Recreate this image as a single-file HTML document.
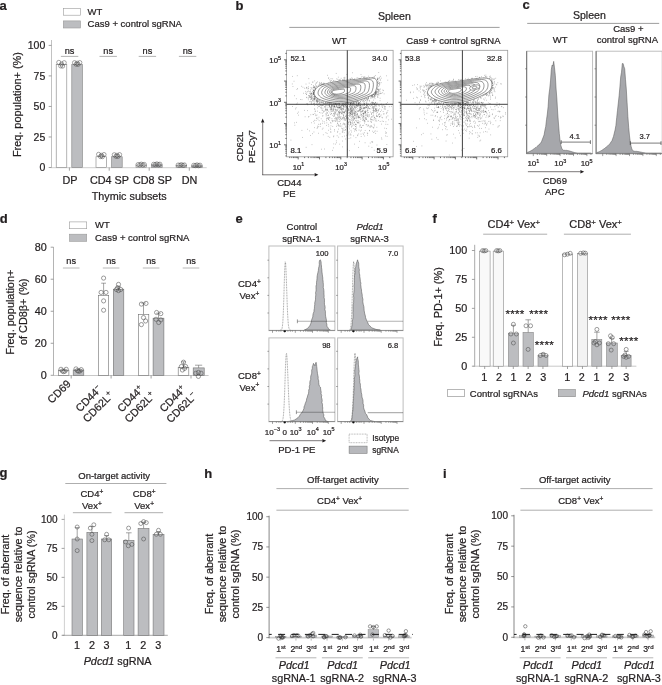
<!DOCTYPE html>
<html lang="en">
<head>
<meta charset="utf-8">
<title>Figure</title>
<style>
html,body{margin:0;padding:0;background:#fff;}
body{width:662px;height:685px;overflow:hidden;}
svg{display:block;}
svg text{font-family:"Liberation Sans",Arial,Helvetica,sans-serif;fill:#231f20;stroke:#231f20;stroke-width:0.22px;}
</style>
</head>
<body>
<svg width="662" height="685" viewBox="0 0 662 685">
<rect width="662" height="685" fill="#fff"/>
<text x="-0.5" y="9.6" font-size="13" font-weight="bold" fill="#111">a</text>
<rect x="63.3" y="8.3" width="17.2" height="6.9" fill="white" stroke="#999" stroke-width="0.6"/>
<rect x="63.3" y="20.9" width="17.2" height="7.1" fill="#bcbdc0" stroke="#999" stroke-width="0.6"/>
<text x="87.6" y="14.8" font-size="9.5">WT</text>
<text x="87.6" y="27.2" font-size="9.5">Cas9 + control sgRNA</text>
<line x1="51.5" y1="40" x2="51.5" y2="168" stroke="#c2c2c2" stroke-width="1"/>
<line x1="50.5" y1="167.7" x2="206.7" y2="167.7" stroke="#cfcfcf" stroke-width="1"/>
<line x1="48.7" y1="167.5" x2="51.5" y2="167.5" stroke="#8a8a8a" stroke-width="0.8"/>
<text x="45.3" y="171.4" font-size="10.5" text-anchor="end">0</text>
<line x1="48.7" y1="136.97" x2="51.5" y2="136.97" stroke="#8a8a8a" stroke-width="0.8"/>
<text x="45.3" y="140.88" font-size="10.5" text-anchor="end">25</text>
<line x1="48.7" y1="106.45" x2="51.5" y2="106.45" stroke="#8a8a8a" stroke-width="0.8"/>
<text x="45.3" y="110.35" font-size="10.5" text-anchor="end">50</text>
<line x1="48.7" y1="75.92" x2="51.5" y2="75.92" stroke="#8a8a8a" stroke-width="0.8"/>
<text x="45.3" y="79.83" font-size="10.5" text-anchor="end">75</text>
<line x1="48.7" y1="45.4" x2="51.5" y2="45.4" stroke="#8a8a8a" stroke-width="0.8"/>
<text x="45.3" y="49.3" font-size="10.5" text-anchor="end">100</text>
<text x="20.8" y="104.6" font-size="10.9" text-anchor="middle" transform="rotate(-90 20.8 104.6)">Freq. population+ (%)</text>
<line x1="69.4" y1="167.5" x2="69.4" y2="170.7" stroke="#8a8a8a" stroke-width="0.8"/>
<rect x="56.2" y="64.69" width="10.6" height="102.81" fill="white" stroke="#808080" stroke-width="0.6"/>
<circle cx="58.8" cy="62.41" r="2.1" fill="none" stroke="#4d4d4d" stroke-width="0.5"/>
<circle cx="64.2" cy="62.73" r="2.1" fill="none" stroke="#4d4d4d" stroke-width="0.5"/>
<circle cx="61.6" cy="64.01" r="2.1" fill="none" stroke="#4d4d4d" stroke-width="0.5"/>
<circle cx="60.7" cy="65.93" r="2.1" fill="none" stroke="#4d4d4d" stroke-width="0.5"/>
<circle cx="62.6" cy="66.09" r="2.1" fill="none" stroke="#4d4d4d" stroke-width="0.5"/>
<rect x="71.8" y="64.69" width="10.6" height="102.81" fill="#bcbdc0" stroke="#808080" stroke-width="0.6"/>
<circle cx="74.5" cy="62.69" r="2.1" fill="none" stroke="#4d4d4d" stroke-width="0.5"/>
<circle cx="79.8" cy="62.59" r="2.1" fill="none" stroke="#4d4d4d" stroke-width="0.5"/>
<circle cx="77.2" cy="63.19" r="2.1" fill="none" stroke="#4d4d4d" stroke-width="0.5"/>
<circle cx="76.2" cy="64.29" r="2.1" fill="none" stroke="#4d4d4d" stroke-width="0.5"/>
<circle cx="78.1" cy="64.39" r="2.1" fill="none" stroke="#4d4d4d" stroke-width="0.5"/>
<text x="69.9" y="184.4" font-size="10.8" text-anchor="middle">DP</text>
<text x="69.6" y="53.6" font-size="9.2" text-anchor="middle">ns</text>
<line x1="60.9" y1="56.4" x2="78.3" y2="56.4" stroke="#aaa" stroke-width="0.9"/>
<line x1="109.2" y1="167.5" x2="109.2" y2="170.7" stroke="#8a8a8a" stroke-width="0.8"/>
<rect x="96" y="156.76" width="10.6" height="10.74" fill="white" stroke="#808080" stroke-width="0.6"/>
<circle cx="98.6" cy="154.36" r="2.1" fill="none" stroke="#4d4d4d" stroke-width="0.5"/>
<circle cx="104" cy="154.56" r="2.1" fill="none" stroke="#4d4d4d" stroke-width="0.5"/>
<circle cx="101.4" cy="155.36" r="2.1" fill="none" stroke="#4d4d4d" stroke-width="0.5"/>
<circle cx="100.5" cy="156.56" r="2.1" fill="none" stroke="#4d4d4d" stroke-width="0.5"/>
<circle cx="102.4" cy="156.66" r="2.1" fill="none" stroke="#4d4d4d" stroke-width="0.5"/>
<rect x="111.6" y="156.76" width="10.6" height="10.74" fill="#bcbdc0" stroke="#808080" stroke-width="0.6"/>
<circle cx="114.3" cy="154.76" r="2.1" fill="none" stroke="#4d4d4d" stroke-width="0.5"/>
<circle cx="119.6" cy="154.66" r="2.1" fill="none" stroke="#4d4d4d" stroke-width="0.5"/>
<circle cx="117" cy="155.26" r="2.1" fill="none" stroke="#4d4d4d" stroke-width="0.5"/>
<circle cx="116" cy="156.36" r="2.1" fill="none" stroke="#4d4d4d" stroke-width="0.5"/>
<circle cx="117.9" cy="156.46" r="2.1" fill="none" stroke="#4d4d4d" stroke-width="0.5"/>
<text x="109.4" y="184.4" font-size="10.8" text-anchor="middle">CD4 SP</text>
<text x="108.2" y="53.6" font-size="9.2" text-anchor="middle">ns</text>
<line x1="99.5" y1="56.4" x2="116.9" y2="56.4" stroke="#aaa" stroke-width="0.9"/>
<line x1="149.2" y1="167.5" x2="149.2" y2="170.7" stroke="#8a8a8a" stroke-width="0.8"/>
<rect x="136" y="165.06" width="10.6" height="2.44" fill="white" stroke="#808080" stroke-width="0.6"/>
<circle cx="138.1" cy="164.56" r="2.1" fill="none" stroke="#4d4d4d" stroke-width="0.5"/>
<circle cx="144.3" cy="164.46" r="2.1" fill="none" stroke="#4d4d4d" stroke-width="0.5"/>
<circle cx="141.3" cy="164.16" r="2.1" fill="none" stroke="#4d4d4d" stroke-width="0.5"/>
<circle cx="139.8" cy="164.86" r="2.1" fill="none" stroke="#4d4d4d" stroke-width="0.5"/>
<circle cx="142.9" cy="164.96" r="2.1" fill="none" stroke="#4d4d4d" stroke-width="0.5"/>
<rect x="151.6" y="164.81" width="10.6" height="2.69" fill="#bcbdc0" stroke="#808080" stroke-width="0.6"/>
<circle cx="153.7" cy="164.31" r="2.1" fill="none" stroke="#4d4d4d" stroke-width="0.5"/>
<circle cx="159.9" cy="164.21" r="2.1" fill="none" stroke="#4d4d4d" stroke-width="0.5"/>
<circle cx="156.9" cy="163.91" r="2.1" fill="none" stroke="#4d4d4d" stroke-width="0.5"/>
<circle cx="155.4" cy="164.61" r="2.1" fill="none" stroke="#4d4d4d" stroke-width="0.5"/>
<circle cx="158.5" cy="164.71" r="2.1" fill="none" stroke="#4d4d4d" stroke-width="0.5"/>
<text x="152.4" y="184.4" font-size="10.8" text-anchor="middle">CD8 SP</text>
<text x="147.4" y="53.6" font-size="9.2" text-anchor="middle">ns</text>
<line x1="138.7" y1="56.4" x2="156.1" y2="56.4" stroke="#aaa" stroke-width="0.9"/>
<line x1="189.3" y1="167.5" x2="189.3" y2="170.7" stroke="#8a8a8a" stroke-width="0.8"/>
<rect x="176.1" y="165.55" width="10.6" height="1.95" fill="white" stroke="#808080" stroke-width="0.6"/>
<circle cx="178.2" cy="165.05" r="2.1" fill="none" stroke="#4d4d4d" stroke-width="0.5"/>
<circle cx="184.4" cy="164.95" r="2.1" fill="none" stroke="#4d4d4d" stroke-width="0.5"/>
<circle cx="181.4" cy="164.65" r="2.1" fill="none" stroke="#4d4d4d" stroke-width="0.5"/>
<circle cx="179.9" cy="165.35" r="2.1" fill="none" stroke="#4d4d4d" stroke-width="0.5"/>
<circle cx="183" cy="165.45" r="2.1" fill="none" stroke="#4d4d4d" stroke-width="0.5"/>
<rect x="191.7" y="165.79" width="10.6" height="1.71" fill="#bcbdc0" stroke="#808080" stroke-width="0.6"/>
<circle cx="193.8" cy="165.29" r="2.1" fill="none" stroke="#4d4d4d" stroke-width="0.5"/>
<circle cx="200" cy="165.19" r="2.1" fill="none" stroke="#4d4d4d" stroke-width="0.5"/>
<circle cx="197" cy="164.89" r="2.1" fill="none" stroke="#4d4d4d" stroke-width="0.5"/>
<circle cx="195.5" cy="165.59" r="2.1" fill="none" stroke="#4d4d4d" stroke-width="0.5"/>
<circle cx="198.6" cy="165.69" r="2.1" fill="none" stroke="#4d4d4d" stroke-width="0.5"/>
<text x="189.5" y="184.4" font-size="10.8" text-anchor="middle">DN</text>
<text x="187.6" y="53.6" font-size="9.2" text-anchor="middle">ns</text>
<line x1="178.9" y1="56.4" x2="196.3" y2="56.4" stroke="#aaa" stroke-width="0.9"/>
<text x="129.2" y="200" font-size="10.8" text-anchor="middle">Thymic subsets</text>
<text x="235.6" y="9.8" font-size="13" font-weight="bold" fill="#111">b</text>
<text x="394.4" y="19.5" font-size="10.6" text-anchor="middle">Spleen</text>
<line x1="289.3" y1="27.4" x2="499.6" y2="27.4" stroke="#929292" stroke-width="0.9"/>
<text x="339.3" y="43.7" font-size="9.5" text-anchor="middle">WT</text>
<text x="453.4" y="43.7" font-size="9.5" text-anchor="middle">Cas9 + control sgRNA</text>
<path d="M312.66,114.38h.6M327.17,103.25h.6M320.81,102.97h.6M313.88,98.78h.6M355.01,120.62h.6M354.64,114.99h.6M356.3,112.26h.6M312.14,93.17h.6M373.36,127.86h.6M300.99,86.27h.6M354.37,113.61h.6M377.24,89.6h.6M372.39,103.42h.6M346.8,110.83h.6M383.31,104.59h.6M337.94,112h.6M290.65,140.15h.6M348.98,150.64h.6M377.21,79.5h.6M373.45,78.55h.6M363.77,113.09h.6M346.78,111.99h.6M350.08,110.72h.6M325.16,109.65h.6M330.77,103.4h.6M314.08,127.61h.6M334.44,102.83h.6M313.76,98.75h.6M351.71,107.79h.6M351.79,106.78h.6M321.68,102.06h.6M355.31,126.56h.6M354.89,105.29h.6M379.77,98.25h.6M349.77,114.91h.6M298.01,115.17h.6M376.24,116.21h.6M362.78,133.31h.6M322.6,105.51h.6M328.51,111.27h.6M315.75,96.99h.6M352.35,101.76h.6M355.83,107.45h.6M376.4,105.96h.6M355.3,124.58h.6M320.44,123.8h.6M313.33,91.12h.6M328.3,130.27h.6M352.76,117.05h.6M352.77,105.58h.6M375.02,91.98h.6M349.73,112.24h.6M336.56,114.32h.6M344.81,107.87h.6M348.4,115.6h.6M327.39,110.43h.6M363.43,125.38h.6M311.62,98.75h.6M332.75,104.06h.6M372.62,78.1h.6M326.04,118.24h.6M388.43,119.84h.6M365.68,113.91h.6M366.94,109.86h.6M375.73,120.1h.6M325.59,107.06h.6M329.99,81.04h.6M334.38,131.06h.6M347.29,107.21h.6M321.68,110.01h.6M384.89,106.99h.6M314.85,87.86h.6M317.38,99.84h.6M326.88,112.85h.6M329.78,109.19h.6M341.48,105.58h.6M363.64,108.45h.6M387.63,110.51h.6M348.33,109.84h.6M348.63,119.14h.6M353.14,103.25h.6M311.72,98.2h.6M323.44,103.55h.6M307.94,99.76h.6M346.81,110.92h.6M360.44,105.75h.6M363.78,103.66h.6M378.45,86.6h.6M317.51,100.55h.6M350.32,103.72h.6M354.3,112.22h.6M343.18,106.37h.6M339.88,111.95h.6M374.67,92.92h.6M373.35,108.86h.6M359.69,121.72h.6M371.54,112.99h.6M375.05,93.51h.6M354.4,107.44h.6M315.66,85.49h.6M329.83,81.31h.6M347.69,103.15h.6M369.07,77.84h.6M350.49,117.05h.6M350.06,109.39h.6M374.84,130.83h.6M377.64,92.3h.6M350.54,107.76h.6M334.45,107.04h.6M331.07,109.88h.6M377.9,91.88h.6M353.44,135.85h.6M304.05,88.22h.6M327.69,107.39h.6M350.87,104.63h.6M316.03,86.42h.6M379.75,100.66h.6M332.7,109.38h.6M314.61,113.38h.6M348.21,118.36h.6M371.04,119.68h.6M355.84,101.92h.6M346.79,103.04h.6M331.7,120.35h.6M361.74,111.4h.6M332.72,106.09h.6M378.81,82.52h.6M349.99,103.74h.6M314.38,90.52h.6M355.91,115.2h.6M355.59,107.14h.6M350.73,134.95h.6M346.06,107.1h.6M358.54,105.16h.6M323.75,104.39h.6M313.06,92.79h.6M375.07,91.92h.6M333.55,81.21h.6M319.67,101.19h.6M362.78,109.03h.6M375.63,93.54h.6M339.3,112.92h.6M314.11,93.28h.6M360.23,101.24h.6M352.13,112.53h.6M320.57,105.63h.6M375.95,93.84h.6M374.81,111.15h.6M373.65,96.28h.6M337.42,115.93h.6M357.99,116.66h.6M370.22,121.25h.6M355,101.37h.6M348.2,110.26h.6M378.11,115.01h.6M329.17,102.46h.6M366.55,111.35h.6M375.74,110.11h.6M317.3,111.15h.6M313.94,123.09h.6M352.86,108.63h.6M341.3,108.3h.6M363.12,101.08h.6M378,78.77h.6M365.3,112.94h.6M376.58,127.3h.6M372.43,119.81h.6M345.68,102.78h.6M357.2,111.12h.6M357.5,108.42h.6M322.86,103.25h.6M361.58,111.93h.6M315.99,118.41h.6M346.36,104.29h.6M345.75,113.89h.6M378.05,89.84h.6M365.25,100.47h.6M370.87,119.58h.6M349.3,109.15h.6M373.82,124.29h.6M360.41,107.13h.6M380.2,111.54h.6M352.48,120.76h.6M324.36,111.24h.6M367.81,98.17h.6M359.76,115.61h.6M345.04,105.77h.6M359.81,109.84h.6M369.09,100.43h.6M338.29,125.59h.6M325.76,103.62h.6M366.49,98.44h.6M351.19,120.34h.6M373.96,103.75h.6M358.03,110.56h.6M343.18,109.2h.6M377.03,95.96h.6M310.86,95.06h.6M385.83,103.62h.6M376.52,121.15h.6M374.86,94.51h.6M355.94,104.01h.6M343.39,79.96h.6M364.03,103.29h.6M363.14,113.51h.6M362.09,117.88h.6M314.27,92.34h.6M333.94,112.02h.6M373.35,94.38h.6M292.19,106.48h.6M363.39,114.05h.6M314.99,114.98h.6M332.31,104.71h.6M349.09,106.69h.6M376.06,116.11h.6M351.94,114.66h.6M360.39,105.47h.6M386.3,75.82h.6M341.56,105.7h.6M343.41,105.81h.6M319.09,99.75h.6M330.12,107.81h.6M313.19,96.39h.6M378.66,89.13h.6M354.43,103.84h.6M344.13,119.89h.6M355.66,137.6h.6M366.12,105.09h.6M363.86,111.33h.6M355.22,117.07h.6M317.34,101.52h.6M344.33,112.42h.6M329.35,105.46h.6M314.2,95.63h.6M319.86,124.42h.6M361.8,119.01h.6M334.52,118.7h.6M329.91,104.11h.6M342.75,118.4h.6M366.55,124.69h.6M353.64,119.04h.6M314.13,96.87h.6M339.01,103.56h.6M333.44,108.55h.6M303.37,93.26h.6M352.54,110.43h.6M311.35,84.53h.6M324.94,102.52h.6M341.64,109.85h.6M338.28,118.71h.6M343.42,117.19h.6M338.45,137.18h.6M342.9,80.23h.6M363.39,113.55h.6M351.96,109.3h.6M368.04,116.88h.6M333.78,105.67h.6M328.08,119.48h.6M377.02,94.41h.6M325.79,115.92h.6M325.83,103.55h.6M335.92,104.31h.6M376.74,82.07h.6M353.5,108.93h.6M373.8,94.04h.6M373.22,107.62h.6M341.29,109.87h.6M344.12,113.05h.6M360.55,109.43h.6M323.54,105.29h.6M336.42,106.05h.6M324.47,123.15h.6M332.03,105.75h.6M319.72,100.88h.6M313.38,85.49h.6M350.57,123.59h.6M328.99,120.32h.6M357.46,101.66h.6M334.48,120.76h.6M349.92,133.91h.6M337.62,103.82h.6M337,132.31h.6M381.27,124.12h.6M349.27,116.28h.6M342.64,124.28h.6M356.21,104.01h.6M370.6,95.39h.6M317.28,126.2h.6M313.8,94.56h.6M346.66,105.72h.6M338.59,103.9h.6M323.05,102.41h.6M349.98,113.42h.6M324.71,103.74h.6M338.07,117.1h.6M319.37,112.49h.6M340.37,123.51h.6M333.24,136.74h.6M365.64,119.33h.6M335.39,107.74h.6M312.77,100.02h.6M348.78,131.92h.6M371.16,141.82h.6M343.51,105.64h.6M334.85,103.81h.6M367.05,99.69h.6M372,77.75h.6M367.96,125.06h.6M340.44,126.37h.6M350.09,113.76h.6M367.38,99.79h.6M315.16,97.03h.6M333.96,103.79h.6M308.83,95.66h.6M363.57,77.65h.6M310.91,93.11h.6M322.68,84.2h.6M316.86,98.13h.6M344.34,136.09h.6M371.76,102.86h.6M349.95,111.21h.6M316.2,99.4h.6M374.34,103.53h.6M359.67,125.11h.6M310.84,98.3h.6M328.12,115.36h.6M312.92,94.49h.6M342.07,146.89h.6M336.54,106.19h.6M375.69,92.71h.6M313.85,87.04h.6M332.97,147.87h.6M353.89,106.44h.6M378.32,93.73h.6M330.49,129.5h.6M372.78,97.39h.6M378.33,120.47h.6M325.55,108.52h.6M341.74,109.25h.6M331.78,110h.6M341.98,103.75h.6M344.98,102.93h.6M346,103.82h.6M364.76,142.74h.6M363.99,76.8h.6M358.52,102.51h.6M348.4,113h.6M329.76,107.42h.6M356.74,113.37h.6M372.82,110.53h.6M371.22,121.96h.6M379.15,116.76h.6M375.5,93.7h.6M322.2,123.26h.6M369.72,77.9h.6M327.85,136.4h.6M376.79,131.31h.6M355.02,111.91h.6M363.3,119.14h.6M379.9,79.45h.6M358.73,130.1h.6M377.23,88.69h.6M356.79,101.29h.6M333.01,110.63h.6M338.87,80.08h.6M328.54,117.81h.6M345.36,103.98h.6M347.85,117.63h.6M344.15,123.83h.6M352.38,117.22h.6M352.79,109.06h.6M339.62,105.18h.6M356.31,102.66h.6M333.52,143.86h.6M370.95,117.7h.6M320.33,85.27h.6M329.52,137.35h.6M332.28,150.35h.6M340.82,105.92h.6M316.91,102.76h.6M378.87,116.92h.6M341.92,105.74h.6M374.7,98.66h.6M342.97,103.78h.6M344.74,118.66h.6M310.18,96.55h.6M348.37,104.02h.6M363.6,120.15h.6M356.12,127.97h.6M368.36,98.29h.6M310.33,99.53h.6M368.53,146.2h.6M385.61,133.52h.6M373,113.95h.6M333.89,106.61h.6M329.3,104.51h.6M334.38,116.19h.6M359.59,126.11h.6M359.25,78.66h.6M380.85,82.65h.6M366.98,110.66h.6M377.25,79.83h.6M333.82,104.37h.6M350.04,103.04h.6M327.43,113.04h.6M380.9,78.18h.6M323.01,111.13h.6M337.97,107.01h.6M375.44,133.51h.6M310.99,99.26h.6M379.85,121.44h.6M381.43,93.33h.6M371.05,105.32h.6M329.25,105.32h.6M341.3,113.78h.6M343.54,116.86h.6M320.88,108.14h.6M367.81,99.88h.6M339.04,107.37h.6M304.79,116.75h.6M331.2,106.89h.6M331.67,103.33h.6M374.59,119.28h.6M385.63,121.75h.6M321.91,129.16h.6M342.47,129.99h.6M350.46,113.23h.6M311.45,98.87h.6M371.37,126.57h.6M333.84,113.83h.6M325.22,106.89h.6M354.02,113.41h.6M370.47,96.55h.6M385.57,124.3h.6M387.62,115.92h.6M312.77,94.1h.6M386.6,144.5h.6M326.02,110.76h.6M377.5,97.03h.6M366.36,77.99h.6M306.47,97.27h.6M314.57,109.34h.6M354.4,78.88h.6M355.69,103.15h.6M361.23,76.95h.6M374.09,95.24h.6M309.09,96.1h.6M369.11,108.6h.6M350.3,119.9h.6M313.08,93.27h.6M336.75,125.07h.6M379.41,113.97h.6M358.28,104.7h.6M371.03,102.3h.6M358.1,147.43h.6M380.42,76.38h.6M323.71,84.55h.6M354.17,114.85h.6M342.06,79.78h.6M373.79,118.01h.6M334.65,106.31h.6M378.97,78.3h.6M353.5,119.98h.6M363.21,107.35h.6M379.98,89.07h.6M371.3,114.47h.6M315.13,95.84h.6M352.63,105.1h.6M332.35,102.64h.6M308.11,86.84h.6M339.58,108.09h.6M323.95,103.46h.6M372.75,115.73h.6M313.29,114.55h.6M366.43,107.38h.6M328.08,115.14h.6M317.77,101.2h.6M365.47,117.73h.6M349.77,103.46h.6M306.18,87.5h.6M371.99,107.91h.6M342.79,129.21h.6M345.03,110.32h.6M335.64,110.51h.6M343.71,127.95h.6M366.94,126.12h.6M373.95,76.46h.6M343.31,115.37h.6M385.34,131.98h.6M386.47,112.79h.6M360.04,131.07h.6M376.51,109.5h.6M338.83,111.29h.6M359.64,107.94h.6M324.02,106.91h.6M364.77,108.64h.6M317.06,127.63h.6M344.27,112.47h.6M346.8,102.6h.6M331.33,105.93h.6M351.77,111.97h.6M352.65,115.2h.6M319.21,84.4h.6M360.71,134.13h.6M358.25,105.25h.6M332.78,104.56h.6M366.91,133.06h.6M375,108.55h.6M359.64,102.78h.6M365.16,106.86h.6M357.93,103.59h.6M350.61,102.59h.6M323.8,121.61h.6M339.67,133.9h.6M356.04,105.82h.6M358.91,102.9h.6M341.92,104.66h.6M376.67,145h.6M349.75,104.92h.6M347.35,121.01h.6M360,109.2h.6M336.34,105.97h.6M338.4,108.84h.6M331.62,106.87h.6M334.51,106.26h.6M383.87,106.06h.6M337.3,123.27h.6M343.79,106.52h.6M368.53,103.97h.6M370.84,103.88h.6M350.23,122.26h.6M373.28,100.12h.6M363.97,105.52h.6M342.34,113.98h.6M350.66,124.21h.6M354.06,105.04h.6M322.7,115.69h.6M382.58,105.59h.6M329.45,106.24h.6M356.5,104.93h.6M333.11,107.79h.6M371.21,95.91h.6M357.94,122.06h.6M342.12,108.65h.6M309.02,97.39h.6M346.5,114.79h.6M355.89,118.41h.6M336.04,107.14h.6M316.25,101.55h.6M339.21,104.41h.6M326.91,105.62h.6M374.36,93.81h.6M379.05,108.82h.6M315.41,97.91h.6M328.94,103.21h.6M331.17,80.41h.6M378.27,90.11h.6M313.06,92.46h.6M314.87,96.6h.6M360.31,119.22h.6M374.87,120.95h.6M348.99,112.93h.6M342.33,110.97h.6M294.57,125.25h.6M360.27,112.12h.6M370.92,97.97h.6M312.21,97.71h.6M314.5,98.43h.6M338.23,129.14h.6M359.07,102.65h.6M291.92,83.94h.6M328.24,78.36h.6M376.49,110.57h.6M381.25,104.09h.6M340.8,108.87h.6M349.14,128.83h.6M352.08,107.27h.6M351.39,78.01h.6M369.89,143.05h.6M347.88,108.8h.6M318.62,85.12h.6M350.17,111.91h.6M335.95,140.85h.6M339.13,112.56h.6M334.76,114.18h.6M310.02,91.61h.6M336.03,117.85h.6M308.29,91.03h.6M308.18,88.43h.6M366.08,119.05h.6M353.8,125.46h.6M320.73,85.19h.6M345.98,106.49h.6M382.44,92.69h.6M383.02,113.95h.6M336.54,109.89h.6M353.36,103.17h.6M333.74,113.66h.6M364.03,112.82h.6M331.64,118.65h.6M366.39,105.31h.6M375.89,92.73h.6M335.41,117.37h.6M371.2,113.68h.6M387.12,102.48h.6M361.74,104.29h.6M342.71,105.32h.6M375.83,110.07h.6M375.1,94.97h.6M363.44,104.06h.6M333.53,113.46h.6M363.73,99.29h.6M376.25,92.47h.6M380.83,114.96h.6M334.68,109.03h.6M377.8,92.75h.6M325.63,132.61h.6M360.4,78.4h.6M334.91,118.51h.6M311.56,88.87h.6M374.5,131.82h.6M313.11,90.45h.6M375.9,93.92h.6M368.82,96.49h.6M366.78,104.17h.6M337.79,114.38h.6M328.19,102.79h.6M314.55,97.91h.6M346.67,117.79h.6M357.92,116h.6M333.21,103.77h.6M305.81,147.33h.6M372.31,102.15h.6M362.67,108.36h.6M377.49,85.67h.6M342.45,80.32h.6M356.28,117.65h.6M346.58,80.19h.6M379.32,114.1h.6M361.59,107.11h.6M345.02,116.43h.6M370.36,106.27h.6M372.95,106.65h.6M314.42,99.28h.6M369.31,116.11h.6M374.02,77.41h.6M339.5,103.16h.6M330.93,113.84h.6M322.35,120.97h.6M330.66,123.2h.6M351.47,103.04h.6M348.51,124.3h.6M339.57,80.19h.6M374.34,104.5h.6M320.42,107.66h.6M357.48,105.33h.6M382.82,111.51h.6M357.2,113.92h.6M357.81,120.52h.6M348.89,102.35h.6M378.44,114.27h.6M352.77,118.56h.6M342.44,118.18h.6M351.27,110.05h.6M352.97,124.29h.6M353.18,102.86h.6M346.49,109.74h.6M332.69,111.33h.6M342.77,119.77h.6M355.46,107.98h.6M305.72,84.07h.6M375.06,102.43h.6M363.83,77.77h.6M339.38,103.56h.6M350.49,124.03h.6M364.2,104.73h.6M337.03,114.08h.6M324.94,110.6h.6M327.21,102.96h.6M338.78,113.76h.6M353.34,103.1h.6M358.52,105.75h.6M313.45,98.07h.6M342.58,108.23h.6M364.56,116.89h.6M372.82,110.25h.6M345.3,111.32h.6M320.88,84.85h.6M361.38,114.35h.6M357.34,115.74h.6M381.65,117.3h.6M333.11,103.2h.6M373.73,111.77h.6M362.24,105.67h.6M310.35,135.47h.6M351.79,103.86h.6M331.21,113.43h.6M319.8,102.32h.6M377.34,82.02h.6M340.72,116.78h.6M377.05,82.87h.6M326.86,115.57h.6M312.08,91.52h.6M331.52,108.17h.6M379.88,80.54h.6M329.57,106.58h.6M317.97,106.54h.6M381.01,110.08h.6M318.8,120.66h.6M335.15,104.12h.6M363.57,102.24h.6M350.99,107.39h.6M347,102.96h.6M347.18,108.09h.6M360.48,105.28h.6M347.7,123.73h.6M376.91,91.31h.6M305.92,88.45h.6M337.38,103.28h.6M305.01,93.33h.6M347.13,107.87h.6M386.29,128.55h.6M351.12,127.06h.6M348.74,119.84h.6M339.86,120.79h.6M352.03,105.78h.6M369.86,126.04h.6M313.04,87.08h.6M359.29,109.96h.6M358.87,103.58h.6M358.44,117.58h.6M342.97,106.27h.6M381.14,137.88h.6M352.83,105.03h.6M348.65,110.92h.6M378.12,109.6h.6M339.29,119.52h.6M384.53,108.95h.6M335.87,73.45h.6M327.96,124.4h.6M350.58,103.37h.6M313.67,132.03h.6M370.9,122.23h.6M336.14,142.73h.6M305.51,91.44h.6M317.22,105.16h.6M323.24,101.73h.6M332.48,126.45h.6M346.13,115.22h.6M387.57,124.41h.6M371.66,147.42h.6M381.6,139.2h.6M364.86,118h.6M343.88,107.06h.6M328.5,77.79h.6M350.96,112.45h.6M360.02,101.48h.6M364.2,107.55h.6M372.4,112.54h.6M321.99,116.05h.6M327.08,103.27h.6M372.51,102.73h.6M345,129.6h.6M322.07,102.78h.6M366.78,98.46h.6M376.26,104.5h.6M364.85,118.43h.6M315.32,111.18h.6M355.94,105.61h.6M354.85,124.27h.6M349.77,113.05h.6M322.11,105.39h.6M347.11,107.08h.6M352.44,116.78h.6M375.26,102.72h.6M341.89,136.69h.6M353.79,111.83h.6M347.15,120.35h.6M372.45,96.5h.6M365.25,112.09h.6M307.35,129.29h.6M352.19,103.59h.6M315.95,82.52h.6M366.79,103.37h.6M379.52,82.5h.6M331.3,105.52h.6M360.76,108.4h.6M347.32,129.44h.6M319.12,106.14h.6M382.27,107.04h.6M364.82,107.63h.6M377.36,110.78h.6M370.62,108.75h.6M355.35,102.07h.6M364.44,136.01h.6M352,104.08h.6M346.73,108.02h.6M317.25,81.86h.6M310.51,93.76h.6M336.5,78.83h.6M315.78,120.41h.6M330.1,114.53h.6M379.49,90.09h.6M312.83,101.72h.6M365.01,110.69h.6M339.35,107.82h.6M348.38,108.9h.6M309.54,93.54h.6M295.95,98.73h.6M344.73,111.61h.6M325.43,109.44h.6M338.92,105.76h.6M345.75,102.77h.6M340.69,109.23h.6M352.79,103.87h.6M364.4,123.08h.6M338.56,125.98h.6M341.73,103.74h.6M329.42,105.07h.6M330.73,78.54h.6M371.43,96.11h.6M352.15,78.39h.6M309.12,91.72h.6M373.08,103.06h.6M343.49,114.42h.6M347.45,130.86h.6M371.88,107.42h.6M351.09,116.75h.6M350.46,105.56h.6M371.62,77.87h.6M343.89,104.74h.6M375.6,102.72h.6M372.45,142.12h.6M339.69,116.95h.6M363.68,107.48h.6M334.93,103.75h.6M348.47,122.31h.6M361.2,127.43h.6M312.95,98.88h.6M377.03,103.17h.6M302.36,137.44h.6M353.48,102.64h.6M351.38,108.68h.6M292.13,76.44h.6M351.03,105.8h.6M336.28,104.01h.6M335.49,112.67h.6M329.57,118.02h.6M328.92,103.32h.6M333.78,104.69h.6M292.66,86.53h.6M308.55,78.64h.6M367.09,116.28h.6M312.57,100.79h.6M351.71,104.1h.6M346.86,102.48h.6M354.04,115.06h.6M383.8,113.82h.6M355.11,115.6h.6M341,128.22h.6M318.66,117.23h.6M375.99,91.51h.6M343.48,104.46h.6M351.46,114.49h.6M321.68,105.29h.6M332.45,81.68h.6M312.97,90.83h.6M348.24,103.18h.6M359.28,117.44h.6M311.78,95.31h.6M317.89,101.45h.6M331.36,104.47h.6M343.52,109.52h.6M314.69,99.12h.6M363.31,114.91h.6M344.42,104.47h.6M355.49,128.52h.6M371.62,105.09h.6M342.43,112.55h.6M331.22,111.43h.6M349.98,103.89h.6M331.39,106.15h.6M336.53,119.31h.6M318.4,126.7h.6M377.27,116.17h.6M374.91,92.78h.6M315.36,84.32h.6M346.68,106.06h.6M372.77,108.53h.6M385.99,113.69h.6M331.63,108.76h.6M326.58,122.84h.6M351.03,118.64h.6M337.17,117.63h.6M363.17,113.14h.6M372.67,97.83h.6M359.3,106.01h.6M372.08,95.61h.6M379.2,116.61h.6M360.71,74.55h.6M369.05,108.65h.6M367.73,108.11h.6M378.53,94.67h.6M366.04,119.48h.6M376.7,91.77h.6M349.58,114.68h.6M343.75,111.11h.6M330.58,132.49h.6M379.65,91.46h.6M333.05,116.45h.6M311.19,101.62h.6M324.56,106.77h.6M351.31,103.32h.6M310.67,87.66h.6M355.85,107h.6M349.05,121.85h.6M364.26,120.63h.6M349.4,106.13h.6M375.82,91.95h.6M310.01,89.93h.6M335.78,81.56h.6M336.21,126.43h.6M355.55,129.76h.6M350.3,122.54h.6M386.08,132.7h.6M307.57,104.83h.6M372.29,104.9h.6M317.27,98.27h.6M355.88,105.3h.6M355.06,113.96h.6M367.93,121.27h.6M314.31,103.44h.6M318.06,86.39h.6M375.78,111.55h.6M351.18,126.11h.6M322.13,84.57h.6M379.07,84.47h.6M314.07,97.22h.6M352.71,108.24h.6M367.55,121.13h.6M336.49,105.3h.6M335.03,109.76h.6M306.25,94.41h.6M326.91,109.17h.6M314.25,120.34h.6M329.18,102.89h.6M374.65,106.93h.6M352.42,111.09h.6M339.79,106.12h.6M370.35,98.02h.6M330.55,131.5h.6M314.48,80.85h.6M339.85,112.31h.6M357.76,122.7h.6M297.38,113.34h.6M344.45,104.61h.6M315.84,100.57h.6M347.62,121.86h.6M327.8,118.26h.6M375.86,90.94h.6M332.46,78.82h.6M312.01,133.67h.6M363.12,100.4h.6M349.28,104.88h.6M337.08,120.85h.6M354.17,115.79h.6M333.12,80.62h.6M321.39,83.08h.6M357.07,106.04h.6M339.79,107.36h.6M353.96,110.33h.6M310.54,114.76h.6M328.9,102.65h.6M342.87,108.92h.6M373.89,103.89h.6M343.98,79.04h.6M314.42,87.69h.6M294.22,122.86h.6M336.81,135.78h.6M362.33,120.43h.6M364.03,107.84h.6M350.83,102.66h.6M314.01,92.14h.6M368.42,125.76h.6M334.51,112.14h.6M377.09,87.23h.6M352.06,72.75h.6M377.3,94.19h.6M331.36,105.14h.6M335.38,144.13h.6M356.31,101.94h.6M373.54,106.86h.6M372.41,95.23h.6M339.32,117.82h.6M366.33,106.72h.6M321.69,101.61h.6M359.71,78.7h.6M359.76,103.35h.6M332.47,115.36h.6M296.05,104.13h.6M320.68,112.9h.6M373.88,150.26h.6M364.95,77.26h.6M358.56,111.05h.6M337.36,119.2h.6M312.96,87.07h.6M348.71,138.52h.6M350.15,108.87h.6M366.57,101.97h.6M326.15,114.27h.6M388.92,106.67h.6M350.29,115.54h.6M357.88,104.18h.6M350.46,108.56h.6M382.55,90.05h.6M343.63,105.57h.6M334.47,105.51h.6M367.47,115.19h.6M371.24,95.38h.6M374.88,96.62h.6M339.37,107.76h.6M350.51,108.31h.6M351.48,114.32h.6M338.35,124.4h.6M313.09,93.69h.6M370.33,127.09h.6M314.47,89.82h.6M375.7,103.96h.6M375.32,109.54h.6M360.95,130.11h.6M314.6,95.01h.6M354.39,144.14h.6M364.02,104.65h.6M360.35,125.14h.6M364.03,101.22h.6M378.12,83.56h.6M317.19,102.68h.6M357.93,104.15h.6M347.2,149.23h.6M339.39,105.18h.6M360.84,136.53h.6M314.18,96.81h.6M376.41,115.18h.6M307.26,110.58h.6M360.81,108.66h.6M346.05,118.74h.6M381.49,105.91h.6M367.68,110.32h.6M383.19,121.47h.6M323.92,83.57h.6M335.27,113.27h.6M317.68,119.11h.6M377.16,78.65h.6M361.99,110.85h.6M375.13,91.6h.6M306.52,97.58h.6M387.54,80.2h.6M344.18,117.47h.6M330.68,125.79h.6M358.21,103.63h.6M367.98,107.38h.6M311.34,93.6h.6M335.34,120.14h.6M374.34,125.83h.6M373.6,96.51h.6M348.7,126.95h.6M338.61,112.38h.6M378.62,90.01h.6M297.43,103.05h.6M358.02,116.26h.6M383.78,108.8h.6M361.55,116.34h.6M335.7,104.52h.6M334.09,106.65h.6M295.83,107.76h.6M307.9,98.32h.6M345.99,116.82h.6M373.53,110.37h.6M340.02,106.68h.6M375.51,118.47h.6M367.06,112.35h.6M367.02,116.19h.6M345.29,105.08h.6M318.91,106.13h.6M349.74,107.51h.6M324.15,149.01h.6M351.48,113.18h.6M332.61,105.49h.6M354.78,108.4h.6M354.83,106.7h.6M313.06,87.79h.6M318.5,103.34h.6M308.98,96.08h.6M333.56,109.74h.6M344.92,116h.6M364.81,121.68h.6M340.31,80.14h.6M360.5,107.42h.6M310.28,94.51h.6M310.72,95.68h.6M375.2,105.54h.6M352.79,110.98h.6M344.19,103.34h.6M374.36,104.73h.6M362.71,76.59h.6M351.75,102.44h.6M313.98,100.01h.6M363.69,120.8h.6M374.45,117.62h.6M364.77,98.38h.6M338.29,107.62h.6M342.41,104.63h.6M321.45,107.91h.6M313.25,99.88h.6M319.98,83.65h.6M313.69,103.77h.6M316.7,117.93h.6M369.07,130.43h.6M332.24,120.75h.6M344.17,118.43h.6M385.96,116.84h.6M329.5,117.25h.6M370,112.05h.6M313.52,94.58h.6M366.86,100.8h.6M356.73,105.92h.6M353.34,109.85h.6M345.12,109.79h.6M329.41,106.39h.6M327.93,119.12h.6M342.27,128.45h.6M345.97,107.76h.6M373.46,104.32h.6M374.52,95.62h.6M346.14,104.41h.6M377.3,79.42h.6M327.01,75.31h.6M374.29,97.5h.6M368.08,106.45h.6M315.87,97.07h.6M326.06,120.58h.6M364.31,121.23h.6M358.12,103.23h.6M297.31,88.51h.6M348.87,110.29h.6M373.21,132.52h.6M368.5,108.19h.6M363.07,116.75h.6M352.94,117.24h.6M342.75,103.03h.6M373.57,127.68h.6M316.6,101.07h.6M314.27,101.95h.6M345.61,103.89h.6M366.06,103.55h.6M310.77,103.01h.6M365.72,114.4h.6M373.96,95.23h.6M328.48,126.18h.6M326.3,109.54h.6M347.6,123.91h.6M345.01,130.05h.6M346.95,126.27h.6M386.44,104.24h.6M373.02,112.54h.6M314.27,108.72h.6M336.1,102.97h.6M308.83,83.11h.6M380.11,93.6h.6M332.79,106.65h.6M330.62,109.18h.6M351.22,106.44h.6M312.82,89.43h.6M332.36,121.63h.6M306.62,87.33h.6M346.29,112.8h.6M337.67,115.59h.6M318.41,99.3h.6M377.24,78.78h.6M375.64,106h.6M356.11,121.75h.6M343.88,111.76h.6M316,88.48h.6M345.61,126.26h.6M329.53,79.78h.6M316.66,114.98h.6M374.11,117.31h.6M314.61,98.81h.6M377.61,77.8h.6M329.66,112.89h.6M357.05,114.26h.6M337.8,107.38h.6M330.84,82.18h.6M354.7,109.71h.6M333.79,115.12h.6M322.3,110.34h.6M314.38,105.5h.6M338.83,107.56h.6M336.48,111.22h.6M357.97,102.77h.6M359.34,117.06h.6M367.47,106.95h.6M372.21,95.88h.6M365.87,102.75h.6M339.5,116.89h.6M354.33,106.61h.6M343.85,132.65h.6M340.38,107.56h.6M362.62,116.95h.6M309.08,130.89h.6M350.05,124.63h.6M354.44,118.85h.6M321.61,102.07h.6M340.87,119.4h.6M330.06,110.96h.6M341.92,132.12h.6M356.16,102.96h.6M359.7,107.82h.6M356.5,109.85h.6M367.48,133.44h.6M318.06,133.25h.6M371,116.58h.6M352.15,113.73h.6M339.41,104.17h.6M364.6,113.12h.6M379.25,93.34h.6M354.46,129.17h.6M374.15,96.45h.6M330.5,103.4h.6M380.11,93.15h.6M370.33,119.36h.6M372.24,116.8h.6M374.05,105.09h.6M352.98,128.56h.6M369.43,114.8h.6M383.8,93.85h.6M376.91,116.44h.6M344.82,104.9h.6M375.13,92.44h.6M340.81,78.32h.6M334.45,106.77h.6M351.98,111.02h.6M312.98,92.17h.6M385.28,109.03h.6M325.12,103.96h.6M344.93,103.67h.6M372.35,106.57h.6M337.42,107.32h.6M330.04,102.52h.6M342.36,131.89h.6M385.3,135.92h.6M355.49,111.36h.6M323.99,84.02h.6M366.18,78.14h.6M329.96,102.22h.6M336.05,104.63h.6M374.44,95h.6M333.33,109.75h.6M356.87,102.93h.6M390.98,106.43h.6M340.3,108.87h.6M362.45,113.46h.6M341.4,107.53h.6M337.52,81.5h.6M372.3,141.91h.6M372.88,120.11h.6M354.15,102.19h.6M346.53,135.33h.6M381.86,121.1h.6M383.2,90.61h.6M367.32,105.92h.6M350.92,108.82h.6M297.98,112.09h.6M351.15,110.96h.6M365.33,115.5h.6M352.08,123.78h.6M365.64,98.8h.6M360.76,111.31h.6M363.15,108.54h.6M358.15,101.56h.6M308.1,117h.6M346.22,106.79h.6M349.76,113.92h.6M345.04,127.04h.6M364.3,103.85h.6M361.36,108.62h.6M316.76,99.58h.6M366.44,107.72h.6M353.45,112.73h.6M337.37,104.16h.6M314.58,99.83h.6M319.66,102.78h.6M346.54,117.3h.6M343.29,112.23h.6M336.67,118.23h.6M337.8,121.46h.6M380.52,104.4h.6M342.12,104.93h.6M349.88,104.08h.6M296.91,75.68h.6M371.81,103.06h.6M315.43,89.31h.6M350.88,110.38h.6M313.46,90.62h.6M354.37,122.62h.6M328.54,82.88h.6M367.8,98.18h.6M313.47,121.4h.6M314.73,87.84h.6M349.25,119.75h.6M325.44,113.97h.6M354.24,122.02h.6M367.52,77.59h.6M370.41,103.35h.6M335.32,121.51h.6M362.47,100h.6M315.63,88.9h.6M370.88,125.52h.6M358.53,78.32h.6M344.94,120.37h.6M365.83,107.22h.6M329.71,107.06h.6M339.45,114.25h.6M333.44,120.87h.6M346.52,118.66h.6M358.14,117.35h.6M340.99,118.97h.6M322.79,84.8h.6M315.82,101.65h.6M337.57,79.35h.6M365,111.94h.6M339.69,79.94h.6M358.91,117.72h.6M367.54,108.58h.6M315.76,115.65h.6M337.38,110.42h.6M372.84,102.93h.6M347.4,128.71h.6M316.45,103.22h.6M309.03,101.71h.6M340.86,111.02h.6M352.56,114.24h.6M314.75,111.28h.6M356.68,105.33h.6M317.79,100.58h.6M341.3,113.45h.6M335.19,109.69h.6M362.04,111.42h.6M346.53,111.14h.6M359.83,106.67h.6M306.61,92.77h.6M349.79,134.94h.6M301.64,130.42h.6M371.81,97.49h.6M345.51,105.44h.6M357.86,117.94h.6M310,97.63h.6M343.22,112.72h.6M331.53,102.87h.6M346.56,74.48h.6M357.07,117.04h.6M330.89,102.75h.6M338.26,103.38h.6M367.05,135.22h.6M350.16,111.98h.6M337.36,109.02h.6M320.86,118.74h.6M322.67,108.2h.6M364.84,130.48h.6M308.65,116.49h.6M347.8,103.31h.6M378.92,85.66h.6M306.43,94.24h.6M339.64,107.21h.6M365.97,99.28h.6M359.2,108.06h.6M347.79,134.83h.6M378.51,72.53h.6M341.59,126.04h.6M319.16,83.76h.6M336.23,118.95h.6M317.12,101.55h.6M365.79,124.67h.6M377.61,89.33h.6M316.49,100.64h.6M302.63,87.24h.6M363.87,103.92h.6M353.28,116.54h.6M356.53,120.35h.6M314.09,96.56h.6M340.38,118.55h.6M350.51,113.79h.6M360.01,109.68h.6M319.01,82.41h.6M316.44,100.58h.6M354.3,117.9h.6M348.26,133.11h.6M344.75,120.09h.6M355.14,113.8h.6M307.45,91.44h.6M377.83,83.42h.6M384.13,107.09h.6M360.77,114.67h.6M386.78,136.43h.6M372.52,127h.6M364.35,132.71h.6M385.91,117.9h.6M363.6,77.65h.6M326.77,133.46h.6M357.04,105.99h.6M339.57,107.1h.6M379.05,77.32h.6M318.16,124.34h.6M384.48,128.19h.6M348.15,122.34h.6M327.12,109.87h.6M309.92,97.4h.6M311.74,96.48h.6M326.38,119.13h.6M337.66,105.63h.6M317.23,107.86h.6M312.12,82.17h.6M378.34,110.39h.6M351.91,119.39h.6M380.14,116.15h.6M360.59,103.13h.6M319.07,102.79h.6M352.63,104.29h.6M368.37,104.28h.6M338.07,111.72h.6M337.54,131.42h.6M328.2,103.99h.6M378.58,95h.6M373.16,111.34h.6M338.44,117.03h.6M350.19,79.1h.6M340.05,117.89h.6M359.66,111.05h.6M350.75,122.46h.6M329.75,104.08h.6M339.49,144.18h.6M337.19,107.31h.6M295.15,108.93h.6M309.87,93.13h.6M321.1,149.24h.6M375.76,95.01h.6M354.5,107.66h.6M376.86,89.1h.6M352.11,113.2h.6M363.13,116.36h.6M313.15,93.18h.6M351.36,111.66h.6M352.03,125.83h.6M340.66,109.23h.6M330.47,122.46h.6M294.11,95.74h.6M323.2,112.1h.6M359.52,105.28h.6M336.31,120.79h.6M347.02,121.65h.6M310.43,101.28h.6M352.6,107.03h.6M363.24,119.11h.6M379.42,105.93h.6M373.05,77.24h.6M339.37,110.21h.6M386.9,112.18h.6M379.61,83.96h.6M313.01,93.18h.6M375.45,109.64h.6M369.32,130.8h.6M313.75,92.64h.6M373.04,109.28h.6M342.65,118.26h.6M335.35,104.29h.6M344.63,78.12h.6M371.9,96.53h.6M335.09,111.86h.6M335.61,103.53h.6M341.05,112.26h.6M355.65,126.5h.6M374.95,75.47h.6M359.77,127.31h.6M373.51,115.86h.6M320.29,104.53h.6M360.88,99.77h.6M372.92,94.52h.6M350.22,104.32h.6M308.25,95.46h.6M358.78,123.13h.6M327.22,102.13h.6M356.2,116.34h.6M349.41,115.78h.6M338.84,112.05h.6M364.81,119.9h.6M364.34,99.06h.6M317.73,105.07h.6M360.73,111.73h.6M311.29,93.19h.6M330.42,109.16h.6M354.35,113.15h.6M334.25,129.55h.6M373.12,94.34h.6M364.07,108.65h.6M337.03,123.19h.6M350.5,105.92h.6M373.6,102.66h.6M361.18,127.33h.6M362.2,110.38h.6M326.09,125.44h.6M358.48,104.41h.6M315.78,98.38h.6M360.65,107.22h.6M361.06,100.2h.6M357.96,103.68h.6M310.99,122.76h.6M351.01,110.19h.6M360.49,113.91h.6M356.89,111.25h.6M311.32,103.04h.6M357.12,100.97h.6M342.02,111.55h.6M361.61,105.83h.6M375.52,111.17h.6M311.66,87.83h.6M313.88,87.44h.6M344.54,77.35h.6M314.85,89.28h.6M313.83,94.06h.6M365.9,117.99h.6M296.65,89.49h.6M307.65,88.87h.6M368.13,97.99h.6M337.93,77.2h.6M361.37,115.16h.6M366.11,105.43h.6M366.91,105.68h.6M339.92,124.98h.6M369.31,101.18h.6M340.86,106.17h.6M374.79,93.9h.6M328.19,105.51h.6M359.7,110.14h.6M325.51,102.66h.6M344.38,80.45h.6M371.22,96.45h.6M371.77,95.29h.6M322.93,134.77h.6M343.04,123.23h.6M313.44,103.67h.6M384.01,150.33h.6M354.57,104.3h.6M363.64,115.17h.6M375.93,110.75h.6M321.37,84.3h.6M300.06,99.5h.6M354.59,118.57h.6M315.81,83.53h.6M366.18,115.71h.6M342.33,141.06h.6M339,115.7h.6M348.92,125.28h.6M357.85,122.84h.6M351.48,111.38h.6M352.44,121.98h.6M314.5,98.95h.6M327.38,118.14h.6M306.59,103.55h.6M357.24,114.35h.6M354.39,103.25h.6M344.72,124.05h.6M343.09,108.22h.6M363.48,105.65h.6M338.84,113.65h.6M331.23,109.49h.6M357.51,135.65h.6M320.9,82.75h.6M339.38,125.99h.6M350.72,130.39h.6M333.56,135.96h.6M363.29,117.1h.6M329.94,128.13h.6M357.68,106.38h.6M339.05,121.58h.6M355.64,124.3h.6M350.54,137.89h.6M311.72,94.95h.6M311.42,97.32h.6M301.69,99.61h.6M354.76,111.45h.6M351.84,115.35h.6M374.13,110.54h.6M372.47,131.23h.6M384.79,106.47h.6M344.69,125.01h.6M363.15,134.62h.6M353.14,120.16h.6M355.09,112.3h.6M381.94,107.31h.6M328.28,102.65h.6M328.84,104.25h.6M317.71,86.21h.6M313.01,90.34h.6M311.39,104.24h.6M326.74,109.36h.6M323.3,83.62h.6M308.52,97.19h.6M319.14,100.85h.6M356.19,114.6h.6M378.16,81.2h.6M349.92,121.6h.6M321.08,105.94h.6M322.75,128.18h.6M353.75,105h.6M377.16,84.62h.6M336.72,103.28h.6M312.73,82.01h.6M374.87,94.22h.6M343.5,77.92h.6M377.87,105.17h.6M326.35,105.23h.6M355.47,129.71h.6M341.7,113.19h.6M369.44,105.41h.6M343.94,130.36h.6M347.25,113.27h.6M310.84,96.92h.6M293.72,81.26h.6M325.09,102.82h.6M378.72,105.8h.6M366.98,114.08h.6M342.62,117.41h.6M351.81,109.89h.6M358.46,133.95h.6M334.69,80.89h.6M343.23,115.56h.6M346.92,105.46h.6M348.16,104.64h.6M333.73,106.72h.6M346.38,108.65h.6M375.97,113.17h.6M343.81,104.53h.6M322.39,113.16h.6M358.93,109.8h.6M342.82,112.27h.6M316.76,128.31h.6M365.13,112.14h.6M352.67,122.8h.6M368.37,112.52h.6M334.83,103.23h.6M391.29,119.22h.6M368,97.42h.6M317.47,99.01h.6M355.99,124.84h.6M331.5,107.29h.6M364.88,112.16h.6M368.36,76.2h.6M340.58,112.7h.6M342.81,102.95h.6M377.35,112.53h.6M325.06,105.52h.6M344.99,106.76h.6M367.87,115.03h.6M311.17,96.76h.6M327.72,117.96h.6M364.63,111.49h.6M379.23,83.6h.6M296.19,122.38h.6M346.05,117.05h.6M326.43,112.94h.6M375.62,108.55h.6M350.3,109.64h.6M359.85,104.19h.6M382.4,117.79h.6M356.81,77.63h.6M319.2,103.28h.6M364.91,112.08h.6M350.14,79.84h.6M357.36,122.81h.6M353.87,118.21h.6M342.99,107.16h.6M320.58,105.42h.6M353.01,113.47h.6M304.03,110.41h.6M362.33,125.56h.6M374.1,106.71h.6M377.64,97.27h.6M373.89,108.18h.6M378.39,110.97h.6M347.8,109.12h.6M360.06,117.71h.6M338.07,103.39h.6M350.32,104.3h.6M338.37,105.34h.6M338.55,80.32h.6M357.2,135.01h.6M322.38,83.98h.6M331.3,108.25h.6M378.01,91.12h.6M363.21,110.6h.6M321.51,102.48h.6M351.14,132.04h.6M348.92,112.64h.6M319.87,126.56h.6M349.61,103.88h.6M337.59,107.23h.6M331.96,111.02h.6M316.96,97.68h.6M344.87,119.19h.6M345.94,115.72h.6M354.29,131.15h.6M314.92,88.48h.6M365.59,107.37h.6M323.55,83.03h.6M348.79,106.72h.6M354.44,101.79h.6M311.69,144.62h.6M311.3,93.78h.6M326.33,102.76h.6M356.34,130.65h.6M307.24,103.88h.6M342.79,130.82h.6M358.02,111.45h.6M367.42,105.09h.6M343.72,124.16h.6M375.78,103.57h.6M369.47,126.94h.6M349.72,78.64h.6M362.09,115.27h.6M370.36,118.25h.6M350.47,105.83h.6M313.18,94.25h.6M315.87,104.65h.6M343.6,103.03h.6M376.58,108.36h.6M312.01,100.23h.6M365.6,100.31h.6M359.46,110.07h.6M362.35,101.23h.6M333.92,115.08h.6M346.62,127.82h.6M345.35,139.01h.6M315.66,86.43h.6M359.01,141.34h.6M344.58,79.71h.6M336.64,109.87h.6M357.45,122.27h.6M314.24,86.56h.6M359.71,105.52h.6M354.92,104.63h.6" stroke="#333" stroke-width="0.6" fill="none" opacity="0.72"/>
<path d="M314.12,93.34C314.12,92.04 314.8,90.21 315.75,88.94C316.7,87.66 317.52,86.68 319.83,85.67C322.14,84.67 326.08,83.69 329.61,82.9C333.15,82.11 337.23,81.49 341.03,80.94C344.84,80.4 348.65,80.02 352.45,79.64C356.26,79.26 360.61,78.93 363.87,78.66C367.13,78.39 369.99,77.84 372.03,78.01C374.07,78.17 375.26,78.63 376.11,79.64C376.95,80.64 377.09,82.36 377.09,84.04C377.09,85.73 376.68,88.12 376.11,89.75C375.54,91.38 375.16,92.61 373.66,93.83C372.16,95.05 369.58,96.03 367.13,97.09C364.69,98.15 361.97,99.32 358.98,100.19C355.99,101.06 352.72,101.82 349.19,102.31C345.66,102.8 341.31,103.18 337.77,103.13C334.24,103.07 330.97,102.58 327.98,101.99C324.99,101.39 321.87,100.41 319.83,99.54C317.79,98.67 316.7,97.8 315.75,96.77C314.8,95.73 314.12,94.65 314.12,93.34Z" fill="white" stroke="#2e2e2e" stroke-width="0.5"/>
<path d="M317.98,92.99C317.98,91.84 318.58,90.24 319.42,89.11C320.26,87.99 320.97,87.13 323.01,86.24C325.04,85.36 328.51,84.49 331.62,83.8C334.73,83.11 338.32,82.56 341.67,82.08C345.02,81.6 348.37,81.26 351.72,80.93C355.07,80.59 358.9,80.31 361.77,80.07C364.64,79.83 367.15,79.35 368.95,79.49C370.74,79.64 371.79,80.04 372.53,80.93C373.28,81.81 373.4,83.32 373.4,84.8C373.4,86.29 373.04,88.39 372.53,89.83C372.03,91.26 371.7,92.34 370.38,93.42C369.07,94.49 366.79,95.36 364.64,96.29C362.49,97.22 360.09,98.25 357.46,99.02C354.83,99.78 351.96,100.45 348.85,100.88C345.74,101.31 341.91,101.65 338.8,101.6C335.69,101.55 332.82,101.12 330.19,100.6C327.55,100.07 324.8,99.21 323.01,98.44C321.21,97.68 320.26,96.91 319.42,96C318.58,95.09 317.98,94.14 317.98,92.99Z" fill="none" stroke="#2e2e2e" stroke-width="0.5"/>
<path d="M321.63,92.67C321.63,91.68 322.14,90.29 322.87,89.32C323.59,88.35 324.21,87.61 325.97,86.84C327.72,86.08 330.72,85.33 333.41,84.73C336.09,84.13 339.19,83.66 342.08,83.25C344.98,82.83 347.87,82.54 350.76,82.25C353.66,81.97 356.96,81.72 359.44,81.51C361.92,81.3 364.09,80.89 365.64,81.01C367.19,81.14 368.1,81.49 368.74,82.25C369.38,83.02 369.48,84.32 369.48,85.6C369.48,86.88 369.17,88.7 368.74,89.94C368.31,91.18 368.02,92.11 366.88,93.04C365.74,93.97 363.78,94.71 361.92,95.52C360.06,96.33 358,97.21 355.72,97.88C353.45,98.54 350.97,99.12 348.28,99.49C345.6,99.86 342.29,100.15 339.61,100.11C336.92,100.07 334.44,99.69 332.17,99.24C329.89,98.79 327.52,98.04 325.97,97.38C324.42,96.72 323.59,96.06 322.87,95.27C322.14,94.49 321.63,93.66 321.63,92.67Z" fill="none" stroke="#2e2e2e" stroke-width="0.5"/>
<path d="M324.91,92.41C324.91,91.57 325.34,90.41 325.95,89.59C326.56,88.77 327.08,88.14 328.56,87.5C330.04,86.86 332.56,86.23 334.82,85.72C337.09,85.22 339.7,84.82 342.13,84.47C344.57,84.12 347,83.88 349.44,83.64C351.88,83.39 354.66,83.18 356.75,83.01C358.84,82.84 360.66,82.49 361.97,82.59C363.27,82.7 364.04,82.99 364.58,83.64C365.12,84.28 365.21,85.38 365.21,86.46C365.21,87.53 364.95,89.07 364.58,90.11C364.21,91.15 363.97,91.94 363.01,92.72C362.06,93.5 360.4,94.13 358.84,94.81C357.27,95.49 355.53,96.23 353.62,96.79C351.7,97.35 349.61,97.84 347.35,98.15C345.09,98.46 342.31,98.71 340.04,98.67C337.78,98.64 335.69,98.32 333.78,97.94C331.87,97.56 329.87,96.93 328.56,96.37C327.26,95.82 326.56,95.26 325.95,94.6C325.34,93.94 324.91,93.24 324.91,92.41Z" fill="none" stroke="#2e2e2e" stroke-width="0.5"/>
<path d="M327.48,92.23C327.48,91.54 327.84,90.57 328.35,89.9C328.85,89.22 329.29,88.7 330.51,88.17C331.74,87.63 333.82,87.12 335.7,86.7C337.57,86.28 339.73,85.95 341.75,85.66C343.77,85.37 345.78,85.17 347.8,84.97C349.82,84.77 352.13,84.59 353.85,84.45C355.58,84.31 357.1,84.02 358.18,84.1C359.26,84.19 359.89,84.44 360.34,84.97C360.79,85.5 360.86,86.41 360.86,87.3C360.86,88.2 360.64,89.46 360.34,90.33C360.04,91.19 359.83,91.84 359.04,92.49C358.25,93.14 356.88,93.66 355.58,94.22C354.29,94.78 352.85,95.4 351.26,95.86C349.68,96.32 347.95,96.73 346.07,96.99C344.2,97.25 341.89,97.45 340.02,97.42C338.15,97.39 336.42,97.13 334.83,96.81C333.25,96.5 331.59,95.98 330.51,95.52C329.43,95.06 328.85,94.59 328.35,94.05C327.84,93.5 327.48,92.92 327.48,92.23Z" fill="none" stroke="#2e2e2e" stroke-width="0.5"/>
<path d="M329.57,92.13C329.57,91.58 329.85,90.82 330.25,90.28C330.65,89.75 330.99,89.34 331.97,88.91C332.94,88.49 334.59,88.08 336.08,87.75C337.56,87.42 339.27,87.15 340.87,86.93C342.47,86.7 344.07,86.54 345.67,86.38C347.27,86.22 349.09,86.08 350.46,85.97C351.84,85.85 353.03,85.62 353.89,85.69C354.75,85.76 355.25,85.96 355.6,86.38C355.96,86.8 356.01,87.52 356.01,88.23C356.01,88.94 355.84,89.94 355.6,90.63C355.36,91.31 355.2,91.82 354.58,92.34C353.95,92.85 352.86,93.26 351.84,93.71C350.81,94.15 349.67,94.65 348.41,95.01C347.15,95.38 345.78,95.7 344.3,95.9C342.81,96.11 340.99,96.27 339.5,96.24C338.02,96.22 336.65,96.02 335.39,95.76C334.14,95.51 332.82,95.1 331.97,94.74C331.11,94.37 330.65,94.01 330.25,93.57C329.85,93.14 329.57,92.68 329.57,92.13Z" fill="none" stroke="#2e2e2e" stroke-width="0.5"/>
<path d="M331.08,92.12C331.08,91.72 331.29,91.15 331.58,90.76C331.88,90.36 332.13,90.06 332.85,89.75C333.56,89.43 334.79,89.13 335.88,88.89C336.98,88.64 338.24,88.45 339.42,88.28C340.6,88.11 341.78,87.99 342.96,87.87C344.14,87.76 345.49,87.66 346.5,87.57C347.51,87.49 348.4,87.32 349.03,87.37C349.66,87.42 350.03,87.56 350.29,87.87C350.56,88.19 350.6,88.72 350.6,89.24C350.6,89.76 350.47,90.5 350.29,91.01C350.12,91.52 350,91.9 349.54,92.27C349.07,92.65 348.27,92.96 347.51,93.29C346.75,93.61 345.91,93.98 344.98,94.25C344.06,94.52 343.05,94.75 341.95,94.9C340.85,95.06 339.51,95.17 338.41,95.16C337.31,95.14 336.3,94.99 335.38,94.8C334.45,94.62 333.48,94.31 332.85,94.04C332.21,93.77 331.88,93.51 331.58,93.18C331.29,92.86 331.08,92.53 331.08,92.12Z" fill="none" stroke="#2e2e2e" stroke-width="0.5"/>
<path d="M331.94,92.21C331.94,91.95 332.07,91.59 332.26,91.33C332.45,91.08 332.62,90.88 333.08,90.68C333.54,90.48 334.33,90.28 335.04,90.12C335.74,89.97 336.56,89.84 337.32,89.73C338.08,89.62 338.84,89.55 339.61,89.47C340.37,89.4 341.24,89.33 341.89,89.28C342.54,89.22 343.11,89.11 343.52,89.15C343.93,89.18 344.17,89.27 344.34,89.47C344.51,89.67 344.53,90.02 344.53,90.35C344.53,90.69 344.45,91.17 344.34,91.49C344.22,91.82 344.15,92.07 343.85,92.31C343.55,92.55 343.03,92.75 342.54,92.96C342.05,93.17 341.51,93.41 340.91,93.58C340.31,93.76 339.66,93.91 338.95,94.01C338.25,94.1 337.38,94.18 336.67,94.17C335.96,94.16 335.31,94.06 334.71,93.94C334.11,93.82 333.49,93.63 333.08,93.45C332.67,93.28 332.45,93.1 332.26,92.9C332.07,92.69 331.94,92.47 331.94,92.21Z" fill="none" stroke="#2e2e2e" stroke-width="0.5"/>
<rect x="286.6" y="50.3" width="106.5" height="106.5" fill="none" stroke="#9a9a9a" stroke-width="0.8"/>
<line x1="347.3" y1="50.3" x2="347.3" y2="156.8" stroke="#2a2a2a" stroke-width="0.9"/>
<line x1="286.6" y1="104.3" x2="393.1" y2="104.3" stroke="#2a2a2a" stroke-width="0.9"/>
<line x1="298.2" y1="156.8" x2="298.2" y2="159.4" stroke="#222" stroke-width="0.65"/>
<line x1="304.61" y1="156.8" x2="304.61" y2="158.1" stroke="#222" stroke-width="0.65"/>
<line x1="308.36" y1="156.8" x2="308.36" y2="158.1" stroke="#222" stroke-width="0.65"/>
<line x1="311.02" y1="156.8" x2="311.02" y2="158.1" stroke="#222" stroke-width="0.65"/>
<line x1="313.09" y1="156.8" x2="313.09" y2="158.1" stroke="#222" stroke-width="0.65"/>
<line x1="314.77" y1="156.8" x2="314.77" y2="158.1" stroke="#222" stroke-width="0.65"/>
<line x1="316.2" y1="156.8" x2="316.2" y2="158.1" stroke="#222" stroke-width="0.65"/>
<line x1="317.44" y1="156.8" x2="317.44" y2="158.1" stroke="#222" stroke-width="0.65"/>
<line x1="318.53" y1="156.8" x2="318.53" y2="158.1" stroke="#222" stroke-width="0.65"/>
<line x1="319.5" y1="156.8" x2="319.5" y2="159.4" stroke="#222" stroke-width="0.65"/>
<line x1="325.91" y1="156.8" x2="325.91" y2="158.1" stroke="#222" stroke-width="0.65"/>
<line x1="329.66" y1="156.8" x2="329.66" y2="158.1" stroke="#222" stroke-width="0.65"/>
<line x1="332.32" y1="156.8" x2="332.32" y2="158.1" stroke="#222" stroke-width="0.65"/>
<line x1="334.39" y1="156.8" x2="334.39" y2="158.1" stroke="#222" stroke-width="0.65"/>
<line x1="336.07" y1="156.8" x2="336.07" y2="158.1" stroke="#222" stroke-width="0.65"/>
<line x1="337.5" y1="156.8" x2="337.5" y2="158.1" stroke="#222" stroke-width="0.65"/>
<line x1="338.74" y1="156.8" x2="338.74" y2="158.1" stroke="#222" stroke-width="0.65"/>
<line x1="339.83" y1="156.8" x2="339.83" y2="158.1" stroke="#222" stroke-width="0.65"/>
<line x1="340.8" y1="156.8" x2="340.8" y2="159.4" stroke="#222" stroke-width="0.65"/>
<line x1="347.21" y1="156.8" x2="347.21" y2="158.1" stroke="#222" stroke-width="0.65"/>
<line x1="350.96" y1="156.8" x2="350.96" y2="158.1" stroke="#222" stroke-width="0.65"/>
<line x1="353.62" y1="156.8" x2="353.62" y2="158.1" stroke="#222" stroke-width="0.65"/>
<line x1="355.69" y1="156.8" x2="355.69" y2="158.1" stroke="#222" stroke-width="0.65"/>
<line x1="357.37" y1="156.8" x2="357.37" y2="158.1" stroke="#222" stroke-width="0.65"/>
<line x1="358.8" y1="156.8" x2="358.8" y2="158.1" stroke="#222" stroke-width="0.65"/>
<line x1="360.04" y1="156.8" x2="360.04" y2="158.1" stroke="#222" stroke-width="0.65"/>
<line x1="361.13" y1="156.8" x2="361.13" y2="158.1" stroke="#222" stroke-width="0.65"/>
<line x1="362.1" y1="156.8" x2="362.1" y2="159.4" stroke="#222" stroke-width="0.65"/>
<line x1="368.51" y1="156.8" x2="368.51" y2="158.1" stroke="#222" stroke-width="0.65"/>
<line x1="372.26" y1="156.8" x2="372.26" y2="158.1" stroke="#222" stroke-width="0.65"/>
<line x1="374.92" y1="156.8" x2="374.92" y2="158.1" stroke="#222" stroke-width="0.65"/>
<line x1="376.99" y1="156.8" x2="376.99" y2="158.1" stroke="#222" stroke-width="0.65"/>
<line x1="378.67" y1="156.8" x2="378.67" y2="158.1" stroke="#222" stroke-width="0.65"/>
<line x1="380.1" y1="156.8" x2="380.1" y2="158.1" stroke="#222" stroke-width="0.65"/>
<line x1="381.34" y1="156.8" x2="381.34" y2="158.1" stroke="#222" stroke-width="0.65"/>
<line x1="382.43" y1="156.8" x2="382.43" y2="158.1" stroke="#222" stroke-width="0.65"/>
<line x1="383.4" y1="156.8" x2="383.4" y2="159.4" stroke="#222" stroke-width="0.65"/>
<line x1="389.81" y1="156.8" x2="389.81" y2="158.1" stroke="#222" stroke-width="0.65"/>
<line x1="289.72" y1="156.8" x2="289.72" y2="158.1" stroke="#222" stroke-width="0.65"/>
<line x1="291.79" y1="156.8" x2="291.79" y2="158.1" stroke="#222" stroke-width="0.65"/>
<line x1="293.47" y1="156.8" x2="293.47" y2="158.1" stroke="#222" stroke-width="0.65"/>
<line x1="294.9" y1="156.8" x2="294.9" y2="158.1" stroke="#222" stroke-width="0.65"/>
<line x1="296.14" y1="156.8" x2="296.14" y2="158.1" stroke="#222" stroke-width="0.65"/>
<line x1="297.23" y1="156.8" x2="297.23" y2="158.1" stroke="#222" stroke-width="0.65"/>
<line x1="286.6" y1="59.8" x2="284" y2="59.8" stroke="#222" stroke-width="0.65"/>
<line x1="286.6" y1="74.65" x2="285.3" y2="74.65" stroke="#222" stroke-width="0.65"/>
<line x1="286.6" y1="70.91" x2="285.3" y2="70.91" stroke="#222" stroke-width="0.65"/>
<line x1="286.6" y1="68.26" x2="285.3" y2="68.26" stroke="#222" stroke-width="0.65"/>
<line x1="286.6" y1="66.2" x2="285.3" y2="66.2" stroke="#222" stroke-width="0.65"/>
<line x1="286.6" y1="64.51" x2="285.3" y2="64.51" stroke="#222" stroke-width="0.65"/>
<line x1="286.6" y1="63.09" x2="285.3" y2="63.09" stroke="#222" stroke-width="0.65"/>
<line x1="286.6" y1="61.86" x2="285.3" y2="61.86" stroke="#222" stroke-width="0.65"/>
<line x1="286.6" y1="60.77" x2="285.3" y2="60.77" stroke="#222" stroke-width="0.65"/>
<line x1="286.6" y1="81.05" x2="284" y2="81.05" stroke="#222" stroke-width="0.65"/>
<line x1="286.6" y1="95.9" x2="285.3" y2="95.9" stroke="#222" stroke-width="0.65"/>
<line x1="286.6" y1="92.16" x2="285.3" y2="92.16" stroke="#222" stroke-width="0.65"/>
<line x1="286.6" y1="89.51" x2="285.3" y2="89.51" stroke="#222" stroke-width="0.65"/>
<line x1="286.6" y1="87.45" x2="285.3" y2="87.45" stroke="#222" stroke-width="0.65"/>
<line x1="286.6" y1="85.76" x2="285.3" y2="85.76" stroke="#222" stroke-width="0.65"/>
<line x1="286.6" y1="84.34" x2="285.3" y2="84.34" stroke="#222" stroke-width="0.65"/>
<line x1="286.6" y1="83.11" x2="285.3" y2="83.11" stroke="#222" stroke-width="0.65"/>
<line x1="286.6" y1="82.02" x2="285.3" y2="82.02" stroke="#222" stroke-width="0.65"/>
<line x1="286.6" y1="102.3" x2="284" y2="102.3" stroke="#222" stroke-width="0.65"/>
<line x1="286.6" y1="117.15" x2="285.3" y2="117.15" stroke="#222" stroke-width="0.65"/>
<line x1="286.6" y1="113.41" x2="285.3" y2="113.41" stroke="#222" stroke-width="0.65"/>
<line x1="286.6" y1="110.76" x2="285.3" y2="110.76" stroke="#222" stroke-width="0.65"/>
<line x1="286.6" y1="108.7" x2="285.3" y2="108.7" stroke="#222" stroke-width="0.65"/>
<line x1="286.6" y1="107.01" x2="285.3" y2="107.01" stroke="#222" stroke-width="0.65"/>
<line x1="286.6" y1="105.59" x2="285.3" y2="105.59" stroke="#222" stroke-width="0.65"/>
<line x1="286.6" y1="104.36" x2="285.3" y2="104.36" stroke="#222" stroke-width="0.65"/>
<line x1="286.6" y1="103.27" x2="285.3" y2="103.27" stroke="#222" stroke-width="0.65"/>
<line x1="286.6" y1="123.55" x2="284" y2="123.55" stroke="#222" stroke-width="0.65"/>
<line x1="286.6" y1="138.4" x2="285.3" y2="138.4" stroke="#222" stroke-width="0.65"/>
<line x1="286.6" y1="134.66" x2="285.3" y2="134.66" stroke="#222" stroke-width="0.65"/>
<line x1="286.6" y1="132.01" x2="285.3" y2="132.01" stroke="#222" stroke-width="0.65"/>
<line x1="286.6" y1="129.95" x2="285.3" y2="129.95" stroke="#222" stroke-width="0.65"/>
<line x1="286.6" y1="128.26" x2="285.3" y2="128.26" stroke="#222" stroke-width="0.65"/>
<line x1="286.6" y1="126.84" x2="285.3" y2="126.84" stroke="#222" stroke-width="0.65"/>
<line x1="286.6" y1="125.61" x2="285.3" y2="125.61" stroke="#222" stroke-width="0.65"/>
<line x1="286.6" y1="124.52" x2="285.3" y2="124.52" stroke="#222" stroke-width="0.65"/>
<line x1="286.6" y1="144.8" x2="284" y2="144.8" stroke="#222" stroke-width="0.65"/>
<line x1="286.6" y1="155.91" x2="285.3" y2="155.91" stroke="#222" stroke-width="0.65"/>
<line x1="286.6" y1="153.26" x2="285.3" y2="153.26" stroke="#222" stroke-width="0.65"/>
<line x1="286.6" y1="151.2" x2="285.3" y2="151.2" stroke="#222" stroke-width="0.65"/>
<line x1="286.6" y1="149.51" x2="285.3" y2="149.51" stroke="#222" stroke-width="0.65"/>
<line x1="286.6" y1="148.09" x2="285.3" y2="148.09" stroke="#222" stroke-width="0.65"/>
<line x1="286.6" y1="146.86" x2="285.3" y2="146.86" stroke="#222" stroke-width="0.65"/>
<line x1="286.6" y1="145.77" x2="285.3" y2="145.77" stroke="#222" stroke-width="0.65"/>
<line x1="286.6" y1="53.4" x2="285.3" y2="53.4" stroke="#222" stroke-width="0.65"/>
<text x="290.4" y="61" font-size="7.8">52.1</text>
<text x="387.3" y="61" font-size="7.8" text-anchor="end">34.0</text>
<text x="290.4" y="153.2" font-size="7.8">8.1</text>
<text x="387.3" y="153.2" font-size="7.8" text-anchor="end">5.9</text>
<text x="281" y="63" font-size="7.8" text-anchor="end">10<tspan dy="-3.43" font-size="5.3">5</tspan></text>
<text x="281" y="105.5" font-size="7.8" text-anchor="end">10<tspan dy="-3.43" font-size="5.3">3</tspan></text>
<text x="281" y="148" font-size="7.8" text-anchor="end">10<tspan dy="-3.43" font-size="5.3">1</tspan></text>
<text x="298.5" y="169.8" font-size="7.8" text-anchor="middle">10<tspan dy="-3.43" font-size="5.3">1</tspan></text>
<text x="341.1" y="169.8" font-size="7.8" text-anchor="middle">10<tspan dy="-3.43" font-size="5.3">3</tspan></text>
<text x="383.7" y="169.8" font-size="7.8" text-anchor="middle">10<tspan dy="-3.43" font-size="5.3">5</tspan></text>
<path d="M444.35,125.37h.6M470.09,100.85h.6M467.14,108.09h.6M484.67,111.29h.6M480.49,140.15h.6M437.93,102.48h.6M459.13,126.08h.6M484.8,106.52h.6M486.15,94.01h.6M466.02,108.83h.6M457.78,108.18h.6M476.96,100.68h.6M459.58,122.02h.6M450.47,106.97h.6M426.86,85.63h.6M497.91,126.15h.6M476.02,102.77h.6M465.12,105.71h.6M455.09,109.44h.6M492.59,83.71h.6M464.38,112.82h.6M503.09,107.65h.6M454.76,106.26h.6M469.12,105.48h.6M465.58,105.61h.6M480.98,102.42h.6M481.53,110.64h.6M491.64,82.94h.6M435.59,101.15h.6M482.33,103.07h.6M466.31,112.43h.6M464.4,115.42h.6M489.14,92.52h.6M460.57,106.98h.6M495.56,120.75h.6M421.5,86.22h.6M463.17,114.17h.6M476.98,101.31h.6M458.14,118.86h.6M459.39,111.45h.6M469.29,133.78h.6M448.66,114.44h.6M477.78,135.15h.6M450.91,115.82h.6M451.3,106.17h.6M466.09,112.7h.6M446.77,129.64h.6M473.68,111.36h.6M456.8,122.19h.6M461.13,110.78h.6M476.6,110.75h.6M435.31,100.61h.6M457.78,105.59h.6M448.99,111.48h.6M490.19,99.36h.6M436.29,83.03h.6M443.12,109.12h.6M469.76,117.66h.6M467.21,127.04h.6M423.76,90.36h.6M416.21,146.48h.6M466.51,111.83h.6M461.19,114.55h.6M442.28,106.98h.6M445.01,106.87h.6M431.32,102.17h.6M463.63,113.48h.6M470.51,126.38h.6M463.69,114.8h.6M429.17,83.35h.6M492.31,82.88h.6M458.14,123.79h.6M429.61,102.85h.6M461.22,150.17h.6M493.8,82.26h.6M451.38,116.45h.6M471.03,109.93h.6M451.38,108.9h.6M469.15,104.65h.6M459.34,103.45h.6M416.31,87.86h.6M449.86,102.92h.6M463.86,108.1h.6M462.83,130.09h.6M459.7,109.31h.6M496.31,105.5h.6M490.44,90.22h.6M465.96,125.54h.6M429.05,85.11h.6M481.74,103.59h.6M438.64,107.64h.6M486.45,108.08h.6M429.21,87.4h.6M450.79,119.29h.6M462.66,107.38h.6M484.19,75.35h.6M479.8,132.78h.6M465.62,124.61h.6M469.29,120.6h.6M491.01,90.45h.6M446.04,126.91h.6M436.92,103.35h.6M448.98,109.33h.6M424.74,97.61h.6M498.96,125.71h.6M430.74,115.25h.6M463.8,115.12h.6M437.71,104.06h.6M475.09,101.36h.6M427.64,105.21h.6M443.12,83.18h.6M474.25,115.49h.6M438.22,82.43h.6M489.13,93.18h.6M417.15,97.8h.6M500.11,83.79h.6M423.55,91.59h.6M437.64,83.1h.6M466.87,123.96h.6M435.81,99.78h.6M456.23,103.07h.6M449.89,111.69h.6M471.66,78.46h.6M493.83,78.8h.6M483.37,108.95h.6M472.64,104.08h.6M460.89,103.95h.6M426.09,86.71h.6M425.29,101.16h.6M453.36,105.36h.6M428.72,87.54h.6M467.25,126.57h.6M442.16,107.31h.6M467.5,113.73h.6M451.99,124.45h.6M498.64,111.03h.6M475.08,76.49h.6M469.86,110.42h.6M458.11,105.83h.6M491.85,78.86h.6M477.11,113.27h.6M431.26,85.01h.6M470.46,109.71h.6M458.42,120.31h.6M445.09,108.24h.6M474.59,127.53h.6M437.31,84.45h.6M419.16,118.84h.6M489.11,116.23h.6M471.28,126.25h.6M452.18,123.31h.6M457.7,122.28h.6M458.84,103.68h.6M438.35,101.02h.6M474.83,115.66h.6M450.78,113.08h.6M474.5,116.18h.6M448.95,155.06h.6M494.39,118.25h.6M465.24,120.46h.6M486.32,125.05h.6M455.42,116.73h.6M446.52,103.1h.6M473.45,115.92h.6M488.34,110.58h.6M425.66,85.17h.6M430.52,99.16h.6M466,118.8h.6M458.68,105.76h.6M456.65,125.98h.6M477.03,102.98h.6M462.03,120.84h.6M489.93,103.57h.6M463.64,109.99h.6M472.98,108.88h.6M491.64,82.26h.6M437.1,112.35h.6M447.06,113.48h.6M480.85,111.95h.6M453.64,107.84h.6M441.06,103.11h.6M471.81,78.15h.6M452.59,104.06h.6M443.13,103.27h.6M455.58,120.28h.6M476.46,115.21h.6M479.32,102.15h.6M444.67,123.92h.6M461.04,125.85h.6M483.56,95.51h.6M435.86,101.02h.6M479.62,140.98h.6M458.22,102.65h.6M455.74,120.55h.6M479.24,110.71h.6M467.91,113.34h.6M447.73,110.96h.6M482.05,104.99h.6M434.15,100.27h.6M487.27,94.45h.6M437.96,127.22h.6M478.25,109.19h.6M433.55,100.4h.6M485.27,76.43h.6M436.35,137.79h.6M467.34,105.32h.6M465.12,103.89h.6M467.18,121.3h.6M479.66,115.74h.6M490.09,77.54h.6M430.69,85.79h.6M472.08,130.71h.6M446.24,118.63h.6M486.17,108.69h.6M477.5,137.42h.6M452.6,121.75h.6M456.93,106.72h.6M433.04,85.94h.6M419.98,86.88h.6M434.02,108.19h.6M490.84,79.69h.6M480.83,108.03h.6M502.63,115.97h.6M442.89,108.81h.6M472.86,104.81h.6M445.67,109.17h.6M476.01,78.41h.6M453.59,117.81h.6M486.19,95.09h.6M480.16,106.16h.6M485.63,117.3h.6M422.86,133.38h.6M449.52,107.02h.6M428.22,90.5h.6M490.67,79.27h.6M483.98,78.05h.6M409.97,92.78h.6M445.84,114.14h.6M475.28,109.11h.6M455.85,109.45h.6M488.19,116.03h.6M430.49,83.25h.6M449.44,105.74h.6M470.94,110.3h.6M406.1,100.2h.6M486.45,115.69h.6M488.51,121.45h.6M445.08,122.25h.6M492.24,85.61h.6M442,123.96h.6M474.63,108.27h.6M447.97,106.22h.6M471.66,78.78h.6M431.16,87.07h.6M425.89,119.73h.6M430.88,86.3h.6M440.95,102.37h.6M467.87,115.45h.6M453.77,104.94h.6M448.28,110.33h.6M491.37,88.22h.6M442.04,129.69h.6M496.71,102.66h.6M484.85,122.97h.6M462.14,104.46h.6M419.28,108.01h.6M460.54,103.98h.6M497.91,107.28h.6M458.26,106.31h.6M486,77.06h.6M475.58,106.25h.6M460.03,104.83h.6M480.02,106.51h.6M462.45,118.91h.6M465.5,123.51h.6M437.49,112.28h.6M445.55,102.61h.6M436.63,104.89h.6M450.19,106.68h.6M493.25,87.67h.6M447.61,105.69h.6M455.24,103.58h.6M437.68,107.36h.6M465.92,109.22h.6M469.37,131.68h.6M430.51,85.19h.6M483.02,132.06h.6M458.86,107.22h.6M471.92,111.21h.6M453.89,119.05h.6M456.79,103.21h.6M429.68,85.3h.6M458.67,108.51h.6M494.47,83.81h.6M428.19,86.14h.6M413.1,141.32h.6M473.39,105.59h.6M476.43,107.85h.6M474.85,105.13h.6M466.53,111.71h.6M440.83,116.3h.6M481.54,117.83h.6M442.97,110.72h.6M420.95,96.36h.6M430.56,99.97h.6M477.7,106.77h.6M490.4,107.03h.6M486.85,113.95h.6M414.74,102.65h.6M426.64,89.17h.6M484.03,121.1h.6M468.83,138.17h.6M445.35,126.53h.6M497.57,82.73h.6M495.33,87.03h.6M482.36,96.16h.6M453.06,134.18h.6M478.29,110.71h.6M483.31,94.77h.6M430.11,98.91h.6M426.25,82.61h.6M505.2,112.64h.6M439.65,101.89h.6M473.24,105.13h.6M480.9,112.18h.6M468.92,119.26h.6M443.26,104.1h.6M429.86,87.11h.6M438.94,121.52h.6M461.7,108.21h.6M427.58,94.63h.6M413.23,98.35h.6M480.45,97.96h.6M466.71,120.22h.6M443.29,112.47h.6M475.09,109.85h.6M486.25,95.22h.6M453.8,113.15h.6M466.35,131.08h.6M446.03,135.09h.6M492.83,109.76h.6M461.87,108.53h.6M489.45,116.45h.6M490.71,88.59h.6M439.79,117.54h.6M490.12,123.64h.6M447.79,81.72h.6M433.77,102.01h.6M457.95,113.67h.6M483.76,114.57h.6M459.15,116.94h.6M500.09,116.89h.6M467.99,104.55h.6M464.46,129.12h.6M475.94,112.42h.6M437.74,139.48h.6M459.8,107.44h.6M445.49,106.35h.6M440.14,111.6h.6M478.69,117.38h.6M492.58,85.5h.6M464.82,103.24h.6M479.05,77.56h.6M467.81,108.62h.6M494.84,109.17h.6M460.39,102.97h.6M475.64,101.97h.6M474.78,108.5h.6M491.08,81.87h.6M467.27,105.83h.6M457.43,118.93h.6M428.16,84.88h.6M473.11,114.06h.6M491.3,81.21h.6M468.97,121.18h.6M446.48,107.92h.6M477.61,112.42h.6M485.62,75.08h.6M438.68,102.35h.6M464.69,108.24h.6M485.32,105.14h.6M420,89.18h.6M470.8,113.92h.6M459.28,133.05h.6M470.02,107.34h.6M462.42,102.85h.6M467.78,103.33h.6M458.25,124.68h.6M466.79,101.85h.6M448.62,115.85h.6M470.94,111.24h.6M455.58,116.08h.6M430.74,86.05h.6M448.95,105.69h.6M469.52,102.68h.6M457.73,102.61h.6M437.1,116.87h.6M431.29,109.67h.6M486.79,131.97h.6M480.89,102.6h.6M464.19,108.42h.6M455.02,105.15h.6M471.92,104.34h.6M448.16,108.9h.6M462.91,133.27h.6M490.4,96.11h.6M470.81,114.59h.6M469.15,116.84h.6M453.81,105.87h.6M460.39,116.4h.6M456.22,112.02h.6M475.39,116.77h.6M465.9,116.93h.6M467.77,107.94h.6M445.7,102.14h.6M422.82,90.06h.6M420.41,92.09h.6M466.56,129.18h.6M458.58,110.51h.6M435.44,84.19h.6M452.37,122.01h.6M488.68,129.07h.6M481.93,102.81h.6M472.43,101.36h.6M478.46,121.58h.6M456,103.52h.6M467.88,103.6h.6M467.04,117.32h.6M465.2,117.57h.6M495.49,78.29h.6M475.26,113.84h.6M454.94,103.99h.6M467,105.13h.6M496.89,105.72h.6M500.79,117.41h.6M477.92,109.81h.6M471.46,104.66h.6M457.19,116.46h.6M423.25,94.28h.6M491.18,90.2h.6M446.76,105.43h.6M491.73,92.24h.6M445.58,102.5h.6M453.38,107.45h.6M477.1,102.93h.6M477.67,105.51h.6M485.47,111.34h.6M454.95,112.1h.6M458.92,103.68h.6M467.9,102.48h.6M485.44,111.42h.6M427.34,95.1h.6M480.89,105.67h.6M476.83,104.3h.6M489.71,93.64h.6M495.73,115.55h.6M463.93,103.58h.6M425.93,89.53h.6M446.97,108.09h.6M465.22,103.55h.6M485.55,105.4h.6M483.92,104.82h.6M423.45,109.11h.6M444.97,82.02h.6M452.22,80.92h.6M476.3,104.13h.6M465.12,103.97h.6M474.15,125.77h.6M472.04,127.38h.6M448.17,116.58h.6M466.91,102.42h.6M468.72,126.71h.6M434.27,110.91h.6M490.91,89.43h.6M497.66,111.47h.6M466.75,103.87h.6M477,112.52h.6M471.67,117.79h.6M464.66,108.45h.6M468.3,118.39h.6M492.65,89.11h.6M483.13,99.06h.6M437.05,104.18h.6M452.46,105.05h.6M433.23,120.1h.6M466.85,120.43h.6M467.94,117.28h.6M501.42,106.43h.6M478.41,102.64h.6M470.06,105.42h.6M436.17,100.93h.6M428.05,88.56h.6M486.36,93.12h.6M505.22,114.12h.6M443.94,106.31h.6M457.54,123.72h.6M460.12,104.44h.6M437.69,107.46h.6M441.68,82.72h.6M501.32,83.97h.6M468.82,105.68h.6M477.7,118.41h.6M490.27,91.54h.6M466.38,113.55h.6M473.54,105.26h.6M473.23,115.72h.6M483.05,105.27h.6M447.92,108.35h.6M492.74,79.22h.6M463.83,112.05h.6M489.23,92.75h.6M438.4,106.62h.6M492.75,124.58h.6M479.16,121.36h.6M452.2,108.24h.6M445.57,108.5h.6M473.85,104.44h.6M484.15,106.2h.6M502.83,116.57h.6M458.56,109.26h.6M493.98,106.66h.6M448.95,119.46h.6M485.2,123.25h.6M434.83,116.39h.6M424.64,95.35h.6M440.33,106.24h.6M423.61,90.78h.6M412.49,85.45h.6M434.01,102.36h.6M479.26,108.96h.6M456.08,117.83h.6M448.81,81.25h.6M471.3,103.21h.6M432.07,101.25h.6M443.21,102.88h.6M459.59,108.96h.6M447.14,111.64h.6M477.35,97.56h.6M478.94,108.76h.6M480.49,109.09h.6M433.44,112.13h.6M500.27,118.04h.6M456.09,109.28h.6M481.32,98.01h.6M437.76,107.48h.6M478.04,98.81h.6M466.69,104.79h.6M473.77,101.17h.6M492.18,88.52h.6M475.31,122.2h.6M482.06,116.03h.6M478.88,110.45h.6M455.83,107.63h.6M462.07,108.81h.6M463.07,107.44h.6M450.95,107.51h.6M464.55,107.95h.6M446.14,82.31h.6M483.88,123.96h.6M473.05,100.95h.6M458.92,103.91h.6M432.31,84.29h.6M453.15,115.2h.6M472.96,103.28h.6M471.13,116.45h.6M441.59,119.62h.6M486.83,123.23h.6M462.11,104.9h.6M471.07,110.95h.6M444.11,102.46h.6M462.6,103h.6M431.47,86.34h.6M459.72,107.65h.6M463.76,108.17h.6M438.41,107.58h.6M479.66,108.3h.6M466.34,113.97h.6M462.21,107.76h.6M473.65,100.01h.6M432.24,110.66h.6M483.19,106.14h.6M479.14,103.47h.6M454.66,104.2h.6M495.09,97.09h.6M427.43,93.38h.6M461.39,79.59h.6M440.32,83.46h.6M477.65,114.1h.6M434.22,99.53h.6M427.02,123.31h.6M478.23,117.78h.6M466.83,105.51h.6M427.88,88.05h.6M488.8,95.49h.6M447.05,113.21h.6M424.58,95.13h.6M429.47,86.26h.6M435.69,103.07h.6M476.79,76.42h.6M475.43,132.83h.6M425.52,85.27h.6M474.24,115.58h.6M474.59,112.59h.6M469.56,108.45h.6M457.88,104.2h.6M437.62,82.13h.6M468.7,126.66h.6M474.74,123.54h.6M463.17,106.03h.6M455.46,80.95h.6M428.06,97.31h.6M477.76,119.68h.6M459.79,103.15h.6M461.67,129.29h.6M475.58,116.68h.6M450.15,116.19h.6M462.6,104.87h.6M464.55,108.92h.6M479.77,114.57h.6M433.57,84.39h.6M410.03,92.03h.6M469.96,113.72h.6M440.17,103.68h.6M476.14,118.48h.6M463.05,115.76h.6M437.34,112.1h.6M483.19,102.72h.6M459.37,114.42h.6M457.7,102.6h.6M432.6,83.5h.6M419.75,86h.6M477.02,107.07h.6M440.8,108.5h.6M480.48,113.86h.6M458.15,104.24h.6M494.85,105.97h.6M475.46,102.5h.6M492.03,113.91h.6M489.14,78.07h.6M446.44,120.1h.6M487.9,117.1h.6M463.11,105.28h.6M487.93,92h.6M478.21,103.25h.6M421.4,134.69h.6M458.99,106.07h.6M459.88,116.92h.6M490.42,89.63h.6M464.68,122.12h.6M454.87,137.93h.6M476.99,125.48h.6M439.68,119.05h.6M489.83,121.26h.6M435.56,99.52h.6M447.27,104.77h.6M493.74,79.63h.6M416.77,104.94h.6M490.45,134.87h.6M454.12,102.57h.6M491.48,109.43h.6M454.62,103.99h.6M479.65,114.03h.6M428.51,89.4h.6M486.44,93.63h.6M480.97,106.96h.6M491.19,81.17h.6M464.16,110.72h.6M483.19,112.1h.6M482.32,123.36h.6M486.44,112.87h.6M489.55,115.13h.6M487.67,93.85h.6M472.37,133.87h.6M485.01,131.56h.6M438.14,106.46h.6M472.08,107.17h.6M475.24,114.3h.6M460.15,107.58h.6M451.15,111.64h.6M470.21,121.42h.6M487.93,102.92h.6M492.23,83.49h.6M473.38,108.41h.6M426.81,93.21h.6M434.11,99.67h.6M458.24,121.92h.6M433.24,100.65h.6M454.89,102.76h.6M450.98,116.83h.6M477.12,103.2h.6M469.32,111.53h.6M451.07,107.71h.6M474.48,99.63h.6M453.07,126.5h.6M492.26,85.76h.6M477.95,126.29h.6M444.34,107.06h.6M472.2,102.59h.6M458.25,112.43h.6M452.36,118.98h.6M456.23,126.5h.6M428.5,95.99h.6M477.78,108.44h.6M431.04,98.87h.6M486.5,124.78h.6M450.01,116.75h.6M494.65,91.72h.6M430.6,99.59h.6M457.96,105.36h.6M484.93,107.6h.6M474.58,106.61h.6M454.41,102.98h.6M450.74,123.34h.6M476.89,112.73h.6M431.84,100.12h.6M469.73,108.09h.6M479.33,115.59h.6M476.59,107.89h.6M446.67,104.88h.6M483.26,110.82h.6M468.7,118.78h.6M484.33,114.57h.6M456.67,119.74h.6M479.98,97.6h.6M447.27,106.89h.6M485.08,94.1h.6M448.12,116.85h.6M464.2,105.55h.6M449.44,80.44h.6M485.11,94.52h.6M466.49,109.67h.6M428.06,107.89h.6M462.56,103.81h.6M449.62,107.76h.6M468.96,113.43h.6M473.32,102.66h.6M461.41,104.67h.6M499.34,105.16h.6M473.58,106.88h.6M468.95,100.52h.6M457.55,108.75h.6M473.42,111.04h.6M436.12,84.81h.6M469.07,113.74h.6M499.13,111.87h.6M435.98,105.82h.6M428.13,98.06h.6M451.89,105.59h.6M460.2,135.7h.6M501.64,106.73h.6M444.52,115.73h.6M497.64,127.17h.6M452.89,103.9h.6M413.25,92.1h.6M461.37,104.23h.6M458.69,124.45h.6M499.89,120.64h.6M484.78,107.84h.6M485.02,112.05h.6M432.38,84.13h.6M456.84,105.74h.6M477.54,110.53h.6M461.34,106.46h.6M474.44,108.43h.6M484.33,105.37h.6M498.33,116.42h.6M445.28,128.8h.6M434.33,104.73h.6M460.53,80.57h.6M481.92,105.18h.6M469.8,108.29h.6M467.23,107.49h.6M484.87,120.98h.6M458.59,102.67h.6M426.93,92.17h.6M480.24,107.27h.6M470.15,120.26h.6M433.9,101h.6M466.25,110.85h.6M484.45,99.96h.6M467.05,79.66h.6M470.48,132.3h.6M442.69,105.86h.6M444.58,82.4h.6M430.09,86.57h.6M465.43,130.53h.6M466.45,102.82h.6M435.92,99.4h.6M430.65,133.91h.6M463.65,148.53h.6M457.72,103.35h.6M479.42,77.35h.6M436.14,112.32h.6M420.28,100.02h.6M468.62,110.39h.6M480.59,118.5h.6M418.82,109.02h.6M444.03,122.54h.6M466.87,115.45h.6M490.44,97.88h.6M462.81,102.69h.6M435.96,107.37h.6M491.08,87.82h.6M493.69,117.86h.6M428.62,105.17h.6M414.12,84.82h.6M416.34,97.21h.6M431.14,86.55h.6M458.31,79.61h.6M436.63,103.4h.6M448.57,120.93h.6M432,100.49h.6M427.33,85.78h.6M492.32,94.05h.6M417.05,84.57h.6M475.06,111.58h.6M427.38,108.59h.6M477.26,117.14h.6M468,116.2h.6M431.62,83.06h.6M460.21,104.91h.6M423.74,87.35h.6M496.54,84.78h.6M491.96,114.61h.6M428.87,105.69h.6M426.62,113.31h.6M491.72,82.62h.6M486.33,112.04h.6M439.95,117.85h.6M424.42,93.24h.6M434.7,100.75h.6M453.39,109.76h.6M460.98,117.38h.6M445.35,102.32h.6M451.29,105.33h.6M471.54,108.12h.6M460.18,105.54h.6M463.55,104.01h.6M448.37,102.87h.6M458.52,124.23h.6M480.89,102.54h.6M463.59,122.16h.6M450.81,81.07h.6M462.73,107.44h.6M476.93,132.79h.6M424.15,118.64h.6M432.94,101.53h.6M439.24,103.07h.6M486.68,76.94h.6M448.12,104.51h.6M451.93,106.49h.6M436.72,83.77h.6M469.15,116.21h.6M435.1,115.56h.6M469.23,111.03h.6M457.69,112.93h.6M419.74,87.85h.6M469.46,109.98h.6M441.99,105.6h.6M462.15,130.58h.6M492.12,87.47h.6M475.02,114.76h.6M454.61,118.62h.6M467.87,78.33h.6M478.92,136.11h.6M463,102.32h.6M432.4,104.31h.6M422.38,90.02h.6M439.99,80.93h.6M452.63,111.96h.6M489.4,103.52h.6M446.81,117.4h.6M482.09,111.1h.6M438.44,103.96h.6M428.18,100.62h.6M451.99,143.06h.6M475.22,104.16h.6M458.67,122.78h.6M481.66,121.19h.6M491.22,92.72h.6M454.95,114.69h.6M460.14,103.75h.6M480.02,111.3h.6M468.47,108.56h.6M447.07,116.12h.6M474.05,126.75h.6M442.78,109.63h.6M463.31,101.87h.6M461.85,107.83h.6M489.11,112.7h.6M423.74,110.8h.6M479.19,109.02h.6M427.58,84.38h.6M474.96,117.85h.6M492.57,95.3h.6M425.04,84.09h.6M467.35,120.47h.6M432.17,101.85h.6M463.19,125.92h.6M467.81,102.39h.6M438.93,103.77h.6M484.96,111.5h.6M494,90.07h.6M446.01,110.33h.6M478.47,112.72h.6M454.02,124.84h.6M426.16,108.06h.6M452.46,112.4h.6M485.15,127.7h.6M466.46,104.22h.6M482.79,112.23h.6M453.96,120.63h.6M465.02,103.87h.6M437.5,83.31h.6M443.46,108h.6M489.49,78.57h.6M476.16,108.53h.6M461.06,110.86h.6M477.91,99.24h.6M435.24,99.76h.6M432.27,86.19h.6M438.49,120.39h.6M464.56,107.42h.6M494.95,116.62h.6M461.03,112.85h.6M479.83,121.55h.6M491.69,80.45h.6M482.53,105.92h.6M479.28,128.33h.6M451.81,102.98h.6M442.87,103.53h.6M454.55,103.33h.6M472.7,116.27h.6M429.58,83.86h.6M479.91,119.02h.6M474.02,121.04h.6M476.8,110.52h.6M446.14,104.7h.6M426.12,85.25h.6M452.91,117.25h.6M470.07,102.27h.6M428.29,94.04h.6M470.26,109.03h.6M466.57,102.34h.6M448.92,105.66h.6M471.2,105.36h.6M459.11,110.98h.6M474.02,111.2h.6M470.42,107.13h.6M469.96,123.45h.6M491.95,81.44h.6M460.68,111.22h.6M429.32,95.5h.6M438.99,124.66h.6M435.27,101.64h.6M423.79,112.83h.6M472.31,106.43h.6M466.52,116.2h.6M420.32,107.53h.6M453.03,79.2h.6M455.87,111.63h.6M499.67,111.5h.6M478.87,136.17h.6M463.54,118.53h.6M478.9,112.85h.6M469.21,124.91h.6M490.56,122.56h.6M452.57,123.97h.6M484.85,97.98h.6M416.39,127.89h.6M436.34,100.28h.6M469.91,105.2h.6M461.29,106.86h.6M452.28,102.93h.6M471.63,133.76h.6M417.16,88.72h.6M460.14,103.49h.6M427.9,98.17h.6M493.77,88.86h.6M430.4,104.48h.6M463.87,104.5h.6M477.39,99.96h.6M477.54,97.71h.6M453.65,108.36h.6M453.06,79.84h.6M491.3,78.05h.6M473.04,100.03h.6M431.55,99h.6M470.77,109.03h.6M490.38,92.22h.6M425.37,91.45h.6M477.7,114.05h.6M420.37,100.14h.6M486.72,95.57h.6M483.4,110.4h.6M468.87,104.79h.6M424.48,86.56h.6M456.65,120.06h.6M434.55,103.67h.6M463.17,103.33h.6M474.05,106.64h.6M476.36,98.06h.6M486.43,100.23h.6M446.92,102.79h.6M495.88,84.28h.6M476.79,113.81h.6M473.14,113.93h.6M478.71,103.34h.6M490.39,76.14h.6M416.8,89.56h.6M463.22,109.07h.6M429.41,96.26h.6M451.18,103.2h.6M479.16,125h.6M459.78,124.77h.6M463.9,103.49h.6M434.81,110.29h.6M467.38,108.48h.6M462.63,110.4h.6M465.07,103.27h.6M432.57,115.19h.6M462.66,104.08h.6M427.8,88.06h.6M492.34,95.4h.6M488.16,95.89h.6M453.72,107.67h.6M450.34,125.28h.6M467.93,110.11h.6M459.78,79.46h.6M481.32,128.47h.6M446.55,102.49h.6M432.11,85.88h.6M463.32,105.4h.6M468.76,106.5h.6M434.66,83.95h.6M475.96,107.42h.6M476.76,104.26h.6M473.66,102.1h.6M424.24,114.74h.6M458.28,103.45h.6M493.73,88.1h.6M460.67,119.52h.6M467.91,106.14h.6M464.31,106.76h.6M458.81,102.24h.6M483.82,112.14h.6M472.71,102.48h.6M456.73,120.58h.6M452.25,118.18h.6M465.24,111.89h.6M446.04,104.47h.6M459.86,115.03h.6M436.04,83.39h.6M460.16,107.56h.6M473.87,117.37h.6M477.83,108.35h.6M489.38,94.13h.6M483.33,77.95h.6M498.94,103.73h.6M450.09,104.12h.6M431.66,83.71h.6M444.09,118.63h.6M461.94,112.76h.6M438.96,120.32h.6M459.53,115.38h.6M468.16,118.14h.6M485.19,76.96h.6M451.59,109.17h.6M458.33,130.52h.6M465.43,78.77h.6M447.33,134.78h.6M452.18,105.81h.6M419.24,102h.6M455.49,113.74h.6M476.11,109.41h.6M445.73,141.02h.6M448.25,106.25h.6M470.15,104.54h.6M494.96,98.24h.6M427.54,95.11h.6M468.45,108.23h.6M428.8,99h.6M480.65,105.39h.6M475.75,106.04h.6M447.97,81.42h.6M489.26,91.41h.6M481.15,76.66h.6M492.09,87.9h.6M419.25,102.75h.6M457.1,125.96h.6M489.33,76.42h.6M484.47,94.86h.6M459.09,104.31h.6M424.5,92.43h.6M439.87,104.02h.6M437.58,128.6h.6M493.77,91.05h.6M433.41,120.3h.6M454.43,104.48h.6M460.54,104.66h.6M482.85,120.76h.6M476.02,112.25h.6M429.94,95.85h.6M423.56,85.76h.6M465.83,118.72h.6M466.87,102.74h.6M467.29,114.33h.6M490.35,90.96h.6M432.3,127.23h.6M418.69,90.87h.6M453.87,114.04h.6M466.4,102.96h.6M479.61,97.07h.6M455.64,118.63h.6M437.39,104.2h.6M473.01,121.75h.6M458.27,109.35h.6M424.02,96.75h.6M467.28,119.07h.6M467.84,102.22h.6M459.01,103.47h.6M437.73,84.38h.6M459.83,112.5h.6M493.08,84.91h.6M434.19,103.71h.6M469.1,112.04h.6M494.34,81.71h.6M453.87,123.16h.6M476.23,109.64h.6M492.45,87.28h.6M447.05,117.61h.6M425.71,101.95h.6M455.52,117.42h.6M449.47,119.76h.6M465.55,105.6h.6M459.76,118.58h.6M463.7,111.64h.6M451.93,117.84h.6M433.12,83.91h.6M431.02,103.1h.6M458.04,119.87h.6M458.46,106.09h.6M453.83,114.77h.6M445.79,108.07h.6M479.86,117.21h.6M475.23,103.01h.6M421.64,145.91h.6M453.52,80.84h.6M431.59,139.22h.6M456.43,110.94h.6" stroke="#333" stroke-width="0.6" fill="none" opacity="0.72"/>
<path d="M427.52,92.52C427.33,91.11 428.55,89.64 429.64,88.45C430.73,87.25 431.54,86.27 434.04,85.35C436.54,84.42 440.7,83.58 444.65,82.9C448.59,82.22 453.35,81.87 457.7,81.27C462.05,80.67 466.67,79.86 470.75,79.31C474.83,78.77 479.04,78.03 482.17,78.01C485.29,77.98 487.88,78.14 489.51,79.15C491.14,80.15 491.9,82.14 491.95,84.04C492.01,85.95 491.46,88.66 489.83,90.57C488.2,92.47 485.08,93.97 482.17,95.46C479.26,96.96 475.64,98.45 472.38,99.54C469.12,100.63 466.4,101.44 462.59,101.99C458.78,102.53 453.62,103.07 449.54,102.8C445.46,102.53 441.25,101.33 438.12,100.36C434.99,99.38 432.55,98.23 430.78,96.93C429.01,95.62 427.71,93.94 427.52,92.52Z" fill="white" stroke="#2e2e2e" stroke-width="0.5"/>
<path d="M431.34,92.22C431.17,90.97 432.25,89.68 433.2,88.63C434.16,87.58 434.88,86.71 437.08,85.9C439.28,85.09 442.94,84.35 446.41,83.75C449.88,83.15 454.07,82.84 457.89,82.31C461.72,81.79 465.79,81.07 469.38,80.59C472.97,80.11 476.68,79.46 479.43,79.44C482.18,79.42 484.45,79.56 485.89,80.45C487.32,81.33 487.99,83.08 488.04,84.75C488.09,86.43 487.61,88.82 486.17,90.49C484.74,92.17 481.99,93.48 479.43,94.8C476.87,96.12 473.69,97.43 470.81,98.39C467.94,99.35 465.55,100.06 462.2,100.54C458.85,101.02 454.31,101.5 450.72,101.26C447.13,101.02 443.42,99.97 440.67,99.11C437.92,98.25 435.76,97.24 434.21,96.09C432.65,94.94 431.5,93.46 431.34,92.22Z" fill="none" stroke="#2e2e2e" stroke-width="0.5"/>
<path d="M435.03,91.93C434.88,90.86 435.81,89.74 436.64,88.83C437.46,87.92 438.08,87.18 439.99,86.48C441.89,85.77 445.05,85.13 448.04,84.62C451.04,84.1 454.66,83.83 457.96,83.38C461.27,82.92 464.78,82.3 467.88,81.89C470.98,81.48 474.18,80.92 476.56,80.9C478.94,80.88 480.9,81 482.14,81.77C483.38,82.53 483.96,84.04 484,85.49C484.04,86.93 483.63,89 482.39,90.44C481.15,91.89 478.77,93.03 476.56,94.16C474.35,95.3 471.6,96.44 469.12,97.26C466.64,98.09 464.57,98.71 461.68,99.12C458.79,99.54 454.86,99.95 451.76,99.74C448.66,99.54 445.46,98.63 443.08,97.88C440.71,97.14 438.85,96.27 437.51,95.28C436.16,94.29 435.17,93.01 435.03,91.93Z" fill="none" stroke="#2e2e2e" stroke-width="0.5"/>
<path d="M438.5,91.69C438.38,90.78 439.16,89.84 439.86,89.08C440.56,88.31 441.08,87.68 442.68,87.09C444.28,86.5 446.94,85.96 449.47,85.53C451.99,85.09 455.03,84.86 457.82,84.48C460.6,84.1 463.56,83.58 466.17,83.23C468.78,82.88 471.48,82.41 473.48,82.39C475.48,82.38 477.13,82.48 478.18,83.12C479.22,83.77 479.71,85.04 479.74,86.26C479.78,87.47 479.43,89.21 478.39,90.43C477.34,91.65 475.34,92.61 473.48,93.56C471.62,94.52 469.3,95.48 467.21,96.17C465.13,96.87 463.39,97.39 460.95,97.74C458.51,98.09 455.21,98.44 452.6,98.26C449.99,98.09 447.29,97.32 445.29,96.7C443.29,96.07 441.72,95.34 440.59,94.5C439.46,93.67 438.63,92.59 438.5,91.69Z" fill="none" stroke="#2e2e2e" stroke-width="0.5"/>
<path d="M441.44,91.5C441.34,90.75 441.99,89.98 442.57,89.34C443.14,88.71 443.58,88.19 444.9,87.7C446.23,87.21 448.43,86.76 450.52,86.4C452.61,86.04 455.13,85.85 457.44,85.54C459.74,85.22 462.19,84.79 464.36,84.5C466.52,84.21 468.75,83.82 470.41,83.81C472.07,83.79 473.43,83.88 474.3,84.41C475.16,84.95 475.57,86 475.6,87.01C475.62,88.02 475.34,89.46 474.47,90.47C473.61,91.47 471.95,92.27 470.41,93.06C468.87,93.85 466.95,94.64 465.22,95.22C463.49,95.8 462.05,96.23 460.03,96.52C458.02,96.81 455.28,97.09 453.12,96.95C450.95,96.81 448.72,96.17 447.06,95.65C445.41,95.13 444.11,94.53 443.17,93.84C442.24,93.15 441.54,92.25 441.44,91.5Z" fill="none" stroke="#2e2e2e" stroke-width="0.5"/>
<path d="M444.1,91.37C444.02,90.78 444.53,90.16 444.99,89.66C445.44,89.16 445.79,88.75 446.84,88.36C447.89,87.97 449.64,87.62 451.29,87.33C452.95,87.05 454.95,86.9 456.77,86.65C458.6,86.39 460.54,86.05 462.25,85.82C463.97,85.6 465.74,85.29 467.05,85.28C468.36,85.26 469.45,85.33 470.13,85.76C470.82,86.18 471.14,87.01 471.16,87.81C471.18,88.61 470.95,89.75 470.27,90.55C469.58,91.35 468.27,91.98 467.05,92.61C465.83,93.23 464.31,93.86 462.94,94.32C461.57,94.78 460.43,95.12 458.83,95.35C457.23,95.58 455.06,95.8 453.35,95.69C451.63,95.58 449.86,95.07 448.55,94.66C447.24,94.25 446.21,93.77 445.47,93.22C444.72,92.68 444.18,91.97 444.1,91.37Z" fill="none" stroke="#2e2e2e" stroke-width="0.5"/>
<path d="M446.42,91.3C446.36,90.86 446.74,90.41 447.07,90.04C447.41,89.67 447.66,89.36 448.44,89.08C449.22,88.79 450.5,88.53 451.73,88.32C452.95,88.11 454.42,88 455.77,87.81C457.12,87.63 458.55,87.38 459.82,87.21C461.08,87.04 462.39,86.81 463.36,86.8C464.33,86.79 465.13,86.84 465.63,87.16C466.14,87.47 466.38,88.08 466.39,88.67C466.41,89.26 466.24,90.11 465.73,90.7C465.23,91.29 464.26,91.75 463.36,92.21C462.46,92.68 461.34,93.14 460.32,93.48C459.31,93.81 458.47,94.07 457.29,94.24C456.11,94.4 454.51,94.57 453.24,94.49C451.98,94.4 450.67,94.03 449.7,93.73C448.73,93.43 447.98,93.07 447.43,92.67C446.88,92.26 446.48,91.74 446.42,91.3Z" fill="none" stroke="#2e2e2e" stroke-width="0.5"/>
<path d="M448.36,91.3C448.32,91.02 448.57,90.72 448.78,90.48C449,90.25 449.17,90.05 449.67,89.86C450.17,89.68 451,89.51 451.79,89.38C452.57,89.24 453.53,89.17 454.4,89.05C455.27,88.93 456.19,88.77 457.01,88.66C457.82,88.55 458.67,88.4 459.29,88.4C459.92,88.39 460.43,88.42 460.76,88.62C461.09,88.83 461.24,89.22 461.25,89.6C461.26,89.98 461.15,90.53 460.82,90.91C460.5,91.29 459.87,91.59 459.29,91.89C458.71,92.19 457.99,92.49 457.33,92.7C456.68,92.92 456.14,93.08 455.38,93.19C454.61,93.3 453.58,93.41 452.77,93.36C451.95,93.3 451.11,93.06 450.48,92.87C449.86,92.67 449.37,92.44 449.01,92.18C448.66,91.92 448.4,91.58 448.36,91.3Z" fill="none" stroke="#2e2e2e" stroke-width="0.5"/>
<ellipse cx="474.61" cy="87.49" rx="5.2" ry="2.4" fill="white" stroke="#3c3c3c" stroke-width="0.45" transform="rotate(-12 474.61 87.49)"/>
<ellipse cx="474.61" cy="87.49" rx="2.6" ry="1.2" fill="white" stroke="#3c3c3c" stroke-width="0.45" transform="rotate(-12 474.61 87.49)"/>
<rect x="401.2" y="50.3" width="106.5" height="106.5" fill="none" stroke="#9a9a9a" stroke-width="0.8"/>
<line x1="462.4" y1="50.3" x2="462.4" y2="156.8" stroke="#2a2a2a" stroke-width="0.9"/>
<line x1="401.2" y1="104.3" x2="507.7" y2="104.3" stroke="#2a2a2a" stroke-width="0.9"/>
<line x1="412.8" y1="156.8" x2="412.8" y2="159.4" stroke="#222" stroke-width="0.65"/>
<line x1="419.21" y1="156.8" x2="419.21" y2="158.1" stroke="#222" stroke-width="0.65"/>
<line x1="422.96" y1="156.8" x2="422.96" y2="158.1" stroke="#222" stroke-width="0.65"/>
<line x1="425.62" y1="156.8" x2="425.62" y2="158.1" stroke="#222" stroke-width="0.65"/>
<line x1="427.69" y1="156.8" x2="427.69" y2="158.1" stroke="#222" stroke-width="0.65"/>
<line x1="429.37" y1="156.8" x2="429.37" y2="158.1" stroke="#222" stroke-width="0.65"/>
<line x1="430.8" y1="156.8" x2="430.8" y2="158.1" stroke="#222" stroke-width="0.65"/>
<line x1="432.04" y1="156.8" x2="432.04" y2="158.1" stroke="#222" stroke-width="0.65"/>
<line x1="433.13" y1="156.8" x2="433.13" y2="158.1" stroke="#222" stroke-width="0.65"/>
<line x1="434.1" y1="156.8" x2="434.1" y2="159.4" stroke="#222" stroke-width="0.65"/>
<line x1="440.51" y1="156.8" x2="440.51" y2="158.1" stroke="#222" stroke-width="0.65"/>
<line x1="444.26" y1="156.8" x2="444.26" y2="158.1" stroke="#222" stroke-width="0.65"/>
<line x1="446.92" y1="156.8" x2="446.92" y2="158.1" stroke="#222" stroke-width="0.65"/>
<line x1="448.99" y1="156.8" x2="448.99" y2="158.1" stroke="#222" stroke-width="0.65"/>
<line x1="450.67" y1="156.8" x2="450.67" y2="158.1" stroke="#222" stroke-width="0.65"/>
<line x1="452.1" y1="156.8" x2="452.1" y2="158.1" stroke="#222" stroke-width="0.65"/>
<line x1="453.34" y1="156.8" x2="453.34" y2="158.1" stroke="#222" stroke-width="0.65"/>
<line x1="454.43" y1="156.8" x2="454.43" y2="158.1" stroke="#222" stroke-width="0.65"/>
<line x1="455.4" y1="156.8" x2="455.4" y2="159.4" stroke="#222" stroke-width="0.65"/>
<line x1="461.81" y1="156.8" x2="461.81" y2="158.1" stroke="#222" stroke-width="0.65"/>
<line x1="465.56" y1="156.8" x2="465.56" y2="158.1" stroke="#222" stroke-width="0.65"/>
<line x1="468.22" y1="156.8" x2="468.22" y2="158.1" stroke="#222" stroke-width="0.65"/>
<line x1="470.29" y1="156.8" x2="470.29" y2="158.1" stroke="#222" stroke-width="0.65"/>
<line x1="471.97" y1="156.8" x2="471.97" y2="158.1" stroke="#222" stroke-width="0.65"/>
<line x1="473.4" y1="156.8" x2="473.4" y2="158.1" stroke="#222" stroke-width="0.65"/>
<line x1="474.64" y1="156.8" x2="474.64" y2="158.1" stroke="#222" stroke-width="0.65"/>
<line x1="475.73" y1="156.8" x2="475.73" y2="158.1" stroke="#222" stroke-width="0.65"/>
<line x1="476.7" y1="156.8" x2="476.7" y2="159.4" stroke="#222" stroke-width="0.65"/>
<line x1="483.11" y1="156.8" x2="483.11" y2="158.1" stroke="#222" stroke-width="0.65"/>
<line x1="486.86" y1="156.8" x2="486.86" y2="158.1" stroke="#222" stroke-width="0.65"/>
<line x1="489.52" y1="156.8" x2="489.52" y2="158.1" stroke="#222" stroke-width="0.65"/>
<line x1="491.59" y1="156.8" x2="491.59" y2="158.1" stroke="#222" stroke-width="0.65"/>
<line x1="493.27" y1="156.8" x2="493.27" y2="158.1" stroke="#222" stroke-width="0.65"/>
<line x1="494.7" y1="156.8" x2="494.7" y2="158.1" stroke="#222" stroke-width="0.65"/>
<line x1="495.94" y1="156.8" x2="495.94" y2="158.1" stroke="#222" stroke-width="0.65"/>
<line x1="497.03" y1="156.8" x2="497.03" y2="158.1" stroke="#222" stroke-width="0.65"/>
<line x1="498" y1="156.8" x2="498" y2="159.4" stroke="#222" stroke-width="0.65"/>
<line x1="504.41" y1="156.8" x2="504.41" y2="158.1" stroke="#222" stroke-width="0.65"/>
<line x1="404.32" y1="156.8" x2="404.32" y2="158.1" stroke="#222" stroke-width="0.65"/>
<line x1="406.39" y1="156.8" x2="406.39" y2="158.1" stroke="#222" stroke-width="0.65"/>
<line x1="408.07" y1="156.8" x2="408.07" y2="158.1" stroke="#222" stroke-width="0.65"/>
<line x1="409.5" y1="156.8" x2="409.5" y2="158.1" stroke="#222" stroke-width="0.65"/>
<line x1="410.74" y1="156.8" x2="410.74" y2="158.1" stroke="#222" stroke-width="0.65"/>
<line x1="411.83" y1="156.8" x2="411.83" y2="158.1" stroke="#222" stroke-width="0.65"/>
<line x1="401.2" y1="59.8" x2="398.6" y2="59.8" stroke="#222" stroke-width="0.65"/>
<line x1="401.2" y1="74.65" x2="399.9" y2="74.65" stroke="#222" stroke-width="0.65"/>
<line x1="401.2" y1="70.91" x2="399.9" y2="70.91" stroke="#222" stroke-width="0.65"/>
<line x1="401.2" y1="68.26" x2="399.9" y2="68.26" stroke="#222" stroke-width="0.65"/>
<line x1="401.2" y1="66.2" x2="399.9" y2="66.2" stroke="#222" stroke-width="0.65"/>
<line x1="401.2" y1="64.51" x2="399.9" y2="64.51" stroke="#222" stroke-width="0.65"/>
<line x1="401.2" y1="63.09" x2="399.9" y2="63.09" stroke="#222" stroke-width="0.65"/>
<line x1="401.2" y1="61.86" x2="399.9" y2="61.86" stroke="#222" stroke-width="0.65"/>
<line x1="401.2" y1="60.77" x2="399.9" y2="60.77" stroke="#222" stroke-width="0.65"/>
<line x1="401.2" y1="81.05" x2="398.6" y2="81.05" stroke="#222" stroke-width="0.65"/>
<line x1="401.2" y1="95.9" x2="399.9" y2="95.9" stroke="#222" stroke-width="0.65"/>
<line x1="401.2" y1="92.16" x2="399.9" y2="92.16" stroke="#222" stroke-width="0.65"/>
<line x1="401.2" y1="89.51" x2="399.9" y2="89.51" stroke="#222" stroke-width="0.65"/>
<line x1="401.2" y1="87.45" x2="399.9" y2="87.45" stroke="#222" stroke-width="0.65"/>
<line x1="401.2" y1="85.76" x2="399.9" y2="85.76" stroke="#222" stroke-width="0.65"/>
<line x1="401.2" y1="84.34" x2="399.9" y2="84.34" stroke="#222" stroke-width="0.65"/>
<line x1="401.2" y1="83.11" x2="399.9" y2="83.11" stroke="#222" stroke-width="0.65"/>
<line x1="401.2" y1="82.02" x2="399.9" y2="82.02" stroke="#222" stroke-width="0.65"/>
<line x1="401.2" y1="102.3" x2="398.6" y2="102.3" stroke="#222" stroke-width="0.65"/>
<line x1="401.2" y1="117.15" x2="399.9" y2="117.15" stroke="#222" stroke-width="0.65"/>
<line x1="401.2" y1="113.41" x2="399.9" y2="113.41" stroke="#222" stroke-width="0.65"/>
<line x1="401.2" y1="110.76" x2="399.9" y2="110.76" stroke="#222" stroke-width="0.65"/>
<line x1="401.2" y1="108.7" x2="399.9" y2="108.7" stroke="#222" stroke-width="0.65"/>
<line x1="401.2" y1="107.01" x2="399.9" y2="107.01" stroke="#222" stroke-width="0.65"/>
<line x1="401.2" y1="105.59" x2="399.9" y2="105.59" stroke="#222" stroke-width="0.65"/>
<line x1="401.2" y1="104.36" x2="399.9" y2="104.36" stroke="#222" stroke-width="0.65"/>
<line x1="401.2" y1="103.27" x2="399.9" y2="103.27" stroke="#222" stroke-width="0.65"/>
<line x1="401.2" y1="123.55" x2="398.6" y2="123.55" stroke="#222" stroke-width="0.65"/>
<line x1="401.2" y1="138.4" x2="399.9" y2="138.4" stroke="#222" stroke-width="0.65"/>
<line x1="401.2" y1="134.66" x2="399.9" y2="134.66" stroke="#222" stroke-width="0.65"/>
<line x1="401.2" y1="132.01" x2="399.9" y2="132.01" stroke="#222" stroke-width="0.65"/>
<line x1="401.2" y1="129.95" x2="399.9" y2="129.95" stroke="#222" stroke-width="0.65"/>
<line x1="401.2" y1="128.26" x2="399.9" y2="128.26" stroke="#222" stroke-width="0.65"/>
<line x1="401.2" y1="126.84" x2="399.9" y2="126.84" stroke="#222" stroke-width="0.65"/>
<line x1="401.2" y1="125.61" x2="399.9" y2="125.61" stroke="#222" stroke-width="0.65"/>
<line x1="401.2" y1="124.52" x2="399.9" y2="124.52" stroke="#222" stroke-width="0.65"/>
<line x1="401.2" y1="144.8" x2="398.6" y2="144.8" stroke="#222" stroke-width="0.65"/>
<line x1="401.2" y1="155.91" x2="399.9" y2="155.91" stroke="#222" stroke-width="0.65"/>
<line x1="401.2" y1="153.26" x2="399.9" y2="153.26" stroke="#222" stroke-width="0.65"/>
<line x1="401.2" y1="151.2" x2="399.9" y2="151.2" stroke="#222" stroke-width="0.65"/>
<line x1="401.2" y1="149.51" x2="399.9" y2="149.51" stroke="#222" stroke-width="0.65"/>
<line x1="401.2" y1="148.09" x2="399.9" y2="148.09" stroke="#222" stroke-width="0.65"/>
<line x1="401.2" y1="146.86" x2="399.9" y2="146.86" stroke="#222" stroke-width="0.65"/>
<line x1="401.2" y1="145.77" x2="399.9" y2="145.77" stroke="#222" stroke-width="0.65"/>
<line x1="401.2" y1="53.4" x2="399.9" y2="53.4" stroke="#222" stroke-width="0.65"/>
<text x="405" y="61" font-size="7.8">53.8</text>
<text x="501.9" y="61" font-size="7.8" text-anchor="end">32.8</text>
<text x="405" y="153.2" font-size="7.8">6.8</text>
<text x="501.9" y="153.2" font-size="7.8" text-anchor="end">6.6</text>
<line x1="262.7" y1="175.1" x2="262.7" y2="122.4" stroke="#231f20" stroke-width="0.6"/>
<polygon points="262.7,118.6 264.4,122.4 261,122.4" fill="#231f20"/>
<line x1="262.4" y1="174.8" x2="314.6" y2="174.8" stroke="#231f20" stroke-width="0.6"/>
<polygon points="318.4,174.8 314.6,176.5 314.6,173.1" fill="#231f20"/>
<text x="243.2" y="146.5" font-size="9.5" text-anchor="middle" transform="rotate(-90 243.2 146.5)">CD62L</text>
<text x="255" y="146.5" font-size="9.5" text-anchor="middle" transform="rotate(-90 255 146.5)">PE-Cy7</text>
<text x="289.3" y="186.4" font-size="9.5" text-anchor="middle">CD44</text>
<text x="289.3" y="197.4" font-size="9.5" text-anchor="middle">PE</text>
<text x="522.4" y="9" font-size="13" font-weight="bold" fill="#111">c</text>
<text x="589.4" y="19" font-size="10.6" text-anchor="middle">Spleen</text>
<line x1="527.2" y1="23.4" x2="659.2" y2="23.4" stroke="#929292" stroke-width="0.9"/>
<text x="560.2" y="43.4" font-size="9.5" text-anchor="middle">WT</text>
<text x="628.4" y="31.9" font-size="9.5" text-anchor="middle">Cas9 +</text>
<text x="627.4" y="43.4" font-size="9.5" text-anchor="middle">control sgRNA</text>
<path d="M527.3,153.4 L527.3,152.38 L528.1,152.1 L528.9,151.78 L529.7,151.4 L530.5,151.02 L531.3,150.53 L532.1,150.23 L532.9,149.61 L533.7,148.91 L534.5,148.41 L535.3,147.7 L536.1,147.4 L536.9,146.58 L537.7,146.01 L538.5,145.11 L539.3,144.29 L540.1,143.77 L540.9,142.59 L541.7,141.26 L542.5,139 L543.3,136.94 L544.1,134.84 L544.9,130.21 L545.7,126.63 L546.5,119.78 L547.3,114.07 L548.1,106.64 L548.9,94.83 L549.7,88.96 L550.5,80.92 L551.3,69.71 L552.1,65.01 L552.9,65.72 L553.7,61.37 L554.5,67.74 L555.3,75.25 L556.1,89.03 L556.9,99.05 L557.7,113 L558.5,123.99 L559.3,133.55 L560.1,140.99 L560.9,145.39 L561.7,148.15 L562.5,149.56 L563.3,150.19 L564.1,150.33 L564.9,150.28 L565.7,150.42 L566.5,150.34 L567.3,150.51 L568.1,150.66 L568.9,150.75 L569.7,151.04 L570.5,151.31 L571.3,151.55 L572.1,151.79 L572.9,152.11 L573.7,152.27 L574.5,152.55 L575.3,152.69 L576.1,152.85 L576.9,153.01 L577.7,153.09 L578.5,153.1 L579.3,153.1 L580.1,153.1 L580.9,153.1 L581.7,153.1 L582.5,153.1 L583.3,153.1 L584.1,153.1 L584.9,153.1 L585.7,153.1 L586.5,153.1 L587.3,153.1 L588.1,153.1 L588.9,153.1 L589.7,153.1 L590.5,153.1 L591.3,153.1 L591.3,153.4Z" fill="#a6a7ab" stroke="#555" stroke-width="0.5" stroke-linejoin="round"/>
<rect x="526.7" y="51.2" width="65.9" height="102.5" fill="none" stroke="#b8b8b8" stroke-width="0.9"/>
<line x1="526.7" y1="51.2" x2="526.7" y2="153.9" stroke="#555" stroke-width="0.8"/>
<line x1="526.7" y1="153.6" x2="592.6" y2="153.6" stroke="#666" stroke-width="0.6"/>
<line x1="533.3" y1="153.7" x2="533.3" y2="156.1" stroke="#444" stroke-width="0.5"/>
<line x1="537.33" y1="153.7" x2="537.33" y2="154.9" stroke="#444" stroke-width="0.5"/>
<line x1="539.69" y1="153.7" x2="539.69" y2="154.9" stroke="#444" stroke-width="0.5"/>
<line x1="541.37" y1="153.7" x2="541.37" y2="154.9" stroke="#444" stroke-width="0.5"/>
<line x1="542.67" y1="153.7" x2="542.67" y2="154.9" stroke="#444" stroke-width="0.5"/>
<line x1="543.73" y1="153.7" x2="543.73" y2="154.9" stroke="#444" stroke-width="0.5"/>
<line x1="544.62" y1="153.7" x2="544.62" y2="154.9" stroke="#444" stroke-width="0.5"/>
<line x1="545.4" y1="153.7" x2="545.4" y2="154.9" stroke="#444" stroke-width="0.5"/>
<line x1="546.09" y1="153.7" x2="546.09" y2="154.9" stroke="#444" stroke-width="0.5"/>
<line x1="546.7" y1="153.7" x2="546.7" y2="156.1" stroke="#444" stroke-width="0.5"/>
<line x1="550.73" y1="153.7" x2="550.73" y2="154.9" stroke="#444" stroke-width="0.5"/>
<line x1="553.09" y1="153.7" x2="553.09" y2="154.9" stroke="#444" stroke-width="0.5"/>
<line x1="554.77" y1="153.7" x2="554.77" y2="154.9" stroke="#444" stroke-width="0.5"/>
<line x1="556.07" y1="153.7" x2="556.07" y2="154.9" stroke="#444" stroke-width="0.5"/>
<line x1="557.13" y1="153.7" x2="557.13" y2="154.9" stroke="#444" stroke-width="0.5"/>
<line x1="558.02" y1="153.7" x2="558.02" y2="154.9" stroke="#444" stroke-width="0.5"/>
<line x1="558.8" y1="153.7" x2="558.8" y2="154.9" stroke="#444" stroke-width="0.5"/>
<line x1="559.49" y1="153.7" x2="559.49" y2="154.9" stroke="#444" stroke-width="0.5"/>
<line x1="560.1" y1="153.7" x2="560.1" y2="156.1" stroke="#444" stroke-width="0.5"/>
<line x1="564.13" y1="153.7" x2="564.13" y2="154.9" stroke="#444" stroke-width="0.5"/>
<line x1="566.49" y1="153.7" x2="566.49" y2="154.9" stroke="#444" stroke-width="0.5"/>
<line x1="568.17" y1="153.7" x2="568.17" y2="154.9" stroke="#444" stroke-width="0.5"/>
<line x1="569.47" y1="153.7" x2="569.47" y2="154.9" stroke="#444" stroke-width="0.5"/>
<line x1="570.53" y1="153.7" x2="570.53" y2="154.9" stroke="#444" stroke-width="0.5"/>
<line x1="571.42" y1="153.7" x2="571.42" y2="154.9" stroke="#444" stroke-width="0.5"/>
<line x1="572.2" y1="153.7" x2="572.2" y2="154.9" stroke="#444" stroke-width="0.5"/>
<line x1="572.89" y1="153.7" x2="572.89" y2="154.9" stroke="#444" stroke-width="0.5"/>
<line x1="573.5" y1="153.7" x2="573.5" y2="156.1" stroke="#444" stroke-width="0.5"/>
<line x1="577.53" y1="153.7" x2="577.53" y2="154.9" stroke="#444" stroke-width="0.5"/>
<line x1="579.89" y1="153.7" x2="579.89" y2="154.9" stroke="#444" stroke-width="0.5"/>
<line x1="581.57" y1="153.7" x2="581.57" y2="154.9" stroke="#444" stroke-width="0.5"/>
<line x1="582.87" y1="153.7" x2="582.87" y2="154.9" stroke="#444" stroke-width="0.5"/>
<line x1="583.93" y1="153.7" x2="583.93" y2="154.9" stroke="#444" stroke-width="0.5"/>
<line x1="584.82" y1="153.7" x2="584.82" y2="154.9" stroke="#444" stroke-width="0.5"/>
<line x1="585.6" y1="153.7" x2="585.6" y2="154.9" stroke="#444" stroke-width="0.5"/>
<line x1="586.29" y1="153.7" x2="586.29" y2="154.9" stroke="#444" stroke-width="0.5"/>
<line x1="586.9" y1="153.7" x2="586.9" y2="156.1" stroke="#444" stroke-width="0.5"/>
<line x1="590.93" y1="153.7" x2="590.93" y2="154.9" stroke="#444" stroke-width="0.5"/>
<line x1="526.7" y1="125.2" x2="525.1" y2="125.2" stroke="#444" stroke-width="0.5"/>
<line x1="526.7" y1="97" x2="525.1" y2="97" stroke="#444" stroke-width="0.5"/>
<line x1="526.7" y1="68.8" x2="525.1" y2="68.8" stroke="#444" stroke-width="0.5"/>
<path d="M596.7,153.4 L596.7,152.54 L597.5,152.3 L598.3,152.05 L599.1,151.76 L599.9,151.43 L600.7,150.92 L601.5,150.5 L602.3,149.93 L603.1,149.5 L603.9,148.82 L604.7,148.4 L605.5,147.58 L606.3,146.97 L607.1,146.44 L607.9,145.68 L608.7,144.84 L609.5,144.32 L610.3,143.14 L611.1,141.83 L611.9,140.9 L612.7,138.61 L613.5,136.38 L614.3,133.07 L615.1,129.87 L615.9,125.4 L616.7,117.66 L617.5,110.18 L618.3,103.02 L619.1,95.81 L619.9,86.94 L620.7,76.85 L621.5,72.16 L622.3,63.56 L623.1,63.56 L623.9,66.57 L624.7,68.75 L625.5,79.58 L626.3,88.98 L627.1,102.59 L627.9,116.59 L628.7,127.3 L629.5,135.94 L630.3,142.17 L631.1,146.3 L631.9,149.15 L632.7,150.37 L633.5,150.94 L634.3,151.23 L635.1,151.26 L635.9,151.38 L636.7,151.33 L637.5,151.47 L638.3,151.62 L639.1,151.69 L639.9,151.88 L640.7,152.06 L641.5,152.21 L642.3,152.41 L643.1,152.57 L643.9,152.69 L644.7,152.84 L645.5,152.98 L646.3,153.06 L647.1,153.1 L647.9,153.1 L648.7,153.1 L649.5,153.1 L650.3,153.1 L651.1,153.1 L651.9,153.1 L652.7,153.1 L653.5,153.1 L654.3,153.1 L655.1,153.1 L655.9,153.1 L656.7,153.1 L657.5,153.1 L658.3,153.1 L659.1,153.1 L659.9,153.1 L660.7,153.1 L661.5,153.1 L661.5,153.4Z" fill="#a6a7ab" stroke="#555" stroke-width="0.5" stroke-linejoin="round"/>
<rect x="596.1" y="51.2" width="66.1" height="102.5" fill="none" stroke="#b8b8b8" stroke-width="0.9"/>
<line x1="596.1" y1="51.2" x2="596.1" y2="153.9" stroke="#555" stroke-width="0.8"/>
<line x1="596.1" y1="153.6" x2="662.2" y2="153.6" stroke="#666" stroke-width="0.6"/>
<line x1="602.7" y1="153.7" x2="602.7" y2="156.1" stroke="#444" stroke-width="0.5"/>
<line x1="606.73" y1="153.7" x2="606.73" y2="154.9" stroke="#444" stroke-width="0.5"/>
<line x1="609.09" y1="153.7" x2="609.09" y2="154.9" stroke="#444" stroke-width="0.5"/>
<line x1="610.77" y1="153.7" x2="610.77" y2="154.9" stroke="#444" stroke-width="0.5"/>
<line x1="612.07" y1="153.7" x2="612.07" y2="154.9" stroke="#444" stroke-width="0.5"/>
<line x1="613.13" y1="153.7" x2="613.13" y2="154.9" stroke="#444" stroke-width="0.5"/>
<line x1="614.02" y1="153.7" x2="614.02" y2="154.9" stroke="#444" stroke-width="0.5"/>
<line x1="614.8" y1="153.7" x2="614.8" y2="154.9" stroke="#444" stroke-width="0.5"/>
<line x1="615.49" y1="153.7" x2="615.49" y2="154.9" stroke="#444" stroke-width="0.5"/>
<line x1="616.1" y1="153.7" x2="616.1" y2="156.1" stroke="#444" stroke-width="0.5"/>
<line x1="620.13" y1="153.7" x2="620.13" y2="154.9" stroke="#444" stroke-width="0.5"/>
<line x1="622.49" y1="153.7" x2="622.49" y2="154.9" stroke="#444" stroke-width="0.5"/>
<line x1="624.17" y1="153.7" x2="624.17" y2="154.9" stroke="#444" stroke-width="0.5"/>
<line x1="625.47" y1="153.7" x2="625.47" y2="154.9" stroke="#444" stroke-width="0.5"/>
<line x1="626.53" y1="153.7" x2="626.53" y2="154.9" stroke="#444" stroke-width="0.5"/>
<line x1="627.42" y1="153.7" x2="627.42" y2="154.9" stroke="#444" stroke-width="0.5"/>
<line x1="628.2" y1="153.7" x2="628.2" y2="154.9" stroke="#444" stroke-width="0.5"/>
<line x1="628.89" y1="153.7" x2="628.89" y2="154.9" stroke="#444" stroke-width="0.5"/>
<line x1="629.5" y1="153.7" x2="629.5" y2="156.1" stroke="#444" stroke-width="0.5"/>
<line x1="633.53" y1="153.7" x2="633.53" y2="154.9" stroke="#444" stroke-width="0.5"/>
<line x1="635.89" y1="153.7" x2="635.89" y2="154.9" stroke="#444" stroke-width="0.5"/>
<line x1="637.57" y1="153.7" x2="637.57" y2="154.9" stroke="#444" stroke-width="0.5"/>
<line x1="638.87" y1="153.7" x2="638.87" y2="154.9" stroke="#444" stroke-width="0.5"/>
<line x1="639.93" y1="153.7" x2="639.93" y2="154.9" stroke="#444" stroke-width="0.5"/>
<line x1="640.82" y1="153.7" x2="640.82" y2="154.9" stroke="#444" stroke-width="0.5"/>
<line x1="641.6" y1="153.7" x2="641.6" y2="154.9" stroke="#444" stroke-width="0.5"/>
<line x1="642.29" y1="153.7" x2="642.29" y2="154.9" stroke="#444" stroke-width="0.5"/>
<line x1="642.9" y1="153.7" x2="642.9" y2="156.1" stroke="#444" stroke-width="0.5"/>
<line x1="646.93" y1="153.7" x2="646.93" y2="154.9" stroke="#444" stroke-width="0.5"/>
<line x1="649.29" y1="153.7" x2="649.29" y2="154.9" stroke="#444" stroke-width="0.5"/>
<line x1="650.97" y1="153.7" x2="650.97" y2="154.9" stroke="#444" stroke-width="0.5"/>
<line x1="652.27" y1="153.7" x2="652.27" y2="154.9" stroke="#444" stroke-width="0.5"/>
<line x1="653.33" y1="153.7" x2="653.33" y2="154.9" stroke="#444" stroke-width="0.5"/>
<line x1="654.22" y1="153.7" x2="654.22" y2="154.9" stroke="#444" stroke-width="0.5"/>
<line x1="655" y1="153.7" x2="655" y2="154.9" stroke="#444" stroke-width="0.5"/>
<line x1="655.69" y1="153.7" x2="655.69" y2="154.9" stroke="#444" stroke-width="0.5"/>
<line x1="656.3" y1="153.7" x2="656.3" y2="156.1" stroke="#444" stroke-width="0.5"/>
<line x1="660.33" y1="153.7" x2="660.33" y2="154.9" stroke="#444" stroke-width="0.5"/>
<line x1="596.1" y1="125.2" x2="594.5" y2="125.2" stroke="#444" stroke-width="0.5"/>
<line x1="596.1" y1="97" x2="594.5" y2="97" stroke="#444" stroke-width="0.5"/>
<line x1="596.1" y1="68.8" x2="594.5" y2="68.8" stroke="#444" stroke-width="0.5"/>
<line x1="561.2" y1="142.1" x2="590.4" y2="142.1" stroke="#444" stroke-width="0.7"/>
<line x1="561.2" y1="140.2" x2="561.2" y2="144" stroke="#444" stroke-width="0.7"/>
<line x1="590.4" y1="140.2" x2="590.4" y2="144" stroke="#444" stroke-width="0.7"/>
<text x="574.8" y="139.3" font-size="7.6" text-anchor="middle">4.1</text>
<line x1="630.3" y1="143.1" x2="661.2" y2="143.1" stroke="#444" stroke-width="0.7"/>
<line x1="630.3" y1="141.2" x2="630.3" y2="145" stroke="#444" stroke-width="0.7"/>
<line x1="661" y1="141.2" x2="661" y2="145" stroke="#444" stroke-width="0.7"/>
<text x="644.8" y="138.7" font-size="7.6" text-anchor="middle">3.7</text>
<text x="533.4" y="166.1" font-size="8" text-anchor="middle">10<tspan dy="-3.52" font-size="5.44">1</tspan></text>
<text x="560.2" y="166.1" font-size="8" text-anchor="middle">10<tspan dy="-3.52" font-size="5.44">3</tspan></text>
<text x="586.6" y="166.1" font-size="8" text-anchor="middle">10<tspan dy="-3.52" font-size="5.44">5</tspan></text>
<line x1="527.9" y1="171.7" x2="580.4" y2="171.7" stroke="#231f20" stroke-width="0.6"/>
<polygon points="584.2,171.7 580.4,173.4 580.4,170" fill="#231f20"/>
<text x="554.8" y="183.7" font-size="9.5" text-anchor="middle">CD69</text>
<text x="554.8" y="195.4" font-size="9.5" text-anchor="middle">APC</text>
<text x="-0.3" y="223.2" font-size="13" font-weight="bold" fill="#111">d</text>
<rect x="69.5" y="221.9" width="17.2" height="6.8" fill="white" stroke="#999" stroke-width="0.6"/>
<rect x="69.5" y="234.2" width="17.2" height="7.1" fill="#bcbdc0" stroke="#999" stroke-width="0.6"/>
<text x="95.1" y="228.2" font-size="9.5">WT</text>
<text x="95.1" y="241.3" font-size="9.5">Cas9 + control sgRNA</text>
<line x1="53.5" y1="247.1" x2="53.5" y2="375.8" stroke="#b4b4b4" stroke-width="1"/>
<line x1="53" y1="375.5" x2="208.6" y2="375.5" stroke="#c8c8c8" stroke-width="1"/>
<line x1="50.7" y1="375.3" x2="53.5" y2="375.3" stroke="#8a8a8a" stroke-width="0.8"/>
<text x="46.7" y="379.1" font-size="10.8" text-anchor="end">0</text>
<line x1="50.7" y1="343.27" x2="53.5" y2="343.27" stroke="#8a8a8a" stroke-width="0.8"/>
<text x="46.7" y="347.07" font-size="10.8" text-anchor="end">20</text>
<line x1="50.7" y1="311.25" x2="53.5" y2="311.25" stroke="#8a8a8a" stroke-width="0.8"/>
<text x="46.7" y="315.05" font-size="10.8" text-anchor="end">40</text>
<line x1="50.7" y1="279.23" x2="53.5" y2="279.23" stroke="#8a8a8a" stroke-width="0.8"/>
<text x="46.7" y="283.03" font-size="10.8" text-anchor="end">60</text>
<line x1="50.7" y1="247.2" x2="53.5" y2="247.2" stroke="#8a8a8a" stroke-width="0.8"/>
<text x="46.7" y="251" font-size="10.8" text-anchor="end">80</text>
<text x="14" y="312.2" font-size="10.9" text-anchor="middle" transform="rotate(-90 14 312.2)">Freq. population+</text>
<text x="27" y="311.8" font-size="10.9" text-anchor="middle" transform="rotate(-90 27 311.8)">of CD8&#946;+ (%)</text>
<line x1="71.2" y1="375.3" x2="71.2" y2="378.5" stroke="#8a8a8a" stroke-width="0.8"/>
<text x="71.2" y="264.4" font-size="9.2" text-anchor="middle">ns</text>
<line x1="62.9" y1="268" x2="79.5" y2="268" stroke="#b8b8b8" stroke-width="1"/>
<line x1="111.1" y1="375.3" x2="111.1" y2="378.5" stroke="#8a8a8a" stroke-width="0.8"/>
<text x="111.1" y="264.4" font-size="9.2" text-anchor="middle">ns</text>
<line x1="102.8" y1="268" x2="119.4" y2="268" stroke="#b8b8b8" stroke-width="1"/>
<line x1="151.1" y1="375.3" x2="151.1" y2="378.5" stroke="#8a8a8a" stroke-width="0.8"/>
<text x="151.1" y="264.4" font-size="9.2" text-anchor="middle">ns</text>
<line x1="142.8" y1="268" x2="159.4" y2="268" stroke="#b8b8b8" stroke-width="1"/>
<line x1="191" y1="375.3" x2="191" y2="378.5" stroke="#8a8a8a" stroke-width="0.8"/>
<text x="191" y="264.4" font-size="9.2" text-anchor="middle">ns</text>
<line x1="182.7" y1="268" x2="199.3" y2="268" stroke="#b8b8b8" stroke-width="1"/>
<rect x="58.3" y="370.2" width="10.6" height="5.1" fill="white" stroke="#6f6f6f" stroke-width="0.6"/>
<rect x="73.2" y="370" width="10.6" height="5.3" fill="#bcbdc0" stroke="#6f6f6f" stroke-width="0.6"/>
<rect x="98.6" y="295.3" width="10.1" height="80" fill="white" stroke="#6f6f6f" stroke-width="0.6"/>
<rect x="113.3" y="289.2" width="10.5" height="86.1" fill="#bcbdc0" stroke="#6f6f6f" stroke-width="0.6"/>
<rect x="138.3" y="314.4" width="10.5" height="60.9" fill="white" stroke="#6f6f6f" stroke-width="0.6"/>
<rect x="153.1" y="318.2" width="10.8" height="57.1" fill="#bcbdc0" stroke="#6f6f6f" stroke-width="0.6"/>
<rect x="178.2" y="367.3" width="10.6" height="8" fill="white" stroke="#6f6f6f" stroke-width="0.6"/>
<rect x="193.2" y="367.9" width="11" height="7.4" fill="#bcbdc0" stroke="#6f6f6f" stroke-width="0.6"/>
<line x1="103.6" y1="283.2" x2="103.6" y2="295.3" stroke="#666" stroke-width="0.6"/>
<line x1="101.2" y1="283.2" x2="106" y2="283.2" stroke="#666" stroke-width="0.6"/>
<line x1="118.5" y1="286.8" x2="118.5" y2="289.2" stroke="#666" stroke-width="0.6"/>
<line x1="116.1" y1="286.8" x2="120.9" y2="286.8" stroke="#666" stroke-width="0.6"/>
<line x1="143.5" y1="303" x2="143.5" y2="314.4" stroke="#666" stroke-width="0.6"/>
<line x1="141.1" y1="303" x2="145.9" y2="303" stroke="#666" stroke-width="0.6"/>
<line x1="158.5" y1="313.2" x2="158.5" y2="318.2" stroke="#666" stroke-width="0.6"/>
<line x1="156.1" y1="313.2" x2="160.9" y2="313.2" stroke="#666" stroke-width="0.6"/>
<line x1="183.5" y1="361.8" x2="183.5" y2="367.3" stroke="#666" stroke-width="0.6"/>
<line x1="181.1" y1="361.8" x2="185.9" y2="361.8" stroke="#666" stroke-width="0.6"/>
<line x1="198.6" y1="365.2" x2="198.6" y2="367.9" stroke="#666" stroke-width="0.6"/>
<line x1="195" y1="365.2" x2="202.2" y2="365.2" stroke="#666" stroke-width="0.6"/>
<circle cx="103.6" cy="278.1" r="2.1" fill="none" stroke="#4d4d4d" stroke-width="0.55"/>
<circle cx="101.1" cy="292.4" r="2.1" fill="none" stroke="#4d4d4d" stroke-width="0.55"/>
<circle cx="106" cy="292.4" r="2.1" fill="none" stroke="#4d4d4d" stroke-width="0.55"/>
<circle cx="103.6" cy="300.9" r="2.1" fill="none" stroke="#4d4d4d" stroke-width="0.55"/>
<circle cx="103.6" cy="310.2" r="2.1" fill="none" stroke="#4d4d4d" stroke-width="0.55"/>
<circle cx="118.5" cy="284.4" r="2.1" fill="none" stroke="#4d4d4d" stroke-width="0.55"/>
<circle cx="116.4" cy="289.5" r="2.1" fill="none" stroke="#4d4d4d" stroke-width="0.55"/>
<circle cx="120.7" cy="289.5" r="2.1" fill="none" stroke="#4d4d4d" stroke-width="0.55"/>
<circle cx="118.5" cy="290.6" r="2.1" fill="none" stroke="#4d4d4d" stroke-width="0.55"/>
<circle cx="117.6" cy="287.8" r="2.1" fill="none" stroke="#4d4d4d" stroke-width="0.55"/>
<circle cx="141.4" cy="304.1" r="2.1" fill="none" stroke="#4d4d4d" stroke-width="0.55"/>
<circle cx="146" cy="303.4" r="2.1" fill="none" stroke="#4d4d4d" stroke-width="0.55"/>
<circle cx="143.5" cy="317.6" r="2.1" fill="none" stroke="#4d4d4d" stroke-width="0.55"/>
<circle cx="145.6" cy="321" r="2.1" fill="none" stroke="#4d4d4d" stroke-width="0.55"/>
<circle cx="141.4" cy="324.6" r="2.1" fill="none" stroke="#4d4d4d" stroke-width="0.55"/>
<circle cx="156.6" cy="312.5" r="2.1" fill="none" stroke="#4d4d4d" stroke-width="0.55"/>
<circle cx="160.8" cy="313.6" r="2.1" fill="none" stroke="#4d4d4d" stroke-width="0.55"/>
<circle cx="156" cy="319.3" r="2.1" fill="none" stroke="#4d4d4d" stroke-width="0.55"/>
<circle cx="160.8" cy="319.9" r="2.1" fill="none" stroke="#4d4d4d" stroke-width="0.55"/>
<circle cx="158.7" cy="322.5" r="2.1" fill="none" stroke="#4d4d4d" stroke-width="0.55"/>
<circle cx="183.5" cy="362.2" r="2.1" fill="none" stroke="#4d4d4d" stroke-width="0.55"/>
<circle cx="181.4" cy="366.5" r="2.1" fill="none" stroke="#4d4d4d" stroke-width="0.55"/>
<circle cx="185.6" cy="366.5" r="2.1" fill="none" stroke="#4d4d4d" stroke-width="0.55"/>
<circle cx="182.4" cy="370" r="2.1" fill="none" stroke="#4d4d4d" stroke-width="0.55"/>
<circle cx="184.6" cy="368.4" r="2.1" fill="none" stroke="#4d4d4d" stroke-width="0.55"/>
<circle cx="195.9" cy="373.2" r="2.1" fill="none" stroke="#4d4d4d" stroke-width="0.55"/>
<circle cx="201" cy="373.2" r="2.1" fill="none" stroke="#4d4d4d" stroke-width="0.55"/>
<circle cx="198.4" cy="376.4" r="2.1" fill="none" stroke="#4d4d4d" stroke-width="0.55"/>
<circle cx="198.4" cy="372.4" r="2.1" fill="none" stroke="#4d4d4d" stroke-width="0.55"/>
<circle cx="61" cy="369.3" r="2.1" fill="none" stroke="#4d4d4d" stroke-width="0.55"/>
<circle cx="66.2" cy="369.3" r="2.1" fill="none" stroke="#4d4d4d" stroke-width="0.55"/>
<circle cx="63.6" cy="371.6" r="2.1" fill="none" stroke="#4d4d4d" stroke-width="0.55"/>
<circle cx="62.4" cy="371" r="2.1" fill="none" stroke="#4d4d4d" stroke-width="0.55"/>
<circle cx="64.9" cy="371.2" r="2.1" fill="none" stroke="#4d4d4d" stroke-width="0.55"/>
<circle cx="76" cy="368.9" r="2.1" fill="none" stroke="#4d4d4d" stroke-width="0.55"/>
<circle cx="81.2" cy="369.6" r="2.1" fill="none" stroke="#4d4d4d" stroke-width="0.55"/>
<circle cx="78.6" cy="371.2" r="2.1" fill="none" stroke="#4d4d4d" stroke-width="0.55"/>
<circle cx="77.4" cy="370.6" r="2.1" fill="none" stroke="#4d4d4d" stroke-width="0.55"/>
<circle cx="79.9" cy="371" r="2.1" fill="none" stroke="#4d4d4d" stroke-width="0.55"/>
<text x="71.4" y="384.4" font-size="10.8" text-anchor="end" transform="rotate(-45 71.4 384.4)">CD69</text>
<text x="102.7" y="389.9" font-size="10.8" text-anchor="end" transform="rotate(-45 102.7 389.9)">CD44<tspan dy="-3.8" font-size="7.6">&#8722;</tspan></text>
<text x="114.2" y="396.1" font-size="10.8" text-anchor="end" transform="rotate(-45 114.2 396.1)">CD62L<tspan dy="-3.8" font-size="7.6">+</tspan></text>
<text x="144.3" y="390.1" font-size="10.8" text-anchor="end" transform="rotate(-45 144.3 390.1)">CD44<tspan dy="-3.8" font-size="7.6">+</tspan></text>
<text x="155.9" y="396.3" font-size="10.8" text-anchor="end" transform="rotate(-45 155.9 396.3)">CD62L<tspan dy="-3.8" font-size="7.6">+</tspan></text>
<text x="186.6" y="390.1" font-size="10.8" text-anchor="end" transform="rotate(-45 186.6 390.1)">CD44<tspan dy="-3.8" font-size="7.6">+</tspan></text>
<text x="197.6" y="396.6" font-size="10.8" text-anchor="end" transform="rotate(-45 197.6 396.6)">CD62L<tspan dy="-3.8" font-size="7.6">&#8722;</tspan></text>
<text x="235.6" y="222.8" font-size="13" font-weight="bold" fill="#111">e</text>
<text x="301.9" y="230.4" font-size="9.5" text-anchor="middle">Control</text>
<text x="301.4" y="241.6" font-size="9.5" text-anchor="middle">sgRNA-1</text>
<text x="370" y="230.4" font-size="9.5" text-anchor="middle" font-style="italic">Pdcd1</text>
<text x="369.6" y="241.6" font-size="9.5" text-anchor="middle">sgRNA-3</text>
<text x="249.4" y="286.9" font-size="9.5" text-anchor="middle">CD4<tspan dy="-3.4" font-size="6.5">+</tspan></text>
<text x="249.4" y="299.2" font-size="9.5" text-anchor="middle">Vex<tspan dy="-3.4" font-size="6.5">+</tspan></text>
<text x="249.4" y="379.1" font-size="9.5" text-anchor="middle">CD8<tspan dy="-3.4" font-size="6.5">+</tspan></text>
<text x="249.4" y="390.5" font-size="9.5" text-anchor="middle">Vex<tspan dy="-3.4" font-size="6.5">+</tspan></text>
<path d="M280.4,329.98 L280.8,329.94 L281.2,329.81 L281.6,329.44 L282,328.5 L282.4,326.44 L282.8,322.42 L283.2,315.58 L283.6,305.43 L284,292.53 L284.4,278.89 L284.8,267.6 L285.2,261.83 L285.6,262.98 L286,269.7 L286.4,280.31 L286.8,292.49 L287.2,304.07 L287.6,313.58 L288,320.48 L288.4,324.94 L288.8,327.54 L289.2,328.9 L289.6,329.55 L290,329.83 L290.4,329.94" fill="white" stroke="#555" stroke-width="0.55" stroke-dasharray="0.9 0.7"/>
<path d="M304.24,330.07 L305.88,329.3 L307.38,328.54 L308.83,326.91 L310.05,325.28 L310.71,323.65 L311.27,322.02 L311.53,320.39 L312.05,318.75 L312.81,317.01 L312.87,315.27 L313.2,313.53 L313.93,311.79 L314.02,310.05 L314.42,308.24 L314.46,306.43 L314.75,304.61 L314.73,302.8 L315.19,300.99 L315.52,299.18 L315.46,297.54 L315.68,295.91 L315.75,294.28 L315.55,292.65 L316.01,291.02 L316.04,289.39 L316,287.76 L315.97,286.12 L316.54,284.31 L316.48,282.5 L316.75,280.69 L316.98,278.87 L317.04,277.06 L317.29,275.25 L317.9,272.42 L318.39,270.39 L318.5,268.36 L319.04,266.33 L319.3,264.37 L319.2,262.41 L319.51,260.46 L320.42,259.8 L321.12,261.98 L321.18,264.15 L321.49,265.97 L321.55,267.78 L321.87,269.59 L321.95,271.22 L322.08,272.85 L322.34,274.49 L322.49,276.12 L322.79,277.75 L322.82,279.38 L323.08,281.01 L323.18,282.64 L323.39,284.28 L323.36,285.91 L323.25,287.54 L323.73,289.17 L323.92,290.8 L324.02,292.43 L323.98,294.12 L324.17,295.82 L324.04,297.51 L324.47,299.2 L324.46,300.89 L324.44,302.58 L324.45,304.28 L324.97,305.97 L325.15,307.66 L324.88,309.47 L325.42,311.29 L325.41,313.1 L325.46,314.91 L325.71,316.72 L326.13,318.54 L326.46,320.44 L326.31,322.34 L326.87,324.25 L326.86,326.15 L328.06,327.78 L328.82,329.41 L330.35,330.07Z" fill="#b7b8bc" stroke="#4a4a4a" stroke-width="0.5" stroke-linejoin="round"/>
<path d="M349.6,329.85 L350,329.52 L350.4,328.65 L350.8,326.64 L351.2,322.57 L351.6,315.44 L352,304.72 L352.4,291.11 L352.8,277 L353.2,265.99 L353.6,261.51 L354,263.62 L354.4,270.09 L354.8,279.63 L355.2,290.57 L355.6,301.24 L356,310.47 L356.4,317.65 L356.8,322.72 L357.2,326.01 L357.6,327.96 L358,329.03 L358.4,329.57" fill="white" stroke="#555" stroke-width="0.55" stroke-dasharray="0.9 0.7"/>
<path d="M350.58,330.07 L351.53,328.33 L351.76,326.51 L352.19,324.7 L352.36,322.89 L352.39,321.2 L352.63,319.5 L352.96,317.81 L352.98,316.12 L353.03,314.43 L352.83,312.74 L353.06,311.04 L353,309.35 L353.02,307.66 L353.06,305.99 L353.18,304.31 L353.6,302.64 L353.62,300.97 L353.68,299.29 L353.74,297.62 L353.5,295.95 L353.63,294.27 L353.85,292.6 L353.97,290.93 L354.1,289.25 L354.18,287.58 L353.85,285.91 L354.21,284.21 L354.34,282.52 L354.35,280.83 L354.28,279.14 L354.53,277.45 L354.43,275.76 L354.95,274.06 L355.01,272.37 L354.95,270.68 L355.16,268.78 L355.79,266.87 L355.94,264.97 L356.43,263.07 L357.06,261.43 L357.54,259.8 L358.04,261.43 L358.68,263.07 L358.75,264.77 L358.77,266.48 L359,268.19 L359.4,269.9 L359.18,271.61 L359.33,273.32 L359.78,275.03 L359.8,276.66 L360.11,278.29 L360.27,279.92 L360.4,281.56 L360.91,283.19 L360.7,284.82 L361,286.45 L361.09,288.08 L361.52,289.71 L361.56,291.34 L361.82,292.98 L362.23,294.61 L362.24,296.24 L362.57,297.87 L362.96,299.5 L362.78,301.13 L363.01,302.95 L363.35,304.76 L363.87,306.57 L364.05,308.39 L364.12,310.2 L364.42,312.01 L364.77,313.91 L365.35,315.82 L365.58,317.72 L366.34,319.62 L367.16,321.29 L367.92,322.96 L368.53,324.63 L370.28,326.15 L371.44,327.67 L373.75,328.54 L376.03,329.41 L378.2,329.74 L380.38,330.07Z" fill="#b7b8bc" stroke="#4a4a4a" stroke-width="0.5" stroke-linejoin="round"/>
<path d="M281,421.48 L281.4,421.43 L281.8,421.3 L282.2,420.97 L282.6,420.21 L283,418.66 L283.4,415.76 L283.8,410.87 L284.2,403.47 L284.6,393.5 L285,381.67 L285.4,369.6 L285.8,359.56 L286.2,353.79 L286.6,353.5 L287,357.56 L287.4,365.02 L287.8,374.64 L288.2,384.97 L288.6,394.75 L289,403.1 L289.4,409.61 L289.8,414.28 L290.2,417.38 L290.6,419.29 L291,420.39 L291.4,420.98 L291.8,421.27 L292.2,421.4 L292.6,421.46" fill="white" stroke="#555" stroke-width="0.55" stroke-dasharray="0.9 0.7"/>
<path d="M286.84,421.67 L289.02,421.34 L291.27,421.01 L292.97,420.47 L294.63,419.93 L296.35,418.84 L297.86,417.75 L299.39,416.12 L300.26,414.49 L301.4,413.04 L302.55,411.59 L303.25,410.14 L303.94,408.51 L304.01,406.87 L304.77,405.24 L305.18,403.61 L305.9,401.98 L306.46,400.35 L306.67,398.72 L307.34,397.08 L307.72,395.34 L308.45,393.6 L308.71,391.86 L308.69,390.12 L309.43,388.38 L309.28,386.57 L309.82,384.76 L309.78,382.94 L309.96,381.13 L310.74,379.32 L310.6,377.51 L310.85,375.69 L311.57,373.88 L311.75,372.07 L311.66,370.26 L312.32,368.44 L312.32,366.63 L313.05,365 L313.42,363.37 L314.95,365.76 L315.34,364.02 L316.05,362.28 L316.55,364.45 L316.74,366.63 L316.99,368.37 L317.1,370.11 L317.3,371.85 L317.47,373.59 L317.83,375.33 L318.23,377.14 L318.09,378.96 L318.71,380.77 L318.72,382.58 L318.92,384.4 L319.44,386.21 L320.55,387.3 L320.63,388.93 L320.91,390.56 L321.23,392.19 L321.02,393.82 L321.75,395.45 L321.36,397.08 L321.98,398.9 L322.22,400.71 L321.9,402.52 L322.54,404.34 L322.47,406.15 L322.78,407.96 L322.66,409.7 L322.9,411.44 L323.2,413.18 L323.88,414.92 L323.64,416.66 L324.85,418.62 L325.56,420.58 L328.17,421.67Z" fill="#b7b8bc" stroke="#4a4a4a" stroke-width="0.5" stroke-linejoin="round"/>
<path d="M350.2,421.45 L350.6,421.33 L351,421.01 L351.4,420.23 L351.8,418.51 L352.2,415.18 L352.6,409.42 L353,400.67 L353.4,389.08 L353.8,375.94 L354.2,363.71 L354.6,355.33 L355,353.07 L355.4,355.91 L355.8,362.44 L356.2,371.54 L356.6,381.8 L357,391.86 L357.4,400.72 L357.8,407.81 L358.2,413.03 L358.6,416.57 L359,418.81 L359.4,420.12 L359.8,420.83 L360.2,421.2" fill="white" stroke="#555" stroke-width="0.55" stroke-dasharray="0.9 0.7"/>
<path d="M349.93,421.67 L351.6,419.93 L351.97,418.11 L352.17,416.3 L352.42,414.49 L352.39,412.67 L352.83,410.86 L352.85,409.05 L353.1,407.24 L353.02,405.42 L353.32,403.61 L353.17,401.92 L353.53,400.23 L353.59,398.53 L353.53,396.84 L353.69,395.15 L353.86,393.46 L353.71,391.77 L353.99,390.08 L354.21,388.38 L354.03,386.64 L354.38,384.9 L354.41,383.16 L354.58,381.42 L354.41,379.68 L354.38,377.94 L354.82,376.2 L354.91,374.46 L354.81,372.72 L354.73,370.98 L354.95,369.24 L355.34,367.5 L355.35,365.76 L355.85,364.02 L355.84,362.28 L356.52,359.23 L357.62,356.84 L357.69,358.65 L358.19,360.47 L358.4,362.28 L358.34,364.09 L358.55,365.9 L358.73,367.72 L358.92,369.53 L359.16,371.34 L358.83,373.16 L359.17,374.97 L359.48,376.78 L359.51,378.59 L359.83,380.41 L359.76,382.22 L360.34,384.03 L360.42,385.77 L360.48,387.51 L361.01,389.25 L361.1,390.99 L361.3,392.73 L361.75,394.47 L361.88,396.21 L362.22,397.95 L362.86,399.7 L363.08,401.44 L363.01,403.34 L363.66,405.24 L363.55,407.15 L363.98,409.05 L364.92,411.22 L365.43,413.4 L366.58,414.49 L367.27,416.12 L367.93,417.75 L369.1,419.16 L370.59,420.58 L372.77,421.12 L374.94,421.67Z" fill="#b7b8bc" stroke="#4a4a4a" stroke-width="0.5" stroke-linejoin="round"/>
<rect x="268.9" y="246" width="66" height="84.6" fill="none" stroke="#bdbdbd" stroke-width="1"/>
<line x1="268.9" y1="330.4" x2="334.9" y2="330.4" stroke="#666" stroke-width="0.6"/>
<line x1="272.5" y1="330.6" x2="272.5" y2="332.8" stroke="#444" stroke-width="0.5"/>
<line x1="284.7" y1="330.6" x2="284.7" y2="332.8" stroke="#444" stroke-width="0.5"/>
<line x1="295.3" y1="330.6" x2="295.3" y2="332.8" stroke="#444" stroke-width="0.5"/>
<line x1="312.5" y1="330.6" x2="312.5" y2="332.8" stroke="#444" stroke-width="0.5"/>
<line x1="328.3" y1="330.6" x2="328.3" y2="332.8" stroke="#444" stroke-width="0.5"/>
<line x1="300.48" y1="330.6" x2="300.48" y2="331.7" stroke="#444" stroke-width="0.5"/>
<line x1="303.51" y1="330.6" x2="303.51" y2="331.7" stroke="#444" stroke-width="0.5"/>
<line x1="305.66" y1="330.6" x2="305.66" y2="331.7" stroke="#444" stroke-width="0.5"/>
<line x1="307.32" y1="330.6" x2="307.32" y2="331.7" stroke="#444" stroke-width="0.5"/>
<line x1="308.68" y1="330.6" x2="308.68" y2="331.7" stroke="#444" stroke-width="0.5"/>
<line x1="309.84" y1="330.6" x2="309.84" y2="331.7" stroke="#444" stroke-width="0.5"/>
<line x1="310.83" y1="330.6" x2="310.83" y2="331.7" stroke="#444" stroke-width="0.5"/>
<line x1="311.71" y1="330.6" x2="311.71" y2="331.7" stroke="#444" stroke-width="0.5"/>
<line x1="317.26" y1="330.6" x2="317.26" y2="331.7" stroke="#444" stroke-width="0.5"/>
<line x1="320.04" y1="330.6" x2="320.04" y2="331.7" stroke="#444" stroke-width="0.5"/>
<line x1="322.01" y1="330.6" x2="322.01" y2="331.7" stroke="#444" stroke-width="0.5"/>
<line x1="323.54" y1="330.6" x2="323.54" y2="331.7" stroke="#444" stroke-width="0.5"/>
<line x1="324.79" y1="330.6" x2="324.79" y2="331.7" stroke="#444" stroke-width="0.5"/>
<line x1="325.85" y1="330.6" x2="325.85" y2="331.7" stroke="#444" stroke-width="0.5"/>
<line x1="326.77" y1="330.6" x2="326.77" y2="331.7" stroke="#444" stroke-width="0.5"/>
<line x1="327.58" y1="330.6" x2="327.58" y2="331.7" stroke="#444" stroke-width="0.5"/>
<line x1="276.4" y1="330.6" x2="276.4" y2="331.7" stroke="#444" stroke-width="0.5"/>
<line x1="278.9" y1="330.6" x2="278.9" y2="331.7" stroke="#444" stroke-width="0.5"/>
<line x1="280.9" y1="330.6" x2="280.9" y2="331.7" stroke="#444" stroke-width="0.5"/>
<line x1="287.9" y1="330.6" x2="287.9" y2="331.7" stroke="#444" stroke-width="0.5"/>
<line x1="290.4" y1="330.6" x2="290.4" y2="331.7" stroke="#444" stroke-width="0.5"/>
<line x1="292.4" y1="330.6" x2="292.4" y2="331.7" stroke="#444" stroke-width="0.5"/>
<line x1="268.9" y1="313" x2="267.4" y2="313" stroke="#444" stroke-width="0.5"/>
<line x1="268.9" y1="295.4" x2="267.4" y2="295.4" stroke="#444" stroke-width="0.5"/>
<line x1="268.9" y1="277.8" x2="267.4" y2="277.8" stroke="#444" stroke-width="0.5"/>
<line x1="268.9" y1="260.2" x2="267.4" y2="260.2" stroke="#444" stroke-width="0.5"/>
<rect x="283.6" y="330.4" width="2.2" height="1.6" fill="#111"/>
<rect x="337.6" y="246" width="65.5" height="84.6" fill="none" stroke="#bdbdbd" stroke-width="1"/>
<line x1="337.6" y1="330.4" x2="403.1" y2="330.4" stroke="#666" stroke-width="0.6"/>
<line x1="341.2" y1="330.6" x2="341.2" y2="332.8" stroke="#444" stroke-width="0.5"/>
<line x1="353.4" y1="330.6" x2="353.4" y2="332.8" stroke="#444" stroke-width="0.5"/>
<line x1="364" y1="330.6" x2="364" y2="332.8" stroke="#444" stroke-width="0.5"/>
<line x1="381.2" y1="330.6" x2="381.2" y2="332.8" stroke="#444" stroke-width="0.5"/>
<line x1="397" y1="330.6" x2="397" y2="332.8" stroke="#444" stroke-width="0.5"/>
<line x1="369.18" y1="330.6" x2="369.18" y2="331.7" stroke="#444" stroke-width="0.5"/>
<line x1="372.21" y1="330.6" x2="372.21" y2="331.7" stroke="#444" stroke-width="0.5"/>
<line x1="374.36" y1="330.6" x2="374.36" y2="331.7" stroke="#444" stroke-width="0.5"/>
<line x1="376.02" y1="330.6" x2="376.02" y2="331.7" stroke="#444" stroke-width="0.5"/>
<line x1="377.38" y1="330.6" x2="377.38" y2="331.7" stroke="#444" stroke-width="0.5"/>
<line x1="378.54" y1="330.6" x2="378.54" y2="331.7" stroke="#444" stroke-width="0.5"/>
<line x1="379.53" y1="330.6" x2="379.53" y2="331.7" stroke="#444" stroke-width="0.5"/>
<line x1="380.41" y1="330.6" x2="380.41" y2="331.7" stroke="#444" stroke-width="0.5"/>
<line x1="385.96" y1="330.6" x2="385.96" y2="331.7" stroke="#444" stroke-width="0.5"/>
<line x1="388.74" y1="330.6" x2="388.74" y2="331.7" stroke="#444" stroke-width="0.5"/>
<line x1="390.71" y1="330.6" x2="390.71" y2="331.7" stroke="#444" stroke-width="0.5"/>
<line x1="392.24" y1="330.6" x2="392.24" y2="331.7" stroke="#444" stroke-width="0.5"/>
<line x1="393.49" y1="330.6" x2="393.49" y2="331.7" stroke="#444" stroke-width="0.5"/>
<line x1="394.55" y1="330.6" x2="394.55" y2="331.7" stroke="#444" stroke-width="0.5"/>
<line x1="395.47" y1="330.6" x2="395.47" y2="331.7" stroke="#444" stroke-width="0.5"/>
<line x1="396.28" y1="330.6" x2="396.28" y2="331.7" stroke="#444" stroke-width="0.5"/>
<line x1="345.1" y1="330.6" x2="345.1" y2="331.7" stroke="#444" stroke-width="0.5"/>
<line x1="347.6" y1="330.6" x2="347.6" y2="331.7" stroke="#444" stroke-width="0.5"/>
<line x1="349.6" y1="330.6" x2="349.6" y2="331.7" stroke="#444" stroke-width="0.5"/>
<line x1="356.6" y1="330.6" x2="356.6" y2="331.7" stroke="#444" stroke-width="0.5"/>
<line x1="359.1" y1="330.6" x2="359.1" y2="331.7" stroke="#444" stroke-width="0.5"/>
<line x1="361.1" y1="330.6" x2="361.1" y2="331.7" stroke="#444" stroke-width="0.5"/>
<line x1="337.6" y1="313" x2="336.1" y2="313" stroke="#444" stroke-width="0.5"/>
<line x1="337.6" y1="295.4" x2="336.1" y2="295.4" stroke="#444" stroke-width="0.5"/>
<line x1="337.6" y1="277.8" x2="336.1" y2="277.8" stroke="#444" stroke-width="0.5"/>
<line x1="337.6" y1="260.2" x2="336.1" y2="260.2" stroke="#444" stroke-width="0.5"/>
<rect x="352.3" y="330.4" width="2.2" height="1.6" fill="#111"/>
<rect x="268.9" y="337.9" width="66" height="83.8" fill="none" stroke="#bdbdbd" stroke-width="1"/>
<line x1="268.9" y1="421.5" x2="334.9" y2="421.5" stroke="#666" stroke-width="0.6"/>
<line x1="272.5" y1="421.7" x2="272.5" y2="423.9" stroke="#444" stroke-width="0.5"/>
<line x1="284.7" y1="421.7" x2="284.7" y2="423.9" stroke="#444" stroke-width="0.5"/>
<line x1="295.3" y1="421.7" x2="295.3" y2="423.9" stroke="#444" stroke-width="0.5"/>
<line x1="312.5" y1="421.7" x2="312.5" y2="423.9" stroke="#444" stroke-width="0.5"/>
<line x1="328.3" y1="421.7" x2="328.3" y2="423.9" stroke="#444" stroke-width="0.5"/>
<line x1="300.48" y1="421.7" x2="300.48" y2="422.8" stroke="#444" stroke-width="0.5"/>
<line x1="303.51" y1="421.7" x2="303.51" y2="422.8" stroke="#444" stroke-width="0.5"/>
<line x1="305.66" y1="421.7" x2="305.66" y2="422.8" stroke="#444" stroke-width="0.5"/>
<line x1="307.32" y1="421.7" x2="307.32" y2="422.8" stroke="#444" stroke-width="0.5"/>
<line x1="308.68" y1="421.7" x2="308.68" y2="422.8" stroke="#444" stroke-width="0.5"/>
<line x1="309.84" y1="421.7" x2="309.84" y2="422.8" stroke="#444" stroke-width="0.5"/>
<line x1="310.83" y1="421.7" x2="310.83" y2="422.8" stroke="#444" stroke-width="0.5"/>
<line x1="311.71" y1="421.7" x2="311.71" y2="422.8" stroke="#444" stroke-width="0.5"/>
<line x1="317.26" y1="421.7" x2="317.26" y2="422.8" stroke="#444" stroke-width="0.5"/>
<line x1="320.04" y1="421.7" x2="320.04" y2="422.8" stroke="#444" stroke-width="0.5"/>
<line x1="322.01" y1="421.7" x2="322.01" y2="422.8" stroke="#444" stroke-width="0.5"/>
<line x1="323.54" y1="421.7" x2="323.54" y2="422.8" stroke="#444" stroke-width="0.5"/>
<line x1="324.79" y1="421.7" x2="324.79" y2="422.8" stroke="#444" stroke-width="0.5"/>
<line x1="325.85" y1="421.7" x2="325.85" y2="422.8" stroke="#444" stroke-width="0.5"/>
<line x1="326.77" y1="421.7" x2="326.77" y2="422.8" stroke="#444" stroke-width="0.5"/>
<line x1="327.58" y1="421.7" x2="327.58" y2="422.8" stroke="#444" stroke-width="0.5"/>
<line x1="276.4" y1="421.7" x2="276.4" y2="422.8" stroke="#444" stroke-width="0.5"/>
<line x1="278.9" y1="421.7" x2="278.9" y2="422.8" stroke="#444" stroke-width="0.5"/>
<line x1="280.9" y1="421.7" x2="280.9" y2="422.8" stroke="#444" stroke-width="0.5"/>
<line x1="287.9" y1="421.7" x2="287.9" y2="422.8" stroke="#444" stroke-width="0.5"/>
<line x1="290.4" y1="421.7" x2="290.4" y2="422.8" stroke="#444" stroke-width="0.5"/>
<line x1="292.4" y1="421.7" x2="292.4" y2="422.8" stroke="#444" stroke-width="0.5"/>
<line x1="268.9" y1="404.1" x2="267.4" y2="404.1" stroke="#444" stroke-width="0.5"/>
<line x1="268.9" y1="386.5" x2="267.4" y2="386.5" stroke="#444" stroke-width="0.5"/>
<line x1="268.9" y1="368.9" x2="267.4" y2="368.9" stroke="#444" stroke-width="0.5"/>
<line x1="268.9" y1="351.3" x2="267.4" y2="351.3" stroke="#444" stroke-width="0.5"/>
<rect x="283.6" y="421.5" width="2.2" height="1.6" fill="#111"/>
<rect x="337.6" y="337.9" width="65.5" height="83.8" fill="none" stroke="#bdbdbd" stroke-width="1"/>
<line x1="337.6" y1="421.5" x2="403.1" y2="421.5" stroke="#666" stroke-width="0.6"/>
<line x1="341.2" y1="421.7" x2="341.2" y2="423.9" stroke="#444" stroke-width="0.5"/>
<line x1="353.4" y1="421.7" x2="353.4" y2="423.9" stroke="#444" stroke-width="0.5"/>
<line x1="364" y1="421.7" x2="364" y2="423.9" stroke="#444" stroke-width="0.5"/>
<line x1="381.2" y1="421.7" x2="381.2" y2="423.9" stroke="#444" stroke-width="0.5"/>
<line x1="397" y1="421.7" x2="397" y2="423.9" stroke="#444" stroke-width="0.5"/>
<line x1="369.18" y1="421.7" x2="369.18" y2="422.8" stroke="#444" stroke-width="0.5"/>
<line x1="372.21" y1="421.7" x2="372.21" y2="422.8" stroke="#444" stroke-width="0.5"/>
<line x1="374.36" y1="421.7" x2="374.36" y2="422.8" stroke="#444" stroke-width="0.5"/>
<line x1="376.02" y1="421.7" x2="376.02" y2="422.8" stroke="#444" stroke-width="0.5"/>
<line x1="377.38" y1="421.7" x2="377.38" y2="422.8" stroke="#444" stroke-width="0.5"/>
<line x1="378.54" y1="421.7" x2="378.54" y2="422.8" stroke="#444" stroke-width="0.5"/>
<line x1="379.53" y1="421.7" x2="379.53" y2="422.8" stroke="#444" stroke-width="0.5"/>
<line x1="380.41" y1="421.7" x2="380.41" y2="422.8" stroke="#444" stroke-width="0.5"/>
<line x1="385.96" y1="421.7" x2="385.96" y2="422.8" stroke="#444" stroke-width="0.5"/>
<line x1="388.74" y1="421.7" x2="388.74" y2="422.8" stroke="#444" stroke-width="0.5"/>
<line x1="390.71" y1="421.7" x2="390.71" y2="422.8" stroke="#444" stroke-width="0.5"/>
<line x1="392.24" y1="421.7" x2="392.24" y2="422.8" stroke="#444" stroke-width="0.5"/>
<line x1="393.49" y1="421.7" x2="393.49" y2="422.8" stroke="#444" stroke-width="0.5"/>
<line x1="394.55" y1="421.7" x2="394.55" y2="422.8" stroke="#444" stroke-width="0.5"/>
<line x1="395.47" y1="421.7" x2="395.47" y2="422.8" stroke="#444" stroke-width="0.5"/>
<line x1="396.28" y1="421.7" x2="396.28" y2="422.8" stroke="#444" stroke-width="0.5"/>
<line x1="345.1" y1="421.7" x2="345.1" y2="422.8" stroke="#444" stroke-width="0.5"/>
<line x1="347.6" y1="421.7" x2="347.6" y2="422.8" stroke="#444" stroke-width="0.5"/>
<line x1="349.6" y1="421.7" x2="349.6" y2="422.8" stroke="#444" stroke-width="0.5"/>
<line x1="356.6" y1="421.7" x2="356.6" y2="422.8" stroke="#444" stroke-width="0.5"/>
<line x1="359.1" y1="421.7" x2="359.1" y2="422.8" stroke="#444" stroke-width="0.5"/>
<line x1="361.1" y1="421.7" x2="361.1" y2="422.8" stroke="#444" stroke-width="0.5"/>
<line x1="337.6" y1="404.1" x2="336.1" y2="404.1" stroke="#444" stroke-width="0.5"/>
<line x1="337.6" y1="386.5" x2="336.1" y2="386.5" stroke="#444" stroke-width="0.5"/>
<line x1="337.6" y1="368.9" x2="336.1" y2="368.9" stroke="#444" stroke-width="0.5"/>
<line x1="337.6" y1="351.3" x2="336.1" y2="351.3" stroke="#444" stroke-width="0.5"/>
<rect x="352.3" y="421.5" width="2.2" height="1.6" fill="#111"/>
<line x1="297.4" y1="321.3" x2="334.9" y2="321.3" stroke="#000" stroke-width="1.1" opacity="0.3"/>
<line x1="297.4" y1="319.4" x2="297.4" y2="323.2" stroke="#555" stroke-width="0.6"/>
<line x1="367.7" y1="321.3" x2="403.1" y2="321.3" stroke="#000" stroke-width="1.1" opacity="0.3"/>
<line x1="296.4" y1="412.2" x2="334.9" y2="412.2" stroke="#000" stroke-width="1.1" opacity="0.3"/>
<line x1="296.4" y1="410.3" x2="296.4" y2="414.1" stroke="#555" stroke-width="0.6"/>
<line x1="367.7" y1="412.6" x2="403.1" y2="412.6" stroke="#000" stroke-width="1.1" opacity="0.3"/>
<text x="328.4" y="256.1" font-size="7.6" text-anchor="end">100</text>
<text x="398.2" y="256.1" font-size="7.6" text-anchor="end">7.0</text>
<text x="330.6" y="347.5" font-size="7.6" text-anchor="end">98</text>
<text x="398.2" y="347.5" font-size="7.6" text-anchor="end">6.8</text>
<text x="272.4" y="434.7" font-size="8" text-anchor="middle">10<tspan dy="-3.4" font-size="5.5">&#8722;3</tspan></text>
<text x="284.8" y="434.7" font-size="8" text-anchor="middle">0</text>
<text x="295.6" y="434.7" font-size="8" text-anchor="middle">10<tspan dy="-3.52" font-size="5.44">3</tspan></text>
<text x="312.8" y="434.7" font-size="8" text-anchor="middle">10<tspan dy="-3.52" font-size="5.44">4</tspan></text>
<text x="328.6" y="434.7" font-size="8" text-anchor="middle">10<tspan dy="-3.52" font-size="5.44">5</tspan></text>
<line x1="269.5" y1="440.7" x2="322.4" y2="440.7" stroke="#231f20" stroke-width="0.6"/>
<polygon points="326.2,440.7 322.4,442.4 322.4,439" fill="#231f20"/>
<text x="296.8" y="453.4" font-size="9.6" text-anchor="middle">PD-1 PE</text>
<rect x="349.1" y="434.1" width="18" height="8.6" fill="white" stroke="#777" stroke-width="0.55" stroke-dasharray="0.9 0.7"/>
<rect x="349.1" y="446.1" width="18" height="7.3" fill="#b7b8bc" stroke="#777" stroke-width="0.55"/>
<text x="372.2" y="440.9" font-size="8.4">Isotype</text>
<text x="372.2" y="452.8" font-size="8.4">sgRNA</text>
<text x="432.4" y="223" font-size="13" font-weight="bold" fill="#111">f</text>
<text x="513.8" y="228.4" font-size="11" text-anchor="middle">CD4<tspan dy="-3.8" font-size="7.8">+</tspan><tspan dy="3.8"> Vex</tspan><tspan dy="-3.8" font-size="7.8">+</tspan></text>
<text x="595.6" y="228.4" font-size="11" text-anchor="middle">CD8<tspan dy="-3.8" font-size="7.8">+</tspan><tspan dy="3.8"> Vex</tspan><tspan dy="-3.8" font-size="7.8">+</tspan></text>
<line x1="483.2" y1="234.2" x2="547.2" y2="234.2" stroke="#999" stroke-width="0.8"/>
<line x1="563.9" y1="234.2" x2="630.9" y2="234.2" stroke="#999" stroke-width="0.8"/>
<line x1="474.7" y1="244.8" x2="474.7" y2="366.7" stroke="#ababab" stroke-width="1"/>
<line x1="473.3" y1="366.2" x2="636.4" y2="366.2" stroke="#c8c8c8" stroke-width="1"/>
<line x1="471.9" y1="366.2" x2="474.7" y2="366.2" stroke="#8a8a8a" stroke-width="0.8"/>
<text x="467.2" y="369.7" font-size="10.8" text-anchor="end">0</text>
<line x1="471.9" y1="337.27" x2="474.7" y2="337.27" stroke="#8a8a8a" stroke-width="0.8"/>
<text x="467.2" y="340.77" font-size="10.8" text-anchor="end">25</text>
<line x1="471.9" y1="308.35" x2="474.7" y2="308.35" stroke="#8a8a8a" stroke-width="0.8"/>
<text x="467.2" y="311.85" font-size="10.8" text-anchor="end">50</text>
<line x1="471.9" y1="279.42" x2="474.7" y2="279.42" stroke="#8a8a8a" stroke-width="0.8"/>
<text x="467.2" y="282.92" font-size="10.8" text-anchor="end">75</text>
<line x1="471.9" y1="250.5" x2="474.7" y2="250.5" stroke="#8a8a8a" stroke-width="0.8"/>
<text x="467.2" y="254" font-size="10.8" text-anchor="end">100</text>
<text x="441.8" y="307" font-size="10.9" text-anchor="middle" transform="rotate(-90 441.8 307)">Freq. PD-1+ (%)</text>
<rect x="479.3" y="251.1" width="10.8" height="115.1" fill="#f9f9f9" stroke="#8a8a8a" stroke-width="0.6"/>
<line x1="484.7" y1="366.2" x2="484.7" y2="369" stroke="#8a8a8a" stroke-width="0.8"/>
<rect x="493.2" y="251.1" width="10.4" height="115.1" fill="#f9f9f9" stroke="#8a8a8a" stroke-width="0.6"/>
<line x1="498.4" y1="366.2" x2="498.4" y2="369" stroke="#8a8a8a" stroke-width="0.8"/>
<rect x="508.3" y="333.2" width="10" height="33" fill="#bcbdc0" stroke="#8a8a8a" stroke-width="0.6"/>
<line x1="513.3" y1="366.2" x2="513.3" y2="369" stroke="#8a8a8a" stroke-width="0.8"/>
<rect x="523" y="332.3" width="10.3" height="33.9" fill="#bcbdc0" stroke="#8a8a8a" stroke-width="0.6"/>
<line x1="528.15" y1="366.2" x2="528.15" y2="369" stroke="#8a8a8a" stroke-width="0.8"/>
<rect x="538" y="355.4" width="9.9" height="10.8" fill="#bcbdc0" stroke="#8a8a8a" stroke-width="0.6"/>
<line x1="542.95" y1="366.2" x2="542.95" y2="369" stroke="#8a8a8a" stroke-width="0.8"/>
<rect x="562.3" y="254.1" width="10.4" height="112.1" fill="#fff" stroke="#8a8a8a" stroke-width="0.6"/>
<line x1="567.5" y1="366.2" x2="567.5" y2="369" stroke="#8a8a8a" stroke-width="0.8"/>
<rect x="577.3" y="253.3" width="10.3" height="112.9" fill="#f3f3f3" stroke="#8a8a8a" stroke-width="0.6"/>
<line x1="582.45" y1="366.2" x2="582.45" y2="369" stroke="#8a8a8a" stroke-width="0.8"/>
<rect x="591.8" y="339.4" width="10" height="26.8" fill="#bcbdc0" stroke="#8a8a8a" stroke-width="0.6"/>
<line x1="596.8" y1="366.2" x2="596.8" y2="369" stroke="#8a8a8a" stroke-width="0.8"/>
<rect x="606.5" y="343" width="10.8" height="23.2" fill="#bcbdc0" stroke="#8a8a8a" stroke-width="0.6"/>
<line x1="611.9" y1="366.2" x2="611.9" y2="369" stroke="#8a8a8a" stroke-width="0.8"/>
<rect x="621.2" y="355.4" width="9.9" height="10.8" fill="#bcbdc0" stroke="#8a8a8a" stroke-width="0.6"/>
<line x1="626.15" y1="366.2" x2="626.15" y2="369" stroke="#8a8a8a" stroke-width="0.8"/>
<line x1="513.4" y1="325.2" x2="513.4" y2="333.2" stroke="#666" stroke-width="0.6"/>
<line x1="511" y1="325.2" x2="515.8" y2="325.2" stroke="#666" stroke-width="0.6"/>
<line x1="528.2" y1="319.8" x2="528.2" y2="332.3" stroke="#666" stroke-width="0.6"/>
<line x1="525.4" y1="319.8" x2="531" y2="319.8" stroke="#666" stroke-width="0.6"/>
<line x1="543" y1="353.4" x2="543" y2="355.4" stroke="#666" stroke-width="0.6"/>
<line x1="540.6" y1="353.4" x2="545.4" y2="353.4" stroke="#666" stroke-width="0.6"/>
<line x1="596.9" y1="332.2" x2="596.9" y2="339.4" stroke="#666" stroke-width="0.6"/>
<line x1="594.1" y1="332.2" x2="599.7" y2="332.2" stroke="#666" stroke-width="0.6"/>
<line x1="611.6" y1="338.4" x2="611.6" y2="343" stroke="#666" stroke-width="0.6"/>
<line x1="609.2" y1="338.4" x2="614" y2="338.4" stroke="#666" stroke-width="0.6"/>
<line x1="626.2" y1="351.4" x2="626.2" y2="355.4" stroke="#666" stroke-width="0.6"/>
<line x1="623.8" y1="351.4" x2="628.6" y2="351.4" stroke="#666" stroke-width="0.6"/>
<circle cx="482.6" cy="250.6" r="2" fill="none" stroke="#4d4d4d" stroke-width="0.55"/>
<circle cx="485.8" cy="250.6" r="2" fill="none" stroke="#4d4d4d" stroke-width="0.55"/>
<circle cx="484.2" cy="250.9" r="2" fill="none" stroke="#4d4d4d" stroke-width="0.55"/>
<circle cx="496.6" cy="250.6" r="2" fill="none" stroke="#4d4d4d" stroke-width="0.55"/>
<circle cx="499.8" cy="250.6" r="2" fill="none" stroke="#4d4d4d" stroke-width="0.55"/>
<circle cx="498.2" cy="250.9" r="2" fill="none" stroke="#4d4d4d" stroke-width="0.55"/>
<circle cx="513.4" cy="324.3" r="2" fill="none" stroke="#4d4d4d" stroke-width="0.55"/>
<circle cx="510.9" cy="334" r="2" fill="none" stroke="#4d4d4d" stroke-width="0.55"/>
<circle cx="516.3" cy="334" r="2" fill="none" stroke="#4d4d4d" stroke-width="0.55"/>
<circle cx="513.4" cy="343" r="2" fill="none" stroke="#4d4d4d" stroke-width="0.55"/>
<circle cx="526" cy="325.8" r="2" fill="none" stroke="#4d4d4d" stroke-width="0.55"/>
<circle cx="530.6" cy="325.8" r="2" fill="none" stroke="#4d4d4d" stroke-width="0.55"/>
<circle cx="528.1" cy="349.4" r="2" fill="none" stroke="#4d4d4d" stroke-width="0.55"/>
<circle cx="540.4" cy="355.5" r="2" fill="none" stroke="#4d4d4d" stroke-width="0.55"/>
<circle cx="543.2" cy="354.3" r="2" fill="none" stroke="#4d4d4d" stroke-width="0.55"/>
<circle cx="546" cy="355.5" r="2" fill="none" stroke="#4d4d4d" stroke-width="0.55"/>
<circle cx="564.6" cy="254.8" r="2" fill="none" stroke="#4d4d4d" stroke-width="0.55"/>
<circle cx="567.4" cy="254.2" r="2" fill="none" stroke="#4d4d4d" stroke-width="0.55"/>
<circle cx="570.2" cy="253.3" r="2" fill="none" stroke="#4d4d4d" stroke-width="0.55"/>
<circle cx="580.6" cy="253.3" r="2" fill="none" stroke="#4d4d4d" stroke-width="0.55"/>
<circle cx="583.4" cy="252.9" r="2" fill="none" stroke="#4d4d4d" stroke-width="0.55"/>
<circle cx="585.4" cy="253.2" r="2" fill="none" stroke="#4d4d4d" stroke-width="0.55"/>
<circle cx="596.9" cy="329.4" r="2" fill="none" stroke="#4d4d4d" stroke-width="0.55"/>
<circle cx="594" cy="343" r="2" fill="none" stroke="#4d4d4d" stroke-width="0.55"/>
<circle cx="599.4" cy="343" r="2" fill="none" stroke="#4d4d4d" stroke-width="0.55"/>
<circle cx="596.9" cy="344.8" r="2" fill="none" stroke="#4d4d4d" stroke-width="0.55"/>
<circle cx="595.4" cy="341.6" r="2" fill="none" stroke="#4d4d4d" stroke-width="0.55"/>
<circle cx="610.5" cy="335.8" r="2" fill="none" stroke="#4d4d4d" stroke-width="0.55"/>
<circle cx="612.3" cy="337.6" r="2" fill="none" stroke="#4d4d4d" stroke-width="0.55"/>
<circle cx="608.3" cy="343.7" r="2" fill="none" stroke="#4d4d4d" stroke-width="0.55"/>
<circle cx="613.7" cy="343.7" r="2" fill="none" stroke="#4d4d4d" stroke-width="0.55"/>
<circle cx="611.2" cy="350.1" r="2" fill="none" stroke="#4d4d4d" stroke-width="0.55"/>
<circle cx="626.2" cy="349.4" r="2" fill="none" stroke="#4d4d4d" stroke-width="0.55"/>
<circle cx="623.7" cy="356.4" r="2" fill="none" stroke="#4d4d4d" stroke-width="0.55"/>
<circle cx="628.6" cy="356.4" r="2" fill="none" stroke="#4d4d4d" stroke-width="0.55"/>
<circle cx="626.2" cy="357.3" r="2" fill="none" stroke="#4d4d4d" stroke-width="0.55"/>
<circle cx="625" cy="355" r="2" fill="none" stroke="#4d4d4d" stroke-width="0.55"/>
<text x="515" y="318.3" font-size="11.6" text-anchor="middle" letter-spacing="0.3">****</text>
<text x="538.8" y="318.3" font-size="11.6" text-anchor="middle" letter-spacing="0.3">****</text>
<text x="544.4" y="349.3" font-size="11.6" text-anchor="middle" letter-spacing="0.3">****</text>
<text x="598.2" y="323.5" font-size="11.6" text-anchor="middle" letter-spacing="0.3">****</text>
<text x="620.9" y="323.5" font-size="11.6" text-anchor="middle" letter-spacing="0.3">****</text>
<text x="628.9" y="345.3" font-size="11.6" text-anchor="middle" letter-spacing="0.3">****</text>
<text x="484.3" y="381" font-size="10.8" text-anchor="middle">1</text>
<text x="499.1" y="381" font-size="10.8" text-anchor="middle">2</text>
<text x="513.4" y="381" font-size="10.8" text-anchor="middle">1</text>
<text x="528.4" y="381" font-size="10.8" text-anchor="middle">2</text>
<text x="543.2" y="381" font-size="10.8" text-anchor="middle">3</text>
<text x="567.3" y="381" font-size="10.8" text-anchor="middle">1</text>
<text x="581.8" y="381" font-size="10.8" text-anchor="middle">2</text>
<text x="596.6" y="381" font-size="10.8" text-anchor="middle">1</text>
<text x="611.3" y="381" font-size="10.8" text-anchor="middle">2</text>
<text x="626.2" y="381" font-size="10.8" text-anchor="middle">3</text>
<rect x="447.7" y="389.6" width="16.8" height="7.1" fill="white" stroke="#888" stroke-width="0.6"/>
<text x="469.8" y="396.8" font-size="9.5">Control sgRNAs</text>
<rect x="558.3" y="389.6" width="17" height="7.1" fill="#bcbdc0" stroke="#888" stroke-width="0.6"/>
<text x="582.4" y="396.8" font-size="9.5"><tspan font-style="italic">Pdcd1</tspan> sgRNAs</text>
<text x="-0.4" y="477.3" font-size="13" font-weight="bold" fill="#111">g</text>
<text x="114.2" y="478.7" font-size="9.5" text-anchor="middle">On-target activity</text>
<line x1="65.3" y1="483.5" x2="166.4" y2="483.5" stroke="#999" stroke-width="0.8"/>
<text x="91.9" y="497.2" font-size="9.5" text-anchor="middle">CD4<tspan dy="-3.4" font-size="6.5">+</tspan></text>
<text x="91.9" y="509.1" font-size="9.5" text-anchor="middle">Vex<tspan dy="-3.4" font-size="6.5">+</tspan></text>
<text x="144.1" y="497.2" font-size="9.5" text-anchor="middle">CD8<tspan dy="-3.4" font-size="6.5">+</tspan></text>
<text x="144.1" y="509.1" font-size="9.5" text-anchor="middle">Vex<tspan dy="-3.4" font-size="6.5">+</tspan></text>
<line x1="72.9" y1="512.7" x2="111.5" y2="512.7" stroke="#999" stroke-width="0.8"/>
<line x1="124.5" y1="512.7" x2="163.1" y2="512.7" stroke="#999" stroke-width="0.8"/>
<line x1="64.4" y1="514.5" x2="64.4" y2="635.8" stroke="#d0d0d0" stroke-width="1"/>
<line x1="62.5" y1="635.3" x2="167.8" y2="635.3" stroke="#a8a8a8" stroke-width="1"/>
<line x1="61.6" y1="635.3" x2="64.4" y2="635.3" stroke="#8a8a8a" stroke-width="0.8"/>
<text x="57.6" y="638.8" font-size="10" text-anchor="end">0</text>
<line x1="61.6" y1="606.32" x2="64.4" y2="606.32" stroke="#8a8a8a" stroke-width="0.8"/>
<text x="57.6" y="609.82" font-size="10" text-anchor="end">25</text>
<line x1="61.6" y1="577.35" x2="64.4" y2="577.35" stroke="#8a8a8a" stroke-width="0.8"/>
<text x="57.6" y="580.85" font-size="10" text-anchor="end">50</text>
<line x1="61.6" y1="548.38" x2="64.4" y2="548.38" stroke="#8a8a8a" stroke-width="0.8"/>
<text x="57.6" y="551.88" font-size="10" text-anchor="end">75</text>
<line x1="61.6" y1="519.4" x2="64.4" y2="519.4" stroke="#8a8a8a" stroke-width="0.8"/>
<text x="57.6" y="522.9" font-size="10" text-anchor="end">100</text>
<text x="9.2" y="574.5" font-size="10.7" text-anchor="middle" transform="rotate(-90 9.2 574.5)">Freq. of aberrant</text>
<text x="22" y="574.5" font-size="10.7" text-anchor="middle" transform="rotate(-90 22 574.5)">sequence relative to</text>
<text x="34.8" y="574.5" font-size="10.7" text-anchor="middle" transform="rotate(-90 34.8 574.5)">control sgRNA (%)</text>
<rect x="72" y="539" width="10.4" height="96.3" fill="#bcbdc0" stroke="#777" stroke-width="0.6"/>
<rect x="86.9" y="532.4" width="10.8" height="102.9" fill="#bcbdc0" stroke="#777" stroke-width="0.6"/>
<rect x="101.4" y="539" width="10.3" height="96.3" fill="#bcbdc0" stroke="#777" stroke-width="0.6"/>
<rect x="123.7" y="540.3" width="10.3" height="95" fill="#bcbdc0" stroke="#777" stroke-width="0.6"/>
<rect x="138.1" y="528.4" width="10.9" height="106.9" fill="#bcbdc0" stroke="#777" stroke-width="0.6"/>
<rect x="153.1" y="534.3" width="10.9" height="101" fill="#bcbdc0" stroke="#777" stroke-width="0.6"/>
<line x1="77.2" y1="527.6" x2="77.2" y2="539" stroke="#666" stroke-width="0.6"/>
<line x1="74.8" y1="527.6" x2="79.6" y2="527.6" stroke="#666" stroke-width="0.6"/>
<line x1="91.9" y1="526.4" x2="91.9" y2="532.4" stroke="#666" stroke-width="0.6"/>
<line x1="89.5" y1="526.4" x2="94.3" y2="526.4" stroke="#666" stroke-width="0.6"/>
<line x1="106.6" y1="535.6" x2="106.6" y2="539" stroke="#666" stroke-width="0.6"/>
<line x1="104.2" y1="535.6" x2="109" y2="535.6" stroke="#666" stroke-width="0.6"/>
<line x1="128.8" y1="532.8" x2="128.8" y2="540.3" stroke="#666" stroke-width="0.6"/>
<line x1="126" y1="532.8" x2="131.6" y2="532.8" stroke="#666" stroke-width="0.6"/>
<line x1="143.6" y1="522.2" x2="143.6" y2="528.4" stroke="#666" stroke-width="0.6"/>
<line x1="140.8" y1="522.2" x2="146.4" y2="522.2" stroke="#666" stroke-width="0.6"/>
<line x1="158.5" y1="531.6" x2="158.5" y2="534.3" stroke="#666" stroke-width="0.6"/>
<line x1="156.1" y1="531.6" x2="160.9" y2="531.6" stroke="#666" stroke-width="0.6"/>
<circle cx="77.2" cy="527" r="2" fill="none" stroke="#4d4d4d" stroke-width="0.55"/>
<circle cx="77.2" cy="539" r="2" fill="none" stroke="#4d4d4d" stroke-width="0.55"/>
<circle cx="77.2" cy="550.6" r="2" fill="none" stroke="#4d4d4d" stroke-width="0.55"/>
<circle cx="93.8" cy="524.8" r="2" fill="none" stroke="#4d4d4d" stroke-width="0.55"/>
<circle cx="90.3" cy="528.1" r="2" fill="none" stroke="#4d4d4d" stroke-width="0.55"/>
<circle cx="91.9" cy="534.3" r="2" fill="none" stroke="#4d4d4d" stroke-width="0.55"/>
<circle cx="91.9" cy="540.6" r="2" fill="none" stroke="#4d4d4d" stroke-width="0.55"/>
<circle cx="106.6" cy="534.3" r="2" fill="none" stroke="#4d4d4d" stroke-width="0.55"/>
<circle cx="104.7" cy="539.8" r="2" fill="none" stroke="#4d4d4d" stroke-width="0.55"/>
<circle cx="108.8" cy="539.8" r="2" fill="none" stroke="#4d4d4d" stroke-width="0.55"/>
<circle cx="128.6" cy="528.1" r="2" fill="none" stroke="#4d4d4d" stroke-width="0.55"/>
<circle cx="125.6" cy="541.9" r="2" fill="none" stroke="#4d4d4d" stroke-width="0.55"/>
<circle cx="131.9" cy="544.4" r="2" fill="none" stroke="#4d4d4d" stroke-width="0.55"/>
<circle cx="128.3" cy="545.8" r="2" fill="none" stroke="#4d4d4d" stroke-width="0.55"/>
<circle cx="140.8" cy="523.5" r="2" fill="none" stroke="#4d4d4d" stroke-width="0.55"/>
<circle cx="146.3" cy="522.6" r="2" fill="none" stroke="#4d4d4d" stroke-width="0.55"/>
<circle cx="143.6" cy="521.6" r="2" fill="none" stroke="#4d4d4d" stroke-width="0.55"/>
<circle cx="143.6" cy="539" r="2" fill="none" stroke="#4d4d4d" stroke-width="0.55"/>
<circle cx="158.5" cy="530.3" r="2" fill="none" stroke="#4d4d4d" stroke-width="0.55"/>
<circle cx="156.3" cy="534.3" r="2" fill="none" stroke="#4d4d4d" stroke-width="0.55"/>
<circle cx="160.4" cy="534.3" r="2" fill="none" stroke="#4d4d4d" stroke-width="0.55"/>
<text x="76.9" y="649" font-size="10.8" text-anchor="middle">1</text>
<text x="91.9" y="649" font-size="10.8" text-anchor="middle">2</text>
<text x="106.6" y="649" font-size="10.8" text-anchor="middle">3</text>
<text x="128.3" y="649" font-size="10.8" text-anchor="middle">1</text>
<text x="143.3" y="649" font-size="10.8" text-anchor="middle">2</text>
<text x="158.2" y="649" font-size="10.8" text-anchor="middle">3</text>
<text x="117.6" y="664.8" font-size="10.8" text-anchor="middle"><tspan font-style="italic">Pdcd1</tspan> sgRNA</text>
<text x="204.2" y="477.5" font-size="13" font-weight="bold" fill="#111">h</text>
<text x="342.9" y="482.5" font-size="9.5" text-anchor="middle">Off-target activity</text>
<line x1="276.4" y1="488.6" x2="408.7" y2="488.6" stroke="#999" stroke-width="0.8"/>
<text x="339.6" y="504.3" font-size="9.5" text-anchor="middle">CD4<tspan dy="-3.4" font-size="6.5">+</tspan><tspan dy="3.4"> Vex</tspan><tspan dy="-3.4" font-size="6.5">+</tspan></text>
<line x1="276.4" y1="510.2" x2="408.7" y2="510.2" stroke="#999" stroke-width="0.8"/>
<line x1="268.6" y1="637.7" x2="411.6" y2="637.7" stroke="#cdcdcd" stroke-width="1.7"/>
<line x1="269.1" y1="515.7" x2="269.1" y2="638.2" stroke="#555" stroke-width="0.7"/>
<line x1="266.3" y1="637.6" x2="269.1" y2="637.6" stroke="#666" stroke-width="0.7"/>
<text x="263.1" y="641.1" font-size="10" text-anchor="end">0</text>
<line x1="266.3" y1="607.38" x2="269.1" y2="607.38" stroke="#666" stroke-width="0.7"/>
<text x="263.1" y="610.88" font-size="10" text-anchor="end">25</text>
<line x1="266.3" y1="577.15" x2="269.1" y2="577.15" stroke="#666" stroke-width="0.7"/>
<text x="263.1" y="580.65" font-size="10" text-anchor="end">50</text>
<line x1="266.3" y1="546.93" x2="269.1" y2="546.93" stroke="#666" stroke-width="0.7"/>
<text x="263.1" y="550.43" font-size="10" text-anchor="end">75</text>
<line x1="266.3" y1="516.7" x2="269.1" y2="516.7" stroke="#666" stroke-width="0.7"/>
<text x="263.1" y="520.2" font-size="10" text-anchor="end">100</text>
<text x="212.7" y="574" font-size="10.8" text-anchor="middle" transform="rotate(-90 212.7 574)">Freq. of aberrant</text>
<text x="225.7" y="574" font-size="10.8" text-anchor="middle" transform="rotate(-90 225.7 574)">sequence relative to</text>
<text x="238.7" y="574" font-size="10.8" text-anchor="middle" transform="rotate(-90 238.7 574)">control sgRNA (%)</text>
<rect x="275.4" y="636.34" width="10.6" height="1.26" fill="#bcbdc0" stroke="#8a8a8a" stroke-width="0.5"/>
<line x1="280.7" y1="638.4" x2="280.7" y2="640.6" stroke="#999" stroke-width="0.7"/>
<circle cx="282.22" cy="636.91" r="1.7" fill="none" stroke="#333" stroke-width="0.5"/>
<circle cx="280.53" cy="635.74" r="1.7" fill="none" stroke="#333" stroke-width="0.5"/>
<circle cx="283.04" cy="637.4" r="1.7" fill="none" stroke="#333" stroke-width="0.5"/>
<circle cx="280.8" cy="636.55" r="1.7" fill="none" stroke="#333" stroke-width="0.5"/>
<circle cx="278.5" cy="638.6" r="1.7" fill="none" stroke="#333" stroke-width="0.5"/>
<circle cx="281.9" cy="637.8" r="1.7" fill="none" stroke="#333" stroke-width="0.5"/>
<text x="281" y="651.7" font-size="8.7" text-anchor="middle">1<tspan dy="-3.1" font-size="6.1">st</tspan></text>
<rect x="290.65" y="636.22" width="10.6" height="1.38" fill="#bcbdc0" stroke="#8a8a8a" stroke-width="0.5"/>
<line x1="295.95" y1="638.4" x2="295.95" y2="640.6" stroke="#999" stroke-width="0.7"/>
<circle cx="291.98" cy="636.06" r="1.7" fill="none" stroke="#333" stroke-width="0.5"/>
<circle cx="296.63" cy="635.22" r="1.7" fill="none" stroke="#333" stroke-width="0.5"/>
<circle cx="298.3" cy="635.67" r="1.7" fill="none" stroke="#333" stroke-width="0.5"/>
<circle cx="293.81" cy="635.14" r="1.7" fill="none" stroke="#333" stroke-width="0.5"/>
<text x="296.25" y="651.7" font-size="8.7" text-anchor="middle">2<tspan dy="-3.1" font-size="6.1">nd</tspan></text>
<rect x="305.9" y="635" width="10.6" height="2.6" fill="#bcbdc0" stroke="#8a8a8a" stroke-width="0.5"/>
<line x1="311.2" y1="638.4" x2="311.2" y2="640.6" stroke="#999" stroke-width="0.7"/>
<circle cx="313.11" cy="636.25" r="1.7" fill="none" stroke="#333" stroke-width="0.5"/>
<circle cx="312.13" cy="633.9" r="1.7" fill="none" stroke="#333" stroke-width="0.5"/>
<circle cx="309.83" cy="635.2" r="1.7" fill="none" stroke="#333" stroke-width="0.5"/>
<circle cx="308.13" cy="636.47" r="1.7" fill="none" stroke="#333" stroke-width="0.5"/>
<circle cx="313.2" cy="633" r="1.7" fill="none" stroke="#333" stroke-width="0.5"/>
<text x="311.5" y="651.7" font-size="8.7" text-anchor="middle">3<tspan dy="-3.1" font-size="6.1">rd</tspan></text>
<rect x="321.75" y="636.01" width="10.6" height="1.59" fill="#bcbdc0" stroke="#8a8a8a" stroke-width="0.5"/>
<line x1="327.05" y1="638.4" x2="327.05" y2="640.6" stroke="#999" stroke-width="0.7"/>
<circle cx="324.29" cy="637.1" r="1.7" fill="none" stroke="#333" stroke-width="0.5"/>
<circle cx="324.05" cy="637.41" r="1.7" fill="none" stroke="#333" stroke-width="0.5"/>
<circle cx="326.68" cy="636.36" r="1.7" fill="none" stroke="#333" stroke-width="0.5"/>
<circle cx="325.79" cy="636.17" r="1.7" fill="none" stroke="#333" stroke-width="0.5"/>
<text x="327.35" y="651.7" font-size="8.7" text-anchor="middle">1<tspan dy="-3.1" font-size="6.1">st</tspan></text>
<rect x="337" y="636.3" width="10.6" height="1.3" fill="#bcbdc0" stroke="#8a8a8a" stroke-width="0.5"/>
<line x1="342.3" y1="638.4" x2="342.3" y2="640.6" stroke="#999" stroke-width="0.7"/>
<circle cx="338.6" cy="637.53" r="1.7" fill="none" stroke="#333" stroke-width="0.5"/>
<circle cx="340.18" cy="637.29" r="1.7" fill="none" stroke="#333" stroke-width="0.5"/>
<circle cx="339.97" cy="637.81" r="1.7" fill="none" stroke="#333" stroke-width="0.5"/>
<circle cx="345.45" cy="637.21" r="1.7" fill="none" stroke="#333" stroke-width="0.5"/>
<text x="342.6" y="651.7" font-size="8.7" text-anchor="middle">2<tspan dy="-3.1" font-size="6.1">nd</tspan></text>
<rect x="352.25" y="635.38" width="10.6" height="2.22" fill="#bcbdc0" stroke="#8a8a8a" stroke-width="0.5"/>
<line x1="357.55" y1="638.4" x2="357.55" y2="640.6" stroke="#999" stroke-width="0.7"/>
<circle cx="358.2" cy="636.22" r="1.7" fill="none" stroke="#333" stroke-width="0.5"/>
<circle cx="354.53" cy="635.51" r="1.7" fill="none" stroke="#333" stroke-width="0.5"/>
<circle cx="360.17" cy="634.74" r="1.7" fill="none" stroke="#333" stroke-width="0.5"/>
<circle cx="360.94" cy="636.66" r="1.7" fill="none" stroke="#333" stroke-width="0.5"/>
<text x="357.85" y="651.7" font-size="8.7" text-anchor="middle">3<tspan dy="-3.1" font-size="6.1">rd</tspan></text>
<rect x="368.1" y="629.6" width="10.6" height="8" fill="#bcbdc0" stroke="#8a8a8a" stroke-width="0.5"/>
<line x1="373.4" y1="638.4" x2="373.4" y2="640.6" stroke="#999" stroke-width="0.7"/>
<line x1="373.4" y1="626.6" x2="373.4" y2="629.6" stroke="#666" stroke-width="0.6"/>
<line x1="370.8" y1="626.6" x2="376" y2="626.6" stroke="#666" stroke-width="0.6"/>
<circle cx="370.1" cy="626.4" r="1.7" fill="none" stroke="#333" stroke-width="0.5"/>
<circle cx="373.4" cy="627.1" r="1.7" fill="none" stroke="#333" stroke-width="0.5"/>
<circle cx="376.7" cy="626.4" r="1.7" fill="none" stroke="#333" stroke-width="0.5"/>
<circle cx="372.4" cy="634.6" r="1.7" fill="none" stroke="#333" stroke-width="0.5"/>
<text x="373.7" y="651.7" font-size="8.7" text-anchor="middle">1<tspan dy="-3.1" font-size="6.1">st</tspan></text>
<rect x="383.35" y="636.02" width="10.6" height="1.58" fill="#bcbdc0" stroke="#8a8a8a" stroke-width="0.5"/>
<line x1="388.65" y1="638.4" x2="388.65" y2="640.6" stroke="#999" stroke-width="0.7"/>
<circle cx="388.26" cy="635.9" r="1.7" fill="none" stroke="#333" stroke-width="0.5"/>
<circle cx="392.61" cy="635.9" r="1.7" fill="none" stroke="#333" stroke-width="0.5"/>
<circle cx="384.86" cy="635.08" r="1.7" fill="none" stroke="#333" stroke-width="0.5"/>
<circle cx="390.39" cy="637.6" r="1.7" fill="none" stroke="#333" stroke-width="0.5"/>
<circle cx="388.65" cy="630.6" r="1.7" fill="none" stroke="#333" stroke-width="0.5"/>
<text x="388.95" y="651.7" font-size="8.7" text-anchor="middle">2<tspan dy="-3.1" font-size="6.1">nd</tspan></text>
<rect x="398.6" y="635.81" width="10.6" height="1.79" fill="#bcbdc0" stroke="#8a8a8a" stroke-width="0.5"/>
<line x1="403.9" y1="638.4" x2="403.9" y2="640.6" stroke="#999" stroke-width="0.7"/>
<circle cx="403.83" cy="636.15" r="1.7" fill="none" stroke="#333" stroke-width="0.5"/>
<circle cx="405.89" cy="635.23" r="1.7" fill="none" stroke="#333" stroke-width="0.5"/>
<circle cx="404.77" cy="636.16" r="1.7" fill="none" stroke="#333" stroke-width="0.5"/>
<circle cx="404.88" cy="635.11" r="1.7" fill="none" stroke="#333" stroke-width="0.5"/>
<circle cx="405.9" cy="631.2" r="1.7" fill="none" stroke="#333" stroke-width="0.5"/>
<text x="404.2" y="651.7" font-size="8.7" text-anchor="middle">3<tspan dy="-3.1" font-size="6.1">rd</tspan></text>
<line x1="269.1" y1="634.4" x2="412.8" y2="634.4" stroke="#1a1a1a" stroke-width="1" stroke-dasharray="7 6.4" stroke-dashoffset="4.4"/>
<line x1="275.5" y1="657.8" x2="316.4" y2="657.8" stroke="#b5b5b5" stroke-width="1"/>
<text x="294.15" y="669.2" font-size="10.8" text-anchor="middle" font-style="italic">Pdcd1</text>
<text x="293.65" y="682" font-size="10.8" text-anchor="middle">sgRNA-1</text>
<line x1="321.85" y1="657.8" x2="362.75" y2="657.8" stroke="#b5b5b5" stroke-width="1"/>
<text x="342.6" y="669.2" font-size="10.8" text-anchor="middle" font-style="italic">Pdcd1</text>
<text x="342.1" y="682" font-size="10.8" text-anchor="middle">sgRNA-2</text>
<line x1="368.2" y1="657.8" x2="409.1" y2="657.8" stroke="#b5b5b5" stroke-width="1"/>
<text x="395.15" y="669.2" font-size="10.8" text-anchor="middle" font-style="italic">Pdcd1</text>
<text x="394.65" y="682" font-size="10.8" text-anchor="middle">sgRNA-3</text>
<text x="443" y="477.5" font-size="13" font-weight="bold" fill="#111">i</text>
<text x="574.8" y="482.5" font-size="9.5" text-anchor="middle">Off-target activity</text>
<line x1="520.4" y1="488.6" x2="652.6" y2="488.6" stroke="#999" stroke-width="0.8"/>
<text x="580.7" y="504.3" font-size="9.5" text-anchor="middle">CD8<tspan dy="-3.4" font-size="6.5">+</tspan><tspan dy="3.4"> Vex</tspan><tspan dy="-3.4" font-size="6.5">+</tspan></text>
<line x1="520.4" y1="510.2" x2="652.6" y2="510.2" stroke="#999" stroke-width="0.8"/>
<line x1="513.5" y1="637.4" x2="655.2" y2="637.4" stroke="#cdcdcd" stroke-width="1.7"/>
<line x1="514" y1="514.8" x2="514" y2="637.9" stroke="#555" stroke-width="0.7"/>
<line x1="511.2" y1="637.3" x2="514" y2="637.3" stroke="#666" stroke-width="0.7"/>
<text x="508" y="640.8" font-size="10" text-anchor="end">0</text>
<line x1="511.2" y1="606.92" x2="514" y2="606.92" stroke="#666" stroke-width="0.7"/>
<text x="508" y="610.42" font-size="10" text-anchor="end">25</text>
<line x1="511.2" y1="576.55" x2="514" y2="576.55" stroke="#666" stroke-width="0.7"/>
<text x="508" y="580.05" font-size="10" text-anchor="end">50</text>
<line x1="511.2" y1="546.17" x2="514" y2="546.17" stroke="#666" stroke-width="0.7"/>
<text x="508" y="549.67" font-size="10" text-anchor="end">75</text>
<line x1="511.2" y1="515.8" x2="514" y2="515.8" stroke="#666" stroke-width="0.7"/>
<text x="508" y="519.3" font-size="10" text-anchor="end">100</text>
<text x="453.2" y="574" font-size="10.8" text-anchor="middle" transform="rotate(-90 453.2 574)">Freq. of aberrant</text>
<text x="466.2" y="574" font-size="10.8" text-anchor="middle" transform="rotate(-90 466.2 574)">sequence relative to</text>
<text x="479.2" y="574" font-size="10.8" text-anchor="middle" transform="rotate(-90 479.2 574)">control sgRNA (%)</text>
<rect x="519.6" y="635.74" width="10.6" height="1.56" fill="#bcbdc0" stroke="#8a8a8a" stroke-width="0.5"/>
<line x1="524.9" y1="638.1" x2="524.9" y2="640.3" stroke="#999" stroke-width="0.7"/>
<circle cx="524.34" cy="635.81" r="1.7" fill="none" stroke="#333" stroke-width="0.5"/>
<circle cx="523.65" cy="635.97" r="1.7" fill="none" stroke="#333" stroke-width="0.5"/>
<circle cx="524.04" cy="634.65" r="1.7" fill="none" stroke="#333" stroke-width="0.5"/>
<circle cx="524.25" cy="634.6" r="1.7" fill="none" stroke="#333" stroke-width="0.5"/>
<circle cx="525.3" cy="626.3" r="1.7" fill="none" stroke="#333" stroke-width="0.5"/>
<text x="525.2" y="651.7" font-size="8.7" text-anchor="middle">1<tspan dy="-3.1" font-size="6.1">st</tspan></text>
<rect x="534.85" y="636.14" width="10.6" height="1.16" fill="#bcbdc0" stroke="#8a8a8a" stroke-width="0.5"/>
<line x1="540.15" y1="638.1" x2="540.15" y2="640.3" stroke="#999" stroke-width="0.7"/>
<circle cx="538.26" cy="637.64" r="1.7" fill="none" stroke="#333" stroke-width="0.5"/>
<circle cx="540" cy="636.47" r="1.7" fill="none" stroke="#333" stroke-width="0.5"/>
<circle cx="543.49" cy="637.45" r="1.7" fill="none" stroke="#333" stroke-width="0.5"/>
<circle cx="540.69" cy="635.58" r="1.7" fill="none" stroke="#333" stroke-width="0.5"/>
<text x="540.45" y="651.7" font-size="8.7" text-anchor="middle">2<tspan dy="-3.1" font-size="6.1">nd</tspan></text>
<rect x="550.1" y="635.46" width="10.6" height="1.84" fill="#bcbdc0" stroke="#8a8a8a" stroke-width="0.5"/>
<line x1="555.4" y1="638.1" x2="555.4" y2="640.3" stroke="#999" stroke-width="0.7"/>
<circle cx="554.27" cy="636.94" r="1.7" fill="none" stroke="#333" stroke-width="0.5"/>
<circle cx="551.67" cy="635.31" r="1.7" fill="none" stroke="#333" stroke-width="0.5"/>
<circle cx="556.9" cy="635.95" r="1.7" fill="none" stroke="#333" stroke-width="0.5"/>
<circle cx="555.86" cy="636.4" r="1.7" fill="none" stroke="#333" stroke-width="0.5"/>
<text x="555.7" y="651.7" font-size="8.7" text-anchor="middle">3<tspan dy="-3.1" font-size="6.1">rd</tspan></text>
<rect x="565.95" y="635.92" width="10.6" height="1.38" fill="#bcbdc0" stroke="#8a8a8a" stroke-width="0.5"/>
<line x1="571.25" y1="638.1" x2="571.25" y2="640.3" stroke="#999" stroke-width="0.7"/>
<circle cx="573.97" cy="637.28" r="1.7" fill="none" stroke="#333" stroke-width="0.5"/>
<circle cx="567.53" cy="635.65" r="1.7" fill="none" stroke="#333" stroke-width="0.5"/>
<circle cx="570.15" cy="635.79" r="1.7" fill="none" stroke="#333" stroke-width="0.5"/>
<circle cx="571.57" cy="635.43" r="1.7" fill="none" stroke="#333" stroke-width="0.5"/>
<text x="571.55" y="651.7" font-size="8.7" text-anchor="middle">1<tspan dy="-3.1" font-size="6.1">st</tspan></text>
<rect x="581.2" y="635.26" width="10.6" height="2.04" fill="#bcbdc0" stroke="#8a8a8a" stroke-width="0.5"/>
<line x1="586.5" y1="638.1" x2="586.5" y2="640.3" stroke="#999" stroke-width="0.7"/>
<circle cx="589.55" cy="636.66" r="1.7" fill="none" stroke="#333" stroke-width="0.5"/>
<circle cx="589.27" cy="634.67" r="1.7" fill="none" stroke="#333" stroke-width="0.5"/>
<circle cx="588.45" cy="636.23" r="1.7" fill="none" stroke="#333" stroke-width="0.5"/>
<circle cx="587.34" cy="635.95" r="1.7" fill="none" stroke="#333" stroke-width="0.5"/>
<circle cx="584.5" cy="638.1" r="1.7" fill="none" stroke="#333" stroke-width="0.5"/>
<circle cx="588.5" cy="637.9" r="1.7" fill="none" stroke="#333" stroke-width="0.5"/>
<text x="586.8" y="651.7" font-size="8.7" text-anchor="middle">2<tspan dy="-3.1" font-size="6.1">nd</tspan></text>
<rect x="596.45" y="635.84" width="10.6" height="1.46" fill="#bcbdc0" stroke="#8a8a8a" stroke-width="0.5"/>
<line x1="601.75" y1="638.1" x2="601.75" y2="640.3" stroke="#999" stroke-width="0.7"/>
<circle cx="603.93" cy="635.31" r="1.7" fill="none" stroke="#333" stroke-width="0.5"/>
<circle cx="602.19" cy="635.37" r="1.7" fill="none" stroke="#333" stroke-width="0.5"/>
<circle cx="602.01" cy="634.75" r="1.7" fill="none" stroke="#333" stroke-width="0.5"/>
<circle cx="600.25" cy="636.82" r="1.7" fill="none" stroke="#333" stroke-width="0.5"/>
<text x="602.05" y="651.7" font-size="8.7" text-anchor="middle">3<tspan dy="-3.1" font-size="6.1">rd</tspan></text>
<rect x="612.3" y="635.88" width="10.6" height="1.42" fill="#bcbdc0" stroke="#8a8a8a" stroke-width="0.5"/>
<line x1="617.6" y1="638.1" x2="617.6" y2="640.3" stroke="#999" stroke-width="0.7"/>
<circle cx="619.44" cy="636.92" r="1.7" fill="none" stroke="#333" stroke-width="0.5"/>
<circle cx="618.45" cy="636.44" r="1.7" fill="none" stroke="#333" stroke-width="0.5"/>
<circle cx="615.26" cy="636.04" r="1.7" fill="none" stroke="#333" stroke-width="0.5"/>
<circle cx="621.3" cy="637.44" r="1.7" fill="none" stroke="#333" stroke-width="0.5"/>
<text x="617.9" y="651.7" font-size="8.7" text-anchor="middle">1<tspan dy="-3.1" font-size="6.1">st</tspan></text>
<rect x="627.55" y="635.41" width="10.6" height="1.89" fill="#bcbdc0" stroke="#8a8a8a" stroke-width="0.5"/>
<line x1="632.85" y1="638.1" x2="632.85" y2="640.3" stroke="#999" stroke-width="0.7"/>
<circle cx="632.4" cy="636.95" r="1.7" fill="none" stroke="#333" stroke-width="0.5"/>
<circle cx="633.23" cy="636.46" r="1.7" fill="none" stroke="#333" stroke-width="0.5"/>
<circle cx="629.51" cy="634.95" r="1.7" fill="none" stroke="#333" stroke-width="0.5"/>
<circle cx="635.35" cy="635.74" r="1.7" fill="none" stroke="#333" stroke-width="0.5"/>
<text x="633.15" y="651.7" font-size="8.7" text-anchor="middle">2<tspan dy="-3.1" font-size="6.1">nd</tspan></text>
<rect x="642.8" y="635.05" width="10.6" height="2.25" fill="#bcbdc0" stroke="#8a8a8a" stroke-width="0.5"/>
<line x1="648.1" y1="638.1" x2="648.1" y2="640.3" stroke="#999" stroke-width="0.7"/>
<circle cx="647.58" cy="636.42" r="1.7" fill="none" stroke="#333" stroke-width="0.5"/>
<circle cx="644.37" cy="634.59" r="1.7" fill="none" stroke="#333" stroke-width="0.5"/>
<circle cx="649.25" cy="635.3" r="1.7" fill="none" stroke="#333" stroke-width="0.5"/>
<circle cx="649.49" cy="635.17" r="1.7" fill="none" stroke="#333" stroke-width="0.5"/>
<circle cx="646.1" cy="632.1" r="1.7" fill="none" stroke="#333" stroke-width="0.5"/>
<circle cx="650.7" cy="631.3" r="1.7" fill="none" stroke="#333" stroke-width="0.5"/>
<text x="648.4" y="651.7" font-size="8.7" text-anchor="middle">3<tspan dy="-3.1" font-size="6.1">rd</tspan></text>
<line x1="514" y1="634.4" x2="656.4" y2="634.4" stroke="#1a1a1a" stroke-width="1" stroke-dasharray="7 6.4" stroke-dashoffset="4.4"/>
<line x1="519.7" y1="657.8" x2="560.6" y2="657.8" stroke="#b5b5b5" stroke-width="1"/>
<text x="538.35" y="669.2" font-size="10.8" text-anchor="middle" font-style="italic">Pdcd1</text>
<text x="537.85" y="682" font-size="10.8" text-anchor="middle">sgRNA-1</text>
<line x1="566.05" y1="657.8" x2="606.95" y2="657.8" stroke="#b5b5b5" stroke-width="1"/>
<text x="586.8" y="669.2" font-size="10.8" text-anchor="middle" font-style="italic">Pdcd1</text>
<text x="586.3" y="682" font-size="10.8" text-anchor="middle">sgRNA-2</text>
<line x1="612.4" y1="657.8" x2="653.3" y2="657.8" stroke="#b5b5b5" stroke-width="1"/>
<text x="639.35" y="669.2" font-size="10.8" text-anchor="middle" font-style="italic">Pdcd1</text>
<text x="638.85" y="682" font-size="10.8" text-anchor="middle">sgRNA-3</text>
</svg>
</body>
</html>
